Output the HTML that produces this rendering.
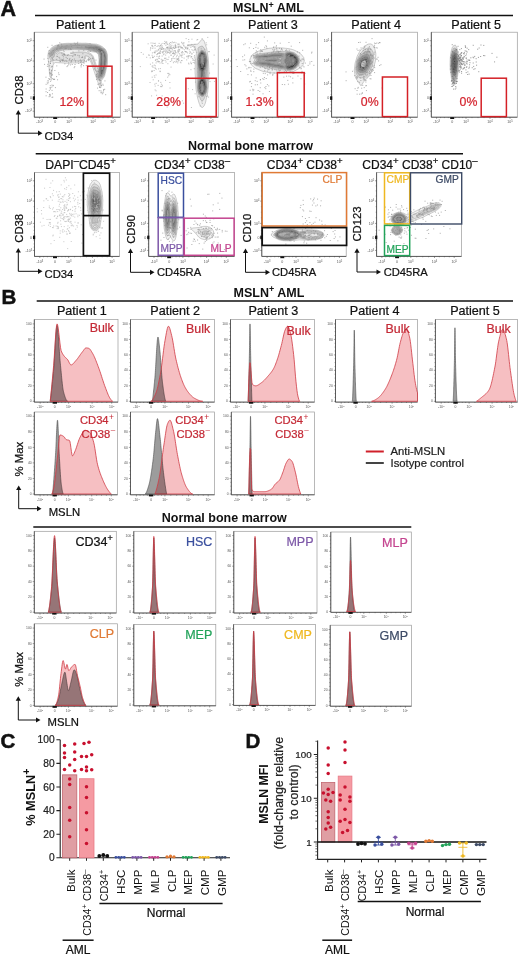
<!DOCTYPE html>
<html><head><meta charset="utf-8"><title>MSLN expression in AML and normal bone marrow</title>
<style>html,body{margin:0;padding:0;background:#fff;width:520px;height:956px;overflow:hidden}svg{display:block}</style>
</head><body>
<svg width="520" height="956" viewBox="0 0 520 956" font-family="&quot;Liberation Sans&quot;, Arial, sans-serif">
<defs><filter id="soft" x="-5%" y="-5%" width="110%" height="110%"><feGaussianBlur stdDeviation="0.3"/></filter></defs>
<rect width="520" height="956" fill="#fff"/>
<text x="0.6" y="16.4" font-size="21.5" font-weight="bold" fill="#111" stroke="#111" stroke-width="0.5">A</text>
<line x1="35" y1="15.5" x2="513" y2="15.5" stroke="#111" stroke-width="1.4"/>
<text x="268.5" y="12" font-size="12.5" text-anchor="middle" font-weight="bold" fill="#111">MSLN<tspan dy="-4.5" font-size="9">+</tspan><tspan dy="4.5"> AML</tspan></text>
<text x="80.8" y="29.4" font-size="12.6" text-anchor="middle" fill="#111" stroke="#111" stroke-width="0.22">Patient 1</text>
<rect x="34.3" y="32.2" width="86.0" height="85.0" fill="none" stroke="#9a9a9a" stroke-width="0.7"/>
<line x1="34.3" y1="32.2" x2="34.3" y2="117.2" stroke="#333" stroke-width="0.7"/>
<line x1="34.3" y1="117.2" x2="120.3" y2="117.2" stroke="#333" stroke-width="0.7"/>
<path d="M32.699999999999996 40.7h1.6M32.699999999999996 61.0h1.6M32.699999999999996 83.7h1.6M32.699999999999996 98.1h1.6M32.699999999999996 111.2h1.6M39.6 117.2v1.6M55.2 117.2v1.6M69.0 117.2v1.6M93.0 117.2v1.6M113.0 117.2v1.6M33.4 45.8h0.9M33.4 50.8h0.9M33.4 55.9h0.9M33.4 66.6h0.9M33.4 72.3h0.9M33.4 78.0h0.9M33.4 87.3h0.9M33.4 90.9h0.9M33.4 94.5h0.9M33.4 101.4h0.9M33.4 104.7h0.9M33.4 107.9h0.9M43.5 117.2v0.9M47.4 117.2v0.9M51.3 117.2v0.9M58.6 117.2v0.9M62.1 117.2v0.9M65.5 117.2v0.9M75.0 117.2v0.9M81.0 117.2v0.9M87.0 117.2v0.9M98.0 117.2v0.9M103.0 117.2v0.9M108.0 117.2v0.9" stroke="#444" stroke-width="0.5" fill="none"/>
<text x="31.9" y="41.9" font-size="3.6" text-anchor="end" fill="#555">10<tspan dy="-1" font-size="2.6">5</tspan></text>
<text x="31.9" y="62.2" font-size="3.6" text-anchor="end" fill="#555">10<tspan dy="-1" font-size="2.6">4</tspan></text>
<text x="31.9" y="84.9" font-size="3.6" text-anchor="end" fill="#555">10<tspan dy="-1" font-size="2.6">3</tspan></text>
<text x="31.9" y="99.3" font-size="3.6" text-anchor="end" fill="#555">0</text>
<text x="31.9" y="112.4" font-size="3.6" text-anchor="end" fill="#555">-10<tspan dy="-1" font-size="2.6">3</tspan></text>
<text x="39.6" y="123.4" font-size="3.6" text-anchor="middle" fill="#555">-10<tspan dy="-1" font-size="2.6">3</tspan></text>
<text x="55.2" y="123.4" font-size="3.6" text-anchor="middle" fill="#555">0</text>
<text x="69.0" y="123.4" font-size="3.6" text-anchor="middle" fill="#555">10<tspan dy="-1" font-size="2.6">3</tspan></text>
<text x="93.0" y="123.4" font-size="3.6" text-anchor="middle" fill="#555">10<tspan dy="-1" font-size="2.6">4</tspan></text>
<text x="113.0" y="123.4" font-size="3.6" text-anchor="middle" fill="#555">10<tspan dy="-1" font-size="2.6">5</tspan></text>
<rect x="32.8" y="96.30000000000001" width="2.2" height="3.6" fill="#111" stroke="none" stroke-width="1"/>
<rect x="53.199999999999996" y="117.2" width="4" height="1.8" fill="#111" stroke="none" stroke-width="1"/>
<text x="175.5" y="29.4" font-size="12.6" text-anchor="middle" fill="#111" stroke="#111" stroke-width="0.22">Patient 2</text>
<rect x="132.2" y="32.2" width="86.0" height="85.0" fill="none" stroke="#9a9a9a" stroke-width="0.7"/>
<line x1="132.2" y1="32.2" x2="132.2" y2="117.2" stroke="#333" stroke-width="0.7"/>
<line x1="132.2" y1="117.2" x2="218.2" y2="117.2" stroke="#333" stroke-width="0.7"/>
<path d="M130.6 40.7h1.6M130.6 61.0h1.6M130.6 83.7h1.6M130.6 98.1h1.6M130.6 111.2h1.6M137.5 117.2v1.6M153.1 117.2v1.6M166.9 117.2v1.6M190.9 117.2v1.6M210.9 117.2v1.6M131.29999999999998 45.8h0.9M131.29999999999998 50.8h0.9M131.29999999999998 55.9h0.9M131.29999999999998 66.6h0.9M131.29999999999998 72.3h0.9M131.29999999999998 78.0h0.9M131.29999999999998 87.3h0.9M131.29999999999998 90.9h0.9M131.29999999999998 94.5h0.9M131.29999999999998 101.4h0.9M131.29999999999998 104.7h0.9M131.29999999999998 107.9h0.9M141.4 117.2v0.9M145.3 117.2v0.9M149.2 117.2v0.9M156.5 117.2v0.9M160.0 117.2v0.9M163.4 117.2v0.9M172.9 117.2v0.9M178.9 117.2v0.9M184.9 117.2v0.9M195.9 117.2v0.9M200.9 117.2v0.9M205.9 117.2v0.9" stroke="#444" stroke-width="0.5" fill="none"/>
<text x="129.79999999999998" y="41.9" font-size="3.6" text-anchor="end" fill="#555">10<tspan dy="-1" font-size="2.6">5</tspan></text>
<text x="129.79999999999998" y="62.2" font-size="3.6" text-anchor="end" fill="#555">10<tspan dy="-1" font-size="2.6">4</tspan></text>
<text x="129.79999999999998" y="84.9" font-size="3.6" text-anchor="end" fill="#555">10<tspan dy="-1" font-size="2.6">3</tspan></text>
<text x="129.79999999999998" y="99.3" font-size="3.6" text-anchor="end" fill="#555">0</text>
<text x="129.79999999999998" y="112.4" font-size="3.6" text-anchor="end" fill="#555">-10<tspan dy="-1" font-size="2.6">3</tspan></text>
<text x="137.5" y="123.4" font-size="3.6" text-anchor="middle" fill="#555">-10<tspan dy="-1" font-size="2.6">3</tspan></text>
<text x="153.1" y="123.4" font-size="3.6" text-anchor="middle" fill="#555">0</text>
<text x="166.9" y="123.4" font-size="3.6" text-anchor="middle" fill="#555">10<tspan dy="-1" font-size="2.6">3</tspan></text>
<text x="190.9" y="123.4" font-size="3.6" text-anchor="middle" fill="#555">10<tspan dy="-1" font-size="2.6">4</tspan></text>
<text x="210.9" y="123.4" font-size="3.6" text-anchor="middle" fill="#555">10<tspan dy="-1" font-size="2.6">5</tspan></text>
<rect x="130.7" y="96.30000000000001" width="2.2" height="3.6" fill="#111" stroke="none" stroke-width="1"/>
<rect x="151.1" y="117.2" width="4" height="1.8" fill="#111" stroke="none" stroke-width="1"/>
<text x="272.9" y="29.4" font-size="12.6" text-anchor="middle" fill="#111" stroke="#111" stroke-width="0.22">Patient 3</text>
<rect x="231.6" y="32.2" width="86.00000000000003" height="85.0" fill="none" stroke="#9a9a9a" stroke-width="0.7"/>
<line x1="231.6" y1="32.2" x2="231.6" y2="117.2" stroke="#333" stroke-width="0.7"/>
<line x1="231.6" y1="117.2" x2="317.6" y2="117.2" stroke="#333" stroke-width="0.7"/>
<path d="M230.0 40.7h1.6M230.0 61.0h1.6M230.0 83.7h1.6M230.0 98.1h1.6M230.0 111.2h1.6M236.9 117.2v1.6M252.5 117.2v1.6M266.3 117.2v1.6M290.3 117.2v1.6M310.3 117.2v1.6M230.7 45.8h0.9M230.7 50.8h0.9M230.7 55.9h0.9M230.7 66.6h0.9M230.7 72.3h0.9M230.7 78.0h0.9M230.7 87.3h0.9M230.7 90.9h0.9M230.7 94.5h0.9M230.7 101.4h0.9M230.7 104.7h0.9M230.7 107.9h0.9M240.8 117.2v0.9M244.7 117.2v0.9M248.6 117.2v0.9M255.9 117.2v0.9M259.4 117.2v0.9M262.9 117.2v0.9M272.3 117.2v0.9M278.3 117.2v0.9M284.3 117.2v0.9M295.3 117.2v0.9M300.3 117.2v0.9M305.3 117.2v0.9" stroke="#444" stroke-width="0.5" fill="none"/>
<text x="229.2" y="41.9" font-size="3.6" text-anchor="end" fill="#555">10<tspan dy="-1" font-size="2.6">5</tspan></text>
<text x="229.2" y="62.2" font-size="3.6" text-anchor="end" fill="#555">10<tspan dy="-1" font-size="2.6">4</tspan></text>
<text x="229.2" y="84.9" font-size="3.6" text-anchor="end" fill="#555">10<tspan dy="-1" font-size="2.6">3</tspan></text>
<text x="229.2" y="99.3" font-size="3.6" text-anchor="end" fill="#555">0</text>
<text x="229.2" y="112.4" font-size="3.6" text-anchor="end" fill="#555">-10<tspan dy="-1" font-size="2.6">3</tspan></text>
<text x="236.9" y="123.4" font-size="3.6" text-anchor="middle" fill="#555">-10<tspan dy="-1" font-size="2.6">3</tspan></text>
<text x="252.5" y="123.4" font-size="3.6" text-anchor="middle" fill="#555">0</text>
<text x="266.3" y="123.4" font-size="3.6" text-anchor="middle" fill="#555">10<tspan dy="-1" font-size="2.6">3</tspan></text>
<text x="290.3" y="123.4" font-size="3.6" text-anchor="middle" fill="#555">10<tspan dy="-1" font-size="2.6">4</tspan></text>
<text x="310.3" y="123.4" font-size="3.6" text-anchor="middle" fill="#555">10<tspan dy="-1" font-size="2.6">5</tspan></text>
<rect x="230.1" y="96.30000000000001" width="2.2" height="3.6" fill="#111" stroke="none" stroke-width="1"/>
<rect x="250.5" y="117.2" width="4" height="1.8" fill="#111" stroke="none" stroke-width="1"/>
<text x="376.2" y="29.4" font-size="12.6" text-anchor="middle" fill="#111" stroke="#111" stroke-width="0.22">Patient 4</text>
<rect x="331.6" y="32.2" width="86.0" height="85.0" fill="none" stroke="#9a9a9a" stroke-width="0.7"/>
<line x1="331.6" y1="32.2" x2="331.6" y2="117.2" stroke="#333" stroke-width="0.7"/>
<line x1="331.6" y1="117.2" x2="417.6" y2="117.2" stroke="#333" stroke-width="0.7"/>
<path d="M330.0 40.7h1.6M330.0 61.0h1.6M330.0 83.7h1.6M330.0 98.1h1.6M330.0 111.2h1.6M336.9 117.2v1.6M352.5 117.2v1.6M366.3 117.2v1.6M390.3 117.2v1.6M410.3 117.2v1.6M330.70000000000005 45.8h0.9M330.70000000000005 50.8h0.9M330.70000000000005 55.9h0.9M330.70000000000005 66.6h0.9M330.70000000000005 72.3h0.9M330.70000000000005 78.0h0.9M330.70000000000005 87.3h0.9M330.70000000000005 90.9h0.9M330.70000000000005 94.5h0.9M330.70000000000005 101.4h0.9M330.70000000000005 104.7h0.9M330.70000000000005 107.9h0.9M340.8 117.2v0.9M344.7 117.2v0.9M348.6 117.2v0.9M355.9 117.2v0.9M359.4 117.2v0.9M362.9 117.2v0.9M372.3 117.2v0.9M378.3 117.2v0.9M384.3 117.2v0.9M395.3 117.2v0.9M400.3 117.2v0.9M405.3 117.2v0.9" stroke="#444" stroke-width="0.5" fill="none"/>
<text x="329.20000000000005" y="41.9" font-size="3.6" text-anchor="end" fill="#555">10<tspan dy="-1" font-size="2.6">5</tspan></text>
<text x="329.20000000000005" y="62.2" font-size="3.6" text-anchor="end" fill="#555">10<tspan dy="-1" font-size="2.6">4</tspan></text>
<text x="329.20000000000005" y="84.9" font-size="3.6" text-anchor="end" fill="#555">10<tspan dy="-1" font-size="2.6">3</tspan></text>
<text x="329.20000000000005" y="99.3" font-size="3.6" text-anchor="end" fill="#555">0</text>
<text x="329.20000000000005" y="112.4" font-size="3.6" text-anchor="end" fill="#555">-10<tspan dy="-1" font-size="2.6">3</tspan></text>
<text x="336.9" y="123.4" font-size="3.6" text-anchor="middle" fill="#555">-10<tspan dy="-1" font-size="2.6">3</tspan></text>
<text x="352.5" y="123.4" font-size="3.6" text-anchor="middle" fill="#555">0</text>
<text x="366.3" y="123.4" font-size="3.6" text-anchor="middle" fill="#555">10<tspan dy="-1" font-size="2.6">3</tspan></text>
<text x="390.3" y="123.4" font-size="3.6" text-anchor="middle" fill="#555">10<tspan dy="-1" font-size="2.6">4</tspan></text>
<text x="410.3" y="123.4" font-size="3.6" text-anchor="middle" fill="#555">10<tspan dy="-1" font-size="2.6">5</tspan></text>
<rect x="330.1" y="96.30000000000001" width="2.2" height="3.6" fill="#111" stroke="none" stroke-width="1"/>
<rect x="350.5" y="117.2" width="4" height="1.8" fill="#111" stroke="none" stroke-width="1"/>
<text x="476.2" y="29.4" font-size="12.6" text-anchor="middle" fill="#111" stroke="#111" stroke-width="0.22">Patient 5</text>
<rect x="431.3" y="32.2" width="85.99999999999994" height="85.0" fill="none" stroke="#9a9a9a" stroke-width="0.7"/>
<line x1="431.3" y1="32.2" x2="431.3" y2="117.2" stroke="#333" stroke-width="0.7"/>
<line x1="431.3" y1="117.2" x2="517.3" y2="117.2" stroke="#333" stroke-width="0.7"/>
<path d="M429.7 40.7h1.6M429.7 61.0h1.6M429.7 83.7h1.6M429.7 98.1h1.6M429.7 111.2h1.6M436.6 117.2v1.6M452.2 117.2v1.6M466.0 117.2v1.6M490.0 117.2v1.6M510.0 117.2v1.6M430.40000000000003 45.8h0.9M430.40000000000003 50.8h0.9M430.40000000000003 55.9h0.9M430.40000000000003 66.6h0.9M430.40000000000003 72.3h0.9M430.40000000000003 78.0h0.9M430.40000000000003 87.3h0.9M430.40000000000003 90.9h0.9M430.40000000000003 94.5h0.9M430.40000000000003 101.4h0.9M430.40000000000003 104.7h0.9M430.40000000000003 107.9h0.9M440.5 117.2v0.9M444.4 117.2v0.9M448.3 117.2v0.9M455.6 117.2v0.9M459.1 117.2v0.9M462.6 117.2v0.9M472.0 117.2v0.9M478.0 117.2v0.9M484.0 117.2v0.9M495.0 117.2v0.9M500.0 117.2v0.9M505.0 117.2v0.9" stroke="#444" stroke-width="0.5" fill="none"/>
<text x="428.90000000000003" y="41.9" font-size="3.6" text-anchor="end" fill="#555">10<tspan dy="-1" font-size="2.6">5</tspan></text>
<text x="428.90000000000003" y="62.2" font-size="3.6" text-anchor="end" fill="#555">10<tspan dy="-1" font-size="2.6">4</tspan></text>
<text x="428.90000000000003" y="84.9" font-size="3.6" text-anchor="end" fill="#555">10<tspan dy="-1" font-size="2.6">3</tspan></text>
<text x="428.90000000000003" y="99.3" font-size="3.6" text-anchor="end" fill="#555">0</text>
<text x="428.90000000000003" y="112.4" font-size="3.6" text-anchor="end" fill="#555">-10<tspan dy="-1" font-size="2.6">3</tspan></text>
<text x="436.6" y="123.4" font-size="3.6" text-anchor="middle" fill="#555">-10<tspan dy="-1" font-size="2.6">3</tspan></text>
<text x="452.2" y="123.4" font-size="3.6" text-anchor="middle" fill="#555">0</text>
<text x="466.0" y="123.4" font-size="3.6" text-anchor="middle" fill="#555">10<tspan dy="-1" font-size="2.6">3</tspan></text>
<text x="490.0" y="123.4" font-size="3.6" text-anchor="middle" fill="#555">10<tspan dy="-1" font-size="2.6">4</tspan></text>
<text x="510.0" y="123.4" font-size="3.6" text-anchor="middle" fill="#555">10<tspan dy="-1" font-size="2.6">5</tspan></text>
<rect x="429.8" y="96.30000000000001" width="2.2" height="3.6" fill="#111" stroke="none" stroke-width="1"/>
<rect x="450.2" y="117.2" width="4" height="1.8" fill="#111" stroke="none" stroke-width="1"/>
<g filter="url(#soft)">
<path d="M67.9 43.3 85.2 43.2 96.4 44.2 99.4 45.1 102.4 46.7 105.4 49.3 106.6 51.6 107.5 55.3 107.3 65.1 104.5 76.3 101.3 80.8 100.9 87.7 100.2 87.7 99.4 86.5 91.2 62.8 88.9 58.9 88.2 58.9 86.7 60.8 85.2 61.8 81.4 62.8 66.4 63.2 55.1 62.5 53.8 63.6 53.1 65.1 51.4 75.5 50.6 77.5 49.9 76.7 47.8 55.3 48.6 51.5 51.4 47.8 54.4 45.8 61.1 43.7 67.6 43.3ZM69 44.1 61.1 44.6 55.1 46.4 52.1 48.2 50.1 50.8 48.8 53.8 48.9 56.1 50.8 60.6 51.4 61.2 52.1 61.2 55.1 60.2 64.9 61.2 80.7 60.9 84.2 59.8 85.1 58.3 84.9 56 86.6 56 88.9 56.8 90.4 58.5 95.7 71.2 96.3 71.1 94.9 64.3 92.5 56.8 91.2 55 87.4 53 85.2 52.2 82.2 52 74.7 52.3 70.2 53.1 75.8 54.6 72.4 55.4 64.9 55 63.1 54.6 64 53.8 63.2 53 60.4 52.7 58.9 52.8 57.4 54.1 56.6 53.8 56.6 53.1 57.3 52.3 60.1 50.8 64.2 49.9 74.7 49.6 87.4 50 95.7 51.5 98.8 53.8 99.7 57.6 99.4 63.6 98.7 68.3 97.9 70.7 97.2 71.4 96.4 71.1 96.2 71.8 96.6 76.3 97.4 78.6 98.7 80.4 99.4 80.6 102.4 78.3 104.3 74.8 106.8 63.5 106.7 54.5 105.9 51.6 104.6 49.3 100.9 46.6 95.7 44.9 85.9 44 69.4 44ZM87.5 51.6 92.7 55.3 94.6 59.8 97.2 68 97.9 67.7 98.7 64.5 99 59.8 98.4 54.6 97.2 53.1 95.7 52.3 93 51.6 88.2 51.3Z" fill="#f2f2f2" stroke="none"/>
<path d="M69.4 44 85.9 44 95.7 44.9 100.9 46.6 104.6 49.3 105.9 51.6 106.7 54.6 106.8 63.5 104.3 74.8 102.4 78.3 99.4 80.6 98.7 80.4 97.4 78.6 96.6 76.3 96.2 71.8 96.4 71.1 97.2 71.4 97.9 70.7 98.7 68.3 99.4 63.6 99.7 57.6 98.8 53.8 95.7 51.5 87.4 50 74.7 49.6 64.2 49.9 60.1 50.8 57.3 52.3 56.6 53.1 56.6 53.8 57.4 54.1 58.9 52.8 60.4 52.7 63.2 53.1 64 53.8 63.1 54.6 64.9 55 72.4 55.4 75.8 54.6 70.2 53.1 74.7 52.3 82.2 52 85.2 52.2 87.4 53 91.2 55 92.5 56.8 94.9 64.3 96.3 71.1 95.7 71.2 90.4 58.5 88.9 56.8 86.7 56 84.9 56 85.1 58.3 84.2 59.8 80.7 60.9 64.9 61.2 55.1 60.2 52.1 61.2 51.4 61.2 50.8 60.6 48.9 56 48.8 53.8 50.1 50.8 52.1 48.2 55.1 46.4 61.1 44.6 69 44ZM68.2 44.8 61.1 45.4 53.6 48 51.5 50.1 50.1 52.3 49.6 54.6 50 56.1 51.4 57.6 52.9 57.7 54.1 56.8 55 53.1 56 51.6 59 50.1 63.4 49.1 74.7 48.7 85.9 49.3 95.7 50.9 98.9 53.1 99.7 54.5 100.2 56.8 99.6 65.8 98.7 71 97.4 74.1 97.5 76.3 98 77.8 99.4 78.8 100.9 78.4 102.4 77.3 103.7 74.8 105.7 67.3 106.5 59.8 105.9 53.1 105 50.8 103.8 49.3 99.4 46.6 94.9 45.4 85.9 44.7 68.7 44.8Z" fill="#dedede" stroke="none"/>
<path d="M68.7 44.8 85.9 44.7 94.9 45.4 99.4 46.6 103.8 49.3 105 50.8 105.9 53.1 106.5 59.8 105.7 67.3 103.7 74.8 102.4 77.3 100.9 78.4 99.4 78.8 98 77.8 97.5 76.3 97.4 74.1 98.7 71 99.6 65.8 100.2 56.8 99.7 54.6 98.9 53.1 95.7 50.9 85.9 49.3 74.7 48.7 63.4 49.1 59 50.1 56 51.6 55 53.1 54.1 56.8 52.9 57.7 51.4 57.6 50 56.1 49.6 54.5 50.1 52.3 51.5 50.1 53.6 48 61.1 45.4 68.2 44.8ZM72 45.6 61.9 46.2 55.1 48.4 52.1 50.8 50.8 53.1 50.7 54.6 51.4 55.5 52.6 55.3 54.5 51.6 56.6 49.7 63.4 48.1 74.7 47.8 85.2 48.4 91.2 49.2 96.4 50.5 99.4 52.7 100.5 55.3 100.3 64.3 98.4 75.6 99.4 77.4 100.2 77.6 101.7 77 103.5 73.3 105.8 62.8 105.8 55.3 105.1 52.3 103.8 50.1 100.2 47.6 95.7 46.1 87.4 45.4 72.4 45.5Z" fill="#c6c6c6" stroke="none"/>
<path d="M72.4 45.5 87.4 45.4 95.7 46.1 100.2 47.6 103.8 50.1 105.1 52.3 105.8 55.3 105.8 62.8 103.5 73.3 101.7 77 100.2 77.6 99.4 77.4 98.4 75.6 100.3 64.3 100.5 55.3 99.4 52.7 96.4 50.5 91.2 49.2 85.2 48.4 74.7 47.8 63.4 48.1 56.6 49.7 54.5 51.6 52.6 55.3 51.4 55.5 50.7 54.6 50.8 53.1 52.1 50.8 55.1 48.4 61.9 46.2 72 45.6ZM84.9 47.1 95.7 49.5 98.7 51.2 100.3 53.1 101 55.3 101.1 59.1 99.4 74.8 100.1 76.3 100.9 76.3 101.8 75.6 102.9 73.3 105.1 65.1 105.5 57.6 104.2 51.6 101.7 49 97.1 47.1 89.7 46.6 85.2 47Z" fill="#a8a8a8" stroke="none"/>
<path d="M85.2 47 89.7 46.6 97.2 47.1 101.7 49 104.2 51.6 105.5 57.6 105.1 65.1 102.9 73.3 101.8 75.6 100.9 76.3 100.1 76.3 99.4 74.8 101.1 59.1 101 55.3 100.3 53.1 98.7 51.2 95.7 49.5 84.9 47ZM96.7 48.5 100.2 51.8 101.5 55.3 101.5 61.3 100.4 72.6 100.9 74.5 101.7 74.1 102.4 72.8 104.3 66.6 104.9 61.3 104.9 56 104 52.3 103 50.8 100.9 49.3 97.2 48.4Z" fill="#8a8a8a" stroke="none"/>
<path d="M97.2 48.4 100.9 49.3 103 50.8 104 52.3 104.9 56 104.9 61.3 104.3 66.6 102.4 72.8 101.7 74.1 100.9 74.5 100.4 72.6 101.5 61.3 101.5 55.3 100.2 51.8 96.7 48.6ZM101.2 51.6 102 53.8 102.3 56.8 101.7 70.1 102.4 69.8 103.9 65.1 104.4 58.3 103.9 54.6 103.2 52.4 101.7 51Z" fill="#6a6a6a" stroke="none"/>
<path d="M101.7 51 103.2 52.4 103.9 54.6 104.4 58.3 103.9 65.1 102.4 69.8 101.7 70.1 102.3 56.8 102 53.8 101.2 51.6Z" fill="#9a9a9a" stroke="none"/>
<path d="M67.9 43.3 85.2 43.2 96.4 44.2 99.4 45.1 102.4 46.7 105.4 49.3 106.6 51.6 107.5 55.3 107.3 65.1 104.5 76.3 101.3 80.8 100.9 87.7 100.2 87.7 99.4 86.5 91.2 62.8 88.9 58.9 88.2 58.9 86.7 60.8 85.2 61.8 81.4 62.8 66.4 63.2 55.1 62.5 53.8 63.6 53.1 65.1 51.4 75.5 50.6 77.5 49.9 76.7 47.8 55.3 48.6 51.5 51.4 47.8 54.4 45.8 61.1 43.7 67.6 43.3ZM88.2 51.3 87.5 51.6 91.9 54.4 93.2 56.1 97.2 68 97.9 67.7 98.7 64.5 99 59.8 98.4 54.6 97.2 53.1 95.7 52.3 88.9 51.2Z" fill="none" stroke="#3c3c3c" stroke-width="0.3" stroke-opacity="0.8"/>
<path d="M69.4 44 85.9 44 95.7 44.9 100.9 46.6 104.6 49.3 105.9 51.6 106.7 54.6 106.8 63.5 104.3 74.8 102.4 78.3 99.4 80.6 98.7 80.4 97.4 78.6 96.6 76.3 96.2 71.8 96.4 71.1 97.2 71.4 97.9 70.7 98.7 68.3 99.4 63.6 99.7 57.6 98.8 53.8 95.7 51.5 87.4 50 74.7 49.6 64.2 49.9 60.1 50.8 57.3 52.3 56.6 53.1 56.6 53.8 57.4 54.1 58.9 52.8 60.4 52.7 63.2 53.1 64 53.8 63.1 54.6 64.9 55 72.4 55.4 75.8 54.6 70.2 53.1 74.7 52.3 82.2 52 85.2 52.2 87.4 53 91.2 55 92.5 56.8 94.9 64.3 96.3 71.1 95.7 71.2 90.4 58.5 88.9 56.8 86.7 56 84.9 56 85.1 58.3 84.2 59.8 80.7 60.9 64.9 61.2 55.1 60.2 52.1 61.2 51.4 61.2 50.8 60.6 48.9 56 48.8 53.8 50.1 50.8 52.1 48.2 55.1 46.4 61.1 44.6 69 44Z" fill="none" stroke="#3c3c3c" stroke-width="0.3" stroke-opacity="0.8"/>
<path d="M68.7 44.8 85.9 44.7 94.9 45.4 99.4 46.6 103.8 49.3 105 50.8 105.9 53.1 106.5 59.8 105.7 67.3 103.7 74.8 102.4 77.3 100.9 78.4 99.4 78.8 98 77.8 97.5 76.3 97.4 74.1 98.7 71 99.6 65.8 100.2 56.8 99.7 54.6 98.9 53.1 95.7 50.9 85.9 49.3 74.7 48.7 63.4 49.1 59 50.1 56 51.6 55 53.1 54.1 56.8 52.9 57.7 51.4 57.6 50 56.1 49.6 54.5 50.1 52.3 51.5 50.1 53.6 48 61.1 45.4 68.2 44.8Z" fill="none" stroke="#3c3c3c" stroke-width="0.3" stroke-opacity="0.8"/>
<path d="M72.4 45.5 87.4 45.4 95.7 46.1 100.2 47.6 103.8 50.1 105.1 52.3 105.8 55.3 105.8 62.8 103.5 73.3 101.7 77 100.2 77.6 99.4 77.4 98.4 75.6 100.3 64.3 100.5 55.3 99.4 52.7 96.4 50.5 91.2 49.2 85.2 48.4 74.7 47.8 63.4 48.1 56.6 49.7 54.5 51.6 52.6 55.3 51.4 55.5 50.7 54.6 50.8 53.1 52.1 50.8 55.1 48.4 61.9 46.2 72 45.6Z" fill="none" stroke="#3c3c3c" stroke-width="0.3" stroke-opacity="0.8"/>
<path d="M85.2 47 89.7 46.6 97.2 47.1 101.7 49 104.2 51.6 105.5 57.6 105.1 65.1 102.9 73.3 101.8 75.6 100.9 76.3 100.1 76.3 99.4 74.8 101.1 59.1 101 55.3 100.3 53.1 98.7 51.2 95.7 49.5 84.9 47Z" fill="none" stroke="#3c3c3c" stroke-width="0.3" stroke-opacity="0.8"/>
<path d="M97.2 48.4 100.9 49.3 103 50.8 104 52.3 104.9 56 104.9 61.3 104.3 66.6 102.4 72.8 101.7 74.1 100.9 74.5 100.4 72.6 101.5 61.3 101.5 55.3 100.2 51.8 96.7 48.6Z" fill="none" stroke="#3c3c3c" stroke-width="0.3" stroke-opacity="0.8"/>
<path d="M101.7 51 103.2 52.4 103.9 54.6 104.4 58.3 103.9 65.1 102.4 69.8 101.7 70.1 102.3 56.8 102 53.8 101.2 51.6Z" fill="none" stroke="#3c3c3c" stroke-width="0.3" stroke-opacity="0.8"/>
<path d="M51.1 71.8h.3M52.6 97.1h.3M49.9 56.8h.3M45.9 91.7h.3M50.3 63.5h.3M49.3 70h.3M52.3 93.8h.3M51.1 67.1h.3M45.8 77.2h.3M47.6 47.3h.3M52.7 85.9h.3M52.3 78.7h.3M48.8 66.2h.3M50.2 85.7h.3M51.9 66.3h.3M51.8 74.4h.3M53.3 59.9h.3M51.3 75.7h.3M50.5 61.7h.3M50 62.1h.3M53.2 85.4h.3M44.4 64.4h.3M50.1 74.1h.3M50.1 96h.3M46 95.8h.3M51.2 79.9h.3M48.6 78.7h.3M53.1 62.9h.3M50.5 55.9h.3M51.9 97.4h.3M53.8 78.9h.3M51.9 58.6h.3M47.9 80.5h.3M46 84.3h.3M55.3 87.6h.3M49.8 95.7h.3M49 50.6h.3M50.8 73.6h.3M50 72.9h.3M53.3 50.5h.3M50.4 81.3h.3M50.2 89.1h.3M48.4 82.1h.3M52 66.4h.3M47.2 82.2h.3M52.3 75h.3M54.7 70.5h.3M46 89h.3M43.9 59.1h.3M51.9 90.4h.3M57.4 79.8h.3M47.4 92.5h.3M47.3 66.3h.3M51.8 85.1h.3M48.4 61.7h.3M49.5 53.8h.3M49.2 90.4h.3M51.6 87.2h.3M49 96.7h.3M51.3 70.5h.3M50.2 63.5h.3M48.6 53.7h.3M49.4 79.2h.3M47.6 83.7h.3M50.2 88h.3M47.5 64.3h.3M47.7 58.4h.3M54.4 79.5h.3M50 87.6h.3M49.9 94.4h.3M52.3 58.9h.3M49.3 72.9h.3M49.5 94.4h.3M51.7 70.1h.3M51.2 78.1h.3M58.4 45.7h.3M61.2 47.3h.3M65.4 48.3h.3M81.5 46.9h.3M75.2 44.6h.3M97.5 49.2h.3M100.3 52.8h.3M91.1 49.1h.3M89.9 43.7h.3M96 51.7h.3M102 51.5h.3M56.4 49.2h.3M61.4 46h.3M70.5 48.7h.3M61.2 44.3h.3M88.4 48.7h.3M66.8 45.5h.3M66.3 48.4h.3M68.6 49.2h.3M58.5 45.1h.3M88.9 48.5h.3M86.7 47.8h.3M83.6 50.3h.3M60.2 48.7h.3M75.8 43.5h.3M88.8 49.2h.3M65 48.7h.3M72.9 51.9h.3M59.6 42.8h.3M57.4 45.6h.3M63.5 50.1h.3M74.2 43.2h.3M77.1 43.6h.3M94 51.2h.3M70.2 49.2h.3M51.9 45.3h.3M98.2 50.7h.3M57.8 47.2h.3M57.9 50.7h.3M99 50.7h.3M90.3 51.2h.3M70.8 44.4h.3M58.8 46.4h.3M71.4 46.4h.3M71 49.5h.3M95.7 51.3h.3M77.6 44.7h.3M61.8 48.6h.3M99.6 52.2h.3M86.2 47.2h.3M57.3 46.2h.3M62.1 46.4h.3M77.5 42.3h.3M60.7 47.4h.3M89.5 48.2h.3M79.1 45.3h.3M57.2 48.8h.3M91.1 45.8h.3M94.3 47.6h.3M95.7 49h.3M100.5 80.5h.3M105.5 94.7h.3M99.6 75.2h.3M99.6 87.1h.3M97.3 68.8h.3M96.6 74.5h.3M96.6 76.9h.3M101.1 92.2h.3M100.9 92.8h.3M104.5 89.3h.3M97.4 71.1h.3M103 85.3h.3M102.7 84.2h.3M99.3 79.8h.3M103.5 89.5h.3M100 80.2h.3M98.9 84.2h.3M98.9 75.5h.3M99.1 79.8h.3M99.4 87.4h.3M97.5 73.2h.3M98.7 76.7h.3M100 81.3h.3M97.8 84.3h.3M100.8 90.8h.3M97.4 88.1h.3M100.5 82.8h.3M102.2 93.8h.3M98.4 77.6h.3M98.1 71.3h.3M100.2 83.9h.3M96.5 79.5h.3M99.5 83.2h.3M101 85.2h.3M99.6 77.7h.3M101.3 85.6h.3M104.8 80.9h.3M99.1 79.2h.3M103.1 92h.3M103.4 90.6h.3M97.9 78.2h.3M96.3 76.3h.3M99 90.7h.3M98.1 76.7h.3M102.8 92.9h.3M82.4 57.4h.3M96.2 74.8h.3M77.6 55.3h.3M59.7 60.2h.3M51.1 77.2h.3M104 49.3h.3M94.1 69h.3M56.5 59.4h.3M98.5 71.5h.3M64.5 54.4h.3M86.3 61.7h.3M68.1 54.7h.3M58.9 74.6h.3M56.4 76.6h.3M49.6 65.3h.3M49.8 79.2h.3M49.5 69.3h.3M50.8 73.2h.3M99.2 75.8h.3M78.7 50.9h.3M53.4 79.5h.3M79.1 55.6h.3M80.3 59.9h.3M77.3 47.2h.3M58.4 72.9h.3M68.5 62.9h.3M86.1 65.5h.3M64.6 61.1h.3M72.6 56.4h.3M69.4 59.7h.3M57.2 56.5h.3M59.9 61.7h.3M80.9 65.4h.3M83.2 62.2h.3M67.2 58.5h.3M63.4 59.1h.3M66.6 61.6h.3M62.8 55.1h.3M75.4 61.9h.3M71.4 61.7h.3M72.2 59.5h.3M88.8 59.6h.3M81.6 61.7h.3M92.6 58.2h.3M88.7 58.1h.3M81.5 64.1h.3M70.7 62.1h.3M56.6 65.9h.3M63.3 56.8h.3M64.7 55.1h.3M81.5 64.4h.3M74.9 64.5h.3M58.8 57.3h.3M67.4 55.4h.3M81 61h.3M64.2 54.2h.3M61 59.3h.3M61.6 53h.3M71.2 60.5h.3M82.7 53.7h.3M62.3 59.7h.3M74.6 66.6h.3M62 60.4h.3M64.7 63.8h.3M74.3 59.1h.3M84.9 58h.3M62.1 55.2h.3M70.3 64.9h.3M52.1 59.9h.3M81 66.9h.3M79.2 57h.3M95.8 60.1h.3M78.1 61.4h.3M67.7 65.6h.3M74.1 67.7h.3M69.7 58.6h.3M56.8 56.2h.3M75.2 55.2h.3M83.4 65.7h.3M88.3 60.6h.3M92.6 58.6h.3M75.2 60.7h.3M63.9 51.6h.3M64.3 54.1h.3M68.6 64.3h.3M80.5 62.4h.3M62.6 61h.3M81.6 57.5h.3M83.9 63.2h.3M66.9 66.6h.3M82.3 56.9h.3M84 61.1h.3M88.7 59.4h.3M60.3 61.5h.3M80.1 61.1h.3M84.2 60.5h.3M66 57.4h.3M62.8 60.6h.3M90.6 58.7h.3M62.8 60.3h.3M65.9 60.4h.3M78.5 63.4h.3M59.5 58.1h.3M69.1 60h.3M72.1 64.5h.3" stroke="#8e8e8e" stroke-width="0.66" stroke-linecap="round" fill="none"/>
</g>
<g filter="url(#soft)">
<path d="M201.8 39.5 203.3 39.9 204.2 41.1 206.7 48.6 208.3 58.3 208.9 71.1 208.4 86.8 207.5 93.6 205.3 103.3 204 106.1 202.5 107.5 201 107 199.1 103.3 197.6 98.1 196 89.1 195 71.8 195.3 62.8 196.4 53.1 196.2 50.8 195.3 48.6 193.5 46.8 191.3 45.9 187.5 45.6 188.2 44.8 197.8 44.1 201.6 39.6ZM200.9 46.3 198.8 47.2 197.9 48.6 198.2 52.3 196.8 62.1 197 86.1 197.6 91.3 198.5 94.3 200.6 99.6 201.8 100.9 202.5 100.9 204 99.1 206 94.3 207.3 88.3 207.6 61.3 206.7 54.6 204.4 48.6 202.5 46.1 201.1 46.2Z" fill="#eeeeee" stroke="none"/>
<path d="M201 46.2 202.5 46.1 204.4 48.6 206.7 54.6 207.6 61.3 207.3 88.3 206 94.3 204 99.1 202.6 100.9 201.8 100.9 200.6 99.6 198.5 94.3 197.6 91.3 197 86.1 196.8 62.1 198.2 52.3 197.9 48.6 198.8 47.2 200.9 46.3ZM200.5 50.8 198.5 54.6 197.6 59.1 198.1 79.3 197.7 87.6 198.4 92.1 199.4 94.3 201 96.1 202.5 96.5 204 95.7 205.2 94.3 206.1 92.1 206.8 88.3 206.2 78.6 207 60.5 206.4 56.1 205 52.3 203.3 50.5 201 50.3Z" fill="#d6d6d6" stroke="none"/>
<path d="M201 50.3 203.3 50.5 205 52.3 206.4 56.1 207 60.6 206.2 78.6 206.8 88.3 206.1 92.1 205.2 94.3 204 95.7 202.5 96.5 201 96.1 199.4 94.3 198.4 92.1 197.7 87.6 198.1 79.3 197.6 59.1 198.5 54.6 200.5 50.8ZM201 51.6 199.3 53.8 198.2 59.1 198.1 64.3 199.2 71.1 199.3 77.8 198.4 83.1 198.2 87.6 198.6 90.6 199.6 93.6 201 95.2 202.5 95.5 204 94.7 204.9 93.6 206.4 87.6 206 82.3 205.1 77.8 205.2 71.1 206.1 66.6 206.6 60.6 205.9 56.1 204.9 53.1 203.3 51.4 201 51.5Z" fill="#b8b8b8" stroke="none"/>
<path d="M201 51.5 203.3 51.4 204.9 53.1 205.9 56.1 206.6 60.6 206.1 66.6 205.2 71.1 205.1 77.8 206 82.3 206.4 87.6 204.9 93.6 204 94.7 202.5 95.5 201 95.2 199.6 93.6 198.6 90.6 198.2 87.6 198.4 83.1 199.3 77.8 199.2 71.1 198.1 64.3 198.2 59.1 199.3 53.8 201 51.6ZM200.9 52.3 199.3 55.3 198.6 59.8 198.6 65.1 199.2 68.1 200.7 71.8 200.9 77.1 199.2 81.6 198.7 86.8 199.8 92.8 201 94.5 202.5 94.9 203.7 94.3 204.8 92.7 206 87.6 205.4 81.6 203.5 77.1 203.7 71.8 205.3 68.1 206.2 61.3 205.6 56.5 204.3 53.1 202.5 51.8 201 52.1ZM201.8 55.1 202.5 54.9 202.9 55.3 203.5 57.5 203.3 61.7 202.5 63.9 201.8 63.5 201 60.3 201.7 55.3ZM201.8 84.5 202.5 84.2 203.3 86.1 203.5 89.8 202.5 92 201.5 91.3 201 89.2 201.8 84.6Z" fill="#969696" stroke="none"/>
<path d="M201 52.1 202.5 51.8 204.3 53.1 205.5 56.5 206.2 61.3 205.3 68.1 203.7 71.8 203.5 77.1 205.4 81.6 206 87.6 204.8 92.7 203.7 94.3 202.5 94.9 201 94.5 199.8 92.8 198.7 86.8 199.2 81.6 200.9 77.1 200.7 71.8 199.2 68.1 198.6 65.1 198.6 59.8 199.3 55.3 200.9 52.3ZM201 53.1 199.5 57 199.2 65.1 200.3 69.4 201 70.4 202.5 70.9 204 69.7 204.8 68.1 205.7 60.6 204.8 56.3 203.8 64.3 202.7 66.6 201.8 66.5 200.5 62.8 200.1 57.5 200.6 55.3 201.8 54 203.7 54.6 204 55.6 204.2 54.5 203.5 53 202.5 52.4 201 53ZM201.7 55.3 201 60.3 201.8 63.5 202.5 63.9 203.3 61.7 203.5 57.5 202.9 55.3 202.5 54.9 201.8 55.1ZM202.5 78.6 201 79 199.7 81.6 199.3 84.6 199.5 89.1 200.9 83.8 201.8 82.4 202.5 82.2 204 84.6 204.8 89.7 205.6 86.8 204.8 81.6 204 79.7 202.5 78.5ZM201.8 84.6 201.1 89.2 201.5 91.3 202.5 92 203.5 89.8 203.3 86.1 202.5 84.2 201.8 84.5ZM200.2 91.3 200.3 92.1 200.3 90.7ZM200.7 92.8 201 93.6 202.5 94.3 203.8 92.8 201.8 92.9 201 92.4Z" fill="#707070" stroke="none"/>
<path d="M201 53 202.5 52.4 203.5 53.1 204.2 54.6 204 55.6 203.7 54.5 201.8 54 200.6 55.3 200.1 57.6 200.5 62.8 201.8 66.5 202.7 66.6 203.8 64.3 204.8 56.3 205.7 60.6 204.8 68.1 204 69.7 202.5 70.9 201 70.4 200.3 69.4 199.2 65.1 199.5 57 201 53.1ZM200.3 67.3 200.7 68.8 201.8 69.9 203.3 69.6 204.1 68.1 204 67.1 202.5 67.8 200.3 67.1ZM202.5 78.5 204 79.7 204.8 81.6 205.6 86.8 204.8 89.7 204 84.6 202.5 82.2 201.8 82.4 200.9 83.8 199.5 89.1 199.3 84.6 199.7 81.6 201 79 202.5 78.6ZM201.1 80.1 201 81.5 203.3 81.3 203.7 80.8 203.4 80.1 201.8 79.5ZM200.3 90.7 200.3 92.1 200.2 91.3ZM201 92.4 201.8 92.9 203.8 92.8 202.5 94.3 201 93.6 200.7 92.8Z" fill="#4a4a4a" stroke="none"/>
<path d="M200.3 67.1 202.5 67.8 204 67.1 204.1 68.1 203.3 69.6 201.8 69.9 200.7 68.8 200.3 67.3ZM201.8 79.5 203.4 80.1 203.7 80.8 203.3 81.3 201 81.5 201.1 80.1Z" fill="#303030" stroke="none"/>
<path d="M201.8 39.5 203.3 39.9 204.2 41.1 206.7 48.6 208.3 58.3 208.9 71.1 208.4 86.8 207.5 93.6 205.3 103.3 204 106.1 202.5 107.5 201 107 199.1 103.3 197.6 98.1 196 89.1 195 71.8 195.3 62.8 196.4 53.1 196.2 50.8 195.3 48.6 193.5 46.8 191.3 45.9 187.5 45.6 188.2 44.8 197.8 44.1 201.6 39.6Z" fill="none" stroke="#3c3c3c" stroke-width="0.3" stroke-opacity="0.8"/>
<path d="M201 46.2 202.5 46.1 204.4 48.6 206.7 54.6 207.6 61.3 207.3 88.3 206 94.3 204 99.1 202.6 100.9 201.8 100.9 200.6 99.6 198.5 94.3 197.6 91.3 197 86.1 196.8 62.1 198.2 52.3 197.9 48.6 198.8 47.2 200.9 46.3Z" fill="none" stroke="#3c3c3c" stroke-width="0.3" stroke-opacity="0.8"/>
<path d="M201 50.3 203.3 50.5 205 52.3 206.4 56.1 207 60.6 206.2 78.6 206.8 88.3 206.1 92.1 205.2 94.3 204 95.7 202.5 96.5 201 96.1 199.4 94.3 198.4 92.1 197.7 87.6 198.1 79.3 197.6 59.1 198.5 54.6 200.5 50.8Z" fill="none" stroke="#3c3c3c" stroke-width="0.3" stroke-opacity="0.8"/>
<path d="M201 51.5 203.3 51.4 204.9 53.1 205.9 56.1 206.6 60.6 206.1 66.6 205.2 71.1 205.1 77.8 206 82.3 206.4 87.6 204.9 93.6 204 94.7 202.5 95.5 201 95.2 199.6 93.6 198.6 90.6 198.2 87.6 198.4 83.1 199.3 77.8 199.2 71.1 198.1 64.3 198.2 59.1 199.3 53.8 201 51.6Z" fill="none" stroke="#3c3c3c" stroke-width="0.3" stroke-opacity="0.8"/>
<path d="M201 52.1 202.5 51.8 204.3 53.1 205.5 56.5 206.2 61.3 205.3 68.1 203.7 71.8 203.5 77.1 205.4 81.6 206 87.6 204.8 92.7 203.7 94.3 202.5 94.9 201 94.5 199.8 92.8 198.7 86.8 199.2 81.6 200.9 77.1 200.7 71.8 199.2 68.1 198.6 65.1 198.6 59.8 199.3 55.3 200.9 52.3ZM201.8 55.1 201.1 57.6 201 60.3 201.8 63.5 202.5 63.9 203.3 61.7 203.6 58.3 203.3 56.1 202.5 54.9ZM201.8 84.5 201.1 89.2 201.5 91.3 202.5 92 203.3 90.8 203.6 89.1 203.3 86.1 202.5 84.2Z" fill="none" stroke="#3c3c3c" stroke-width="0.3" stroke-opacity="0.8"/>
<path d="M201 53 202.5 52.4 203.5 53.1 204.2 54.6 204 55.6 203.7 54.5 201.8 54 200.6 55.3 200.1 57.6 200.5 62.8 201.8 66.5 202.7 66.6 203.8 64.3 204.8 56.3 205.7 60.6 204.8 68.1 204 69.7 202.5 70.9 201 70.4 200.3 69.4 199.2 65.1 199.5 57 201 53.1ZM202.5 78.5 204 79.7 204.8 81.6 205.6 86.8 204.8 89.7 204 84.6 202.5 82.2 201.8 82.4 200.9 83.8 199.5 89.1 199.3 84.6 199.7 81.6 201 79 202.5 78.6ZM200.3 90.7 200.3 92.1 200.2 91.3ZM201 92.4 201.8 92.9 203.8 92.8 202.5 94.3 201 93.6 200.7 92.8Z" fill="none" stroke="#3c3c3c" stroke-width="0.3" stroke-opacity="0.8"/>
<path d="M200.3 67.1 202.5 67.8 204 67.1 204.1 68.1 203.3 69.6 201.8 69.9 200.7 68.8 200.3 67.3ZM201.8 79.5 203.4 80.1 203.7 80.8 203.3 81.3 201 81.5 201.1 80.1Z" fill="none" stroke="#3c3c3c" stroke-width="0.3" stroke-opacity="0.8"/>
<path d="M162 47.7h.3M163.7 51.3h.3M187.5 48.5h.3M154.2 56.3h.3M177.6 62.9h.3M183.5 45.4h.3M158.6 53.4h.3M152.5 56.9h.3M162.6 52.8h.3M180.2 62.1h.3M175.9 58.2h.3M156.9 61.4h.3M169.9 44.5h.3M180.8 46.3h.3M169.4 43.4h.3M179.1 60.2h.3M194.5 63.2h.3M181.4 42.3h.3M168 59.4h.3M158.6 58h.3M165.9 62h.3M173.5 47.9h.3M191 57.7h.3M185.7 47.2h.3M164.6 43.7h.3M192.5 58.4h.3M171.7 42.9h.3M181.9 57.4h.3M154.9 48.2h.3M154.8 52.7h.3M159.3 61.6h.3M190.7 47.4h.3M181.3 52.3h.3M189.1 49.8h.3M179.6 46.2h.3M168.7 52.4h.3M173.8 46h.3M177.3 59.6h.3M189.7 55.5h.3M170.2 48.2h.3M191 63.4h.3M178.2 49.6h.3M188.2 56.8h.3M172.9 58.1h.3M181.9 47.8h.3M165.6 42.3h.3M174.1 61.6h.3M159.9 63h.3M154.6 45.7h.3M151.8 45.4h.3M182.3 51.5h.3M171 55.1h.3M191.3 63.8h.3M188.4 63.2h.3M167.7 63.7h.3M194.8 47.4h.3M177.2 55.2h.3M185.2 51.6h.3M168.7 47.1h.3M159 43.4h.3M157.9 45.7h.3M158.3 49.9h.3M177.8 43.9h.3M155.2 45.3h.3M150.9 43h.3M188.3 55.7h.3M154.6 52.8h.3M170.7 47.4h.3M172.5 53.6h.3M178.5 51.3h.3M173.2 56.5h.3M193.1 62.5h.3M184.5 49.8h.3M176.4 56.2h.3M178.4 46.8h.3M173.3 62.7h.3M194.4 55.6h.3M160.4 45.5h.3M181.7 47.7h.3M175.5 45.5h.3M151.9 45.9h.3M163.6 48.7h.3M192.6 60.1h.3M186.1 52.1h.3M150.6 48.1h.3M163.6 51.2h.3M150.5 47.9h.3M188.1 58.1h.3M155.1 43.3h.3M152.6 48.4h.3M195.2 49.1h.3M170.5 46h.3M164.6 58.2h.3M152.3 46h.3M167.9 48.6h.3M166.8 43.2h.3M174.1 58.6h.3M150.3 50h.3M156.8 56.4h.3M159.7 46.8h.3M170.3 42.5h.3M163.9 49.1h.3M178.2 59.1h.3M163.1 60.4h.3M191.8 49.7h.3M194.2 60.6h.3M152.7 43.1h.3M159.6 53.5h.3M175.9 47.7h.3M185.5 51.7h.3M152.9 46.9h.3M158.5 61.7h.3M171 48.6h.3M180.8 62.8h.3M191.6 44.4h.3M189.9 51.5h.3M186.5 51.8h.3M152.4 57.6h.3M194.9 49.6h.3M178.3 52.8h.3M154 43.5h.3M161.7 48.8h.3M178.6 57.9h.3M167.7 44.3h.3M170.5 52.2h.3M187 47.2h.3M187.9 45.6h.3M175.2 44.7h.3M186.5 59.9h.3M168.7 57.1h.3M194.8 50.3h.3M177.8 50.6h.3M194.5 58h.3M152 55.3h.3M190.6 62.2h.3M175.7 62.2h.3M182.8 52.6h.3M158.9 56.5h.3M175.2 54h.3M163.3 48.8h.3M154.9 52h.3M150.1 57.9h.3M191.7 54.2h.3M180.9 55.9h.3M159.4 52.7h.3M161.9 63h.3M171.4 59.1h.3M187.6 44.9h.3M155.4 59.9h.3M194.5 62.2h.3M193.4 60h.3M161.3 49.5h.3M179.5 50.1h.3M166.6 47.4h.3M182.1 43.2h.3M154 52.4h.3M171.6 60.7h.3M177.1 58.9h.3M178.8 56.6h.3M181.9 60.6h.3M191 56.5h.3M161.1 46.9h.3M157 59.7h.3M168 50.1h.3M176.2 61.6h.3M194.2 49.2h.3M182.7 44h.3M184 58.1h.3M194.7 44.4h.3M162.3 61.1h.3M171.7 58.7h.3M174.5 48.3h.3M159.4 56h.3M174.1 55.2h.3M180.5 47.8h.3M172.6 53.4h.3M194.6 46.5h.3M169.2 47.9h.3M159 45.9h.3M153.1 57.5h.3M185.6 47.6h.3M171 48h.3M183.6 43.8h.3M178.3 60.4h.3M191.8 53.4h.3M187.1 48.9h.3M167.2 47.6h.3M174.5 42.3h.3M185.1 51.5h.3M157.4 53.9h.3M188.7 41.8h.3M187 56.1h.3M184.1 54.2h.3M169.1 45.9h.3M175.3 47.6h.3M158.4 49.8h.3M172.8 51.8h.3M164.9 50.8h.3M172.2 41.9h.3M166.8 59.6h.3M175.5 52.4h.3M186.7 56.7h.3M156.9 59.2h.3M183 48.9h.3M148.4 55h.3M146.5 57.3h.3M170.9 55.3h.3M172 50.1h.3M177 47.1h.3M152.3 52.9h.3M170.9 46.7h.3M173.2 47.8h.3M186 38.6h.3M170.8 51.6h.3M177.8 44.8h.3M160 49h.3M169.7 50.9h.3M166.8 53.2h.3M181.3 60.6h.3M160.3 53.2h.3M161.3 44.1h.3M178.9 51.1h.3M193.1 45.9h.3M176.8 52.8h.3M175.3 46.9h.3M167.5 47.5h.3M184.8 47.1h.3M178.2 47h.3M191.8 39.2h.3M175.6 47h.3M160.7 51.9h.3M165.8 58.2h.3M160.1 50.4h.3M156.9 50.3h.3M187.4 52.9h.3M181.9 53.1h.3M158 61.1h.3M193.6 52.3h.3M174.9 50.6h.3M161.2 59.3h.3M177.4 59h.3M170.9 48.5h.3M162.8 52.7h.3M148 43.8h.3M172.3 49h.3M175.1 45.9h.3M141.1 52.5h.3M178.4 47.8h.3M179.3 49.4h.3M166.3 50.9h.3M173.6 53.6h.3M168.8 52.6h.3M161.7 48.8h.3M167.1 44.3h.3M188.7 56.4h.3M155.3 60.3h.3M174.6 48.3h.3M174.5 53.9h.3M162.8 43.4h.3M166 42.9h.3M155.1 51h.3M162.5 60h.3M171.7 45.3h.3M175.5 46.1h.3M162 60.7h.3M207.6 37.4h.3M165.5 55.1h.3M173.8 53.5h.3M169.1 50.1h.3M167.3 52.5h.3M188.8 64h.3M165.7 45.3h.3M187.8 47.9h.3M185.5 48.5h.3M159.2 48.3h.3M183.7 42.6h.3M165 60.4h.3M204.8 49.3h.3M166.5 41.8h.3M160.4 48.1h.3M149.3 55.2h.3M156.7 54.6h.3M164.4 43.7h.3M160 51.5h.3M157.4 53.7h.3M163.9 53.9h.3M169.7 53.4h.3M188.5 39.5h.3M152.5 62.9h.3M165.5 52.7h.3M161.5 61.9h.3M155.3 68.3h.3M156.8 51.4h.3M160.6 45.2h.3M181 55h.3M169.6 50.2h.3M165.4 49.1h.3M178.8 44.7h.3M176.2 60h.3M169.1 48.8h.3M175.9 42.9h.3M161.9 49.4h.3M178.9 44h.3M177.7 51.4h.3M166.9 49.1h.3M156.9 46.5h.3M190.5 52.7h.3M172.8 47.4h.3M208.8 51.8h.3M164.8 58.6h.3M182 48.1h.3M166.5 47.9h.3M175.1 51.8h.3M182.4 55h.3M162.4 51.8h.3M170.9 51.9h.3M173.9 50.7h.3M173.5 52.6h.3M179.4 53.8h.3M183.9 46.1h.3M181.7 47.5h.3M175.2 51h.3M167.5 47.7h.3M158.6 52.9h.3M163.5 54.7h.3M165.7 51.4h.3M179.9 47h.3M167.3 47.1h.3M158 61.9h.3M179.9 55.2h.3M161.9 45.7h.3M162.4 47.2h.3M170.2 61.5h.3M178.4 58.8h.3M143.2 54.2h.3M159.1 58.5h.3M173.4 42.7h.3M167.6 51.4h.3M162 56h.3M164.6 41.4h.3M152.1 77.2h.3M158.3 80.9h.3M161.8 86.6h.3M160.9 86.7h.3M160.7 86.4h.3M169.9 88h.3M169.7 82.5h.3M154.2 65.1h.3M155.1 86.1h.3M158 85.4h.3M152 66.2h.3M152.9 67.4h.3M161.3 84.2h.3M169.7 74.7h.3M155.9 90.8h.3M154 70.5h.3M162.3 85.3h.3M156 83.4h.3M150.3 64.2h.3M151.9 70.6h.3M167.6 73.4h.3M152.2 71.5h.3M162.8 63.5h.3M158.4 68.9h.3M165.4 80.4h.3M160.2 68.6h.3M154.6 84.2h.3M154.2 75.8h.3M154.7 77.3h.3M154.7 67.9h.3M155 89.9h.3M156 62.9h.3M162 95.9h.3M160.6 82.4h.3M151.4 95.9h.3M158.4 80.9h.3M168.6 73.4h.3M168.8 74.1h.3M156.4 95.3h.3M153.1 79.8h.3M155.9 75h.3M152.7 65.9h.3M155.2 65.8h.3M168.5 75.8h.3M167.5 77.2h.3M204.1 74.8h.3M187 48.8h.3M190.8 69.7h.3M202 38.6h.3M200.6 85h.3M214 55.1h.3M200.8 95.3h.3M206.7 64.8h.3M207.4 95.9h.3M199.6 79.3h.3M203.8 62h.3M194.2 56.9h.3M195.3 82.1h.3M208.4 97.1h.3M192.6 78.4h.3M206.5 44.8h.3M205.1 53.2h.3M205.6 67.9h.3M206.5 96.4h.3M204.4 77.1h.3M188.2 77.9h.3M195 93.8h.3M197.4 68.3h.3M206.5 70.4h.3M194.2 68.7h.3M196.8 40h.3M198.8 80.4h.3M208.9 79.4h.3M192.4 89.6h.3M192.9 50.6h.3M204.8 57.3h.3M188.2 88.8h.3M203 77.8h.3M198.3 96.8h.3M191.5 56.5h.3M198.5 75.6h.3M195 59.8h.3M202 77.6h.3M203.2 63.3h.3M209.9 81.6h.3M200.9 91.5h.3M201.6 84.2h.3M197.5 39.5h.3M200.9 88.9h.3M207.3 80.1h.3M189.4 53.2h.3M205 56.1h.3M197.8 72.1h.3M201.4 82.3h.3M203 63.9h.3M206.1 42.8h.3M202.4 77.1h.3M198.6 75.1h.3M201.1 48.8h.3M202.2 103.4h.3M206.2 77.5h.3M201.8 101.9h.3M149.9 82.5h.3M191.3 107.5h.3M167 107h.3M159.9 71.1h.3M209.4 73.1h.3M183.4 103.2h.3M160.1 71.6h.3M182.3 100.8h.3M181.3 55.9h.3M199.9 57.7h.3M170.9 67.1h.3M177.8 61.6h.3M151.4 71.7h.3M203.7 55.5h.3M208.9 51.5h.3M140.2 66.6h.3M196.7 52.4h.3M213 64h.3M204.4 67.8h.3M200 105.9h.3M156.1 69.2h.3M214.3 81.4h.3M168 104.7h.3M204.3 71.1h.3M198.4 59.3h.3" stroke="#a2a2a2" stroke-width="0.66" stroke-linecap="round" fill="none"/>
</g>
<g filter="url(#soft)">
<path d="M274.9 47.8 282.4 47.9 289.2 48.7 293.7 49.9 298.2 52 301.5 54.6 303.7 57.5 304.4 60.6 303.3 64.3 299.7 68.2 293.7 71.4 287.7 72.7 278.7 73.2 270.4 72.9 262.2 71.2 255.4 68.3 251.5 65.1 250 62.1 249.8 59.8 251.3 56.1 253.2 53.9 258.4 51.2 262.9 49.6 269 48.3 274.7 47.8ZM275.2 51.6 257.7 54.1 254.7 55 253.4 56.8 253.7 58.3 254.9 59.8 253.5 62.1 253.8 64.3 256.2 65.7 269.7 68.6 288.4 70.6 292.2 70 294.4 69.1 297 67.3 298.8 65.1 299.9 61.3 299.5 58.3 297.7 55.3 294.4 52.7 289.2 51.3 275.7 51.5Z" fill="#f0f0f0" stroke="none"/>
<path d="M275.7 51.5 289.2 51.3 294.4 52.7 297.7 55.3 299.5 58.3 299.9 61.3 298.8 65.1 297 67.3 294.4 69.1 292.2 70 288.4 70.6 269.7 68.6 256.2 65.7 253.8 64.3 253.5 62.1 254.9 59.8 253.7 58.3 253.4 56.8 254.7 55 257.7 54.1 275.2 51.6ZM287 52.3 284.7 53.1 277.2 52.7 256.2 55.3 254.8 56.1 254.5 57.6 256.8 59.8 256.6 60.5 254.7 62.1 254.5 63.6 255.4 64.5 256.9 65 278.7 68.5 284.7 68.9 288.4 69.8 292.2 69.3 295.2 67.9 297.9 65.1 298.8 62.8 298.8 59 297.3 56.1 294.4 53.6 291.4 52.4 287.7 52.2Z" fill="#dadada" stroke="none"/>
<path d="M287.7 52.2 291.4 52.4 294.4 53.6 297.3 56.1 298.8 59.1 298.8 62.8 297.9 65.1 295.2 67.9 292.2 69.3 288.4 69.8 284.7 68.9 278.7 68.5 256.9 65 255.5 64.5 254.5 63.6 254.7 62.1 256.6 60.5 256.8 59.8 254.5 57.6 254.8 56.1 256.2 55.3 277.2 52.7 284.7 53.1 287 52.3ZM286.6 53.1 284.7 54.5 281.7 53.5 277.9 53.5 256.4 56 255.6 56.8 255.8 57.6 258.3 59 258.5 59.8 257.9 61.3 255.5 62.8 255.7 63.6 257.7 64.3 268.2 65.7 280.9 68 284.7 67.9 287.7 69.2 290.7 69.2 292.9 68.5 295.9 66.6 297.7 64.3 298.5 61.3 298 58.3 295.9 55.4 292.9 53.4 289.9 52.7 286.9 52.9ZM277.9 57.4 280.9 57.6 281.6 58.3 280.2 60.1 277.3 57.6ZM280.2 61.1 280.9 61.8 281.4 63.5 280.2 63.9 277.9 63.6 277.6 62.8 280.1 61.3Z" fill="#c0c0c0" stroke="none"/>
<path d="M286.9 52.9 289.9 52.7 292.9 53.4 295.9 55.4 298 58.3 298.5 61.3 297.7 64.3 295.9 66.6 292.9 68.5 290.7 69.2 287.7 69.2 284.7 67.9 280.9 68 268.2 65.7 257.7 64.3 255.7 63.6 255.5 62.8 257.9 61.3 258.5 59.8 258.3 59.1 255.8 57.6 255.6 56.8 256.4 56.1 277.9 53.5 281.7 53.5 284.7 54.5 286.6 53.1ZM286.3 53.8 285.5 55.3 286.2 57.6 284.2 60.6 284.7 62.6 286.3 64.3 285.2 66.6 285.5 67.3 286.9 68.5 288.4 68.9 291.4 68.6 293.7 67.7 296.2 65.8 297.6 63.6 298 60.6 297.5 58.3 296.1 56.1 293.7 54.2 289.9 53.1 286.9 53.4ZM275.7 54.6 258.9 56.8 260.7 57.2 267.4 57 281.2 56.1 282.5 55.3 281.9 54.6 280.9 54.4 276.4 54.5ZM277.3 57.6 280.2 60.1 281.6 58.3 280.9 57.6 277.9 57.4ZM266.7 59.8 265.4 60.6 268.2 61.1 274.2 61.4 275.9 61.3 276.9 60.5 276.5 59.8 274.9 59.5 266.7 59.8ZM280.1 61.3 277.6 62.8 277.9 63.6 280.2 63.9 281.4 63.5 280.9 61.8 280.2 61.1ZM258.6 62.8 259.4 63.5 281.6 67.3 282.6 67.3 283.8 66.6 282.4 65.5 276.4 64.7 267.4 62.4 259.2 62.6ZM292.9 59.3 293.7 60.2 293.8 61.3 292.9 62.9 292.6 62.8 292.7 59.8Z" fill="#a2a2a2" stroke="none"/>
<path d="M286.9 53.4 289.9 53.1 293.7 54.2 296.1 56.1 297.5 58.3 298 60.5 297.6 63.6 296.2 65.8 293.7 67.7 291.4 68.6 288.4 68.9 286.9 68.5 285.5 67.3 285.2 66.6 286.3 64.3 284.7 62.6 284.2 60.6 286.2 57.6 285.5 55.3 286.3 53.8ZM287.2 53.8 286.4 54.6 286.3 55.3 286.9 56.2 292.2 57.2 293.7 58.3 294.6 59.8 294.7 62 293.1 64.3 291.4 65.1 287.7 65.6 286.3 66.6 286.3 67.3 287.7 68.3 291.4 68.2 294.4 66.8 296.3 65.1 297.4 62.5 297.5 59.8 296.7 57.5 294.4 55.2 290.7 53.6 287.7 53.6ZM292.7 59.8 292.6 62.8 292.9 62.9 293.8 61.3 293.7 60.2 292.9 59.3ZM276.4 54.5 280.9 54.4 281.9 54.6 282.5 55.3 281.2 56.1 267.4 57 260.7 57.2 258.9 56.8 275.7 54.6ZM266.7 59.8 274.9 59.5 276.5 59.8 276.9 60.6 275.9 61.3 274.2 61.4 268.2 61.1 265.4 60.6 266.7 59.8ZM259.2 62.6 267.4 62.4 276.4 64.7 282.4 65.5 283.8 66.6 282.6 67.3 281.6 67.3 259.4 63.6 258.6 62.8Z" fill="#7e7e7e" stroke="none"/>
<path d="M287.7 53.6 290.7 53.6 294.4 55.2 296.7 57.6 297.5 59.8 297.4 62.5 296.3 65.1 294.4 66.8 291.4 68.2 287.7 68.3 286.3 67.3 286.3 66.6 287.7 65.6 291.4 65.1 293.1 64.3 294.7 62 294.6 59.8 293.7 58.3 292.2 57.2 286.9 56.2 286.3 55.3 286.4 54.6 287.2 53.8ZM287.3 54.6 287.7 55.6 290.7 55.9 292.9 56.8 294.6 58.3 295.4 59.8 295.4 62.1 293.7 64.7 291.4 65.9 287.7 66.5 287.3 67.3 289.2 68 292.4 67.3 294.8 65.8 296.7 63.2 297.1 61.3 296.7 58.8 295.5 56.8 293.7 55.3 290.7 54.2 287.7 54.3Z" fill="#5a5a5a" stroke="none"/>
<path d="M287.7 54.3 290.7 54.2 293.7 55.3 295.5 56.8 296.7 58.8 297.1 61.3 296.7 63.2 294.8 65.8 292.4 67.3 289.2 68 287.3 67.3 287.7 66.5 291.4 65.9 293.7 64.7 295.4 62.1 295.4 59.8 294.6 58.3 292.9 56.8 290.7 55.9 287.7 55.6 287.3 54.6Z" fill="#3e3e3e" stroke="none"/>
<path d="M274.9 47.8 282.4 47.9 289.2 48.7 293.7 49.9 298.2 52 301.5 54.6 303.7 57.5 304.4 60.6 303.3 64.3 299.7 68.2 293.7 71.4 287.7 72.7 278.7 73.2 270.4 72.9 262.2 71.2 255.4 68.3 251.5 65.1 250 62.1 249.8 59.8 251.3 56.1 253.2 53.9 258.4 51.2 262.9 49.6 269 48.3 274.7 47.8Z" fill="none" stroke="#3c3c3c" stroke-width="0.3" stroke-opacity="0.8"/>
<path d="M275.7 51.5 289.2 51.3 294.4 52.7 297.7 55.3 299.5 58.3 299.9 61.3 298.8 65.1 297 67.3 294.4 69.1 292.2 70 288.4 70.6 269.7 68.6 256.2 65.7 253.8 64.3 253.5 62.1 254.9 59.8 253.7 58.3 253.4 56.8 254.7 55 257.7 54.1 275.2 51.6Z" fill="none" stroke="#3c3c3c" stroke-width="0.3" stroke-opacity="0.8"/>
<path d="M287.7 52.2 291.4 52.4 294.4 53.6 297.3 56.1 298.8 59.1 298.8 62.8 297.9 65.1 295.2 67.9 292.2 69.3 288.4 69.8 284.7 68.9 278.7 68.5 256.9 65 255.5 64.5 254.5 63.6 254.7 62.1 256.6 60.5 256.8 59.8 254.5 57.6 254.8 56.1 256.2 55.3 277.2 52.7 284.7 53.1 287 52.3Z" fill="none" stroke="#3c3c3c" stroke-width="0.3" stroke-opacity="0.8"/>
<path d="M286.9 52.9 289.9 52.7 292.9 53.4 295.9 55.4 298 58.3 298.5 61.3 297.7 64.3 295.9 66.6 292.9 68.5 290.7 69.2 287.7 69.2 284.7 67.9 280.9 68 268.2 65.7 257.7 64.3 255.7 63.6 255.5 62.8 257.9 61.3 258.5 59.8 258.3 59.1 255.8 57.6 255.6 56.8 256.4 56.1 277.9 53.5 281.7 53.5 284.7 54.5 286.6 53.1ZM277.9 57.4 277.3 57.6 277.8 58.3 280.2 60.1 280.9 59.6 281.6 58.3 280.9 57.6 278.7 57.4ZM280.2 61.1 277.6 62.8 277.9 63.6 280.2 63.9 281.4 63.5 280.9 61.8 280.3 61.3Z" fill="none" stroke="#3c3c3c" stroke-width="0.3" stroke-opacity="0.8"/>
<path d="M286.9 53.4 289.9 53.1 293.7 54.2 296.1 56.1 297.5 58.3 298 60.5 297.6 63.6 296.2 65.8 293.7 67.7 291.4 68.6 288.4 68.9 286.9 68.5 285.5 67.3 285.2 66.6 286.3 64.3 284.7 62.6 284.2 60.6 286.2 57.6 285.5 55.3 286.3 53.8ZM276.4 54.5 280.9 54.4 281.9 54.6 282.5 55.3 281.2 56.1 267.4 57 260.7 57.2 258.9 56.8 275.7 54.6ZM266.7 59.8 274.9 59.5 276.5 59.8 276.9 60.6 275.9 61.3 274.2 61.4 268.2 61.1 265.4 60.6 266.7 59.8ZM292.9 59.3 292.6 62.8 292.9 62.9 293.8 61.3 293.3 59.8ZM259.2 62.6 267.4 62.4 276.4 64.7 282.4 65.5 283.8 66.6 282.6 67.3 281.6 67.3 259.4 63.6 258.6 62.8Z" fill="none" stroke="#3c3c3c" stroke-width="0.3" stroke-opacity="0.8"/>
<path d="M287.7 53.6 290.7 53.6 294.4 55.2 296.7 57.6 297.5 59.8 297.4 62.5 296.3 65.1 294.4 66.8 291.4 68.2 287.7 68.3 286.3 67.3 286.3 66.6 287.7 65.6 291.4 65.1 293.1 64.3 294.7 62 294.6 59.8 293.7 58.3 292.2 57.2 286.9 56.2 286.3 55.3 286.4 54.6 287.2 53.8Z" fill="none" stroke="#3c3c3c" stroke-width="0.3" stroke-opacity="0.8"/>
<path d="M287.7 54.3 290.7 54.2 293.7 55.3 295.5 56.8 296.7 58.8 297.1 61.3 296.7 63.2 294.8 65.8 292.4 67.3 289.2 68 287.3 67.3 287.7 66.5 291.4 65.9 293.7 64.7 295.4 62.1 295.4 59.8 294.6 58.3 292.9 56.8 290.7 55.9 287.7 55.6 287.3 54.6Z" fill="none" stroke="#3c3c3c" stroke-width="0.3" stroke-opacity="0.8"/>
<path d="M309.7 63.9h.3M236.1 59.7h.3M283.7 77.1h.3M267.9 56h.3M269.8 65.6h.3M273.6 61.2h.3M244.7 64.7h.3M273.3 51.2h.3M263.2 73.3h.3M280.6 60.3h.3M271.4 53h.3M272.5 54.5h.3M266.3 64.2h.3M260.1 67.4h.3M270.7 65.6h.3M284.7 69.1h.3M273.2 65.4h.3M292.3 60.2h.3M273.8 66.3h.3M277.4 64.5h.3M301.7 59.2h.3M285.7 65.4h.3M268.9 69.6h.3M274.1 61.8h.3M285.6 57.3h.3M308 65.4h.3M272.7 74.3h.3M273.1 58.4h.3M293 59.3h.3M262.8 59h.3M272.3 69.2h.3M291.1 46.2h.3M286.3 62.7h.3M278.5 68.9h.3M287.7 53.9h.3M293.3 64h.3M261.6 55.9h.3M250.3 61.5h.3M281.4 48.5h.3M288.2 55.8h.3M269.9 73.7h.3M259.8 53.3h.3M277.4 73.8h.3M276.2 59.4h.3M299.5 67.5h.3M289 60.3h.3M280.1 43.2h.3M294.8 55.7h.3M273.7 61.4h.3M262.2 51.4h.3M286.3 49.9h.3M286.3 62.7h.3M273.6 55.1h.3M264.5 47.3h.3M280.7 54.9h.3M237.1 66.5h.3M288 56.4h.3M284.9 67h.3M250.8 71.5h.3M278 60.2h.3M261.6 51.5h.3M289.1 50.2h.3M244.5 59.8h.3M262.4 66.6h.3M288.4 62h.3M295.5 64.1h.3M242.5 56.7h.3M269 62.3h.3M282.2 56.5h.3M267.3 57.6h.3M302.5 50.3h.3M257.9 48.2h.3M282.7 56.4h.3M260.2 51.7h.3M299.5 52.8h.3M276.7 65h.3M271 59.2h.3M249.5 81.9h.3M303.9 66.9h.3M289 55.3h.3M289.1 65.8h.3M295.2 62.7h.3M282.6 54.9h.3M266.8 68.3h.3M264.2 54.2h.3M264.2 37.1h.3M298.9 66h.3M253.6 55.4h.3M267.5 71.1h.3M271.9 55.1h.3M280.6 51.1h.3M286.2 71.6h.3M257 51.9h.3M249.3 61.5h.3M276.9 70.9h.3M296.4 60.9h.3M289.1 59.4h.3M280.5 60.8h.3M271.9 66.3h.3M281.7 53.9h.3M273.1 64.6h.3M290.1 64.3h.3M264.3 77.5h.3M279.1 57.5h.3M275.2 53.1h.3M285.7 65.5h.3M280.6 57h.3M301 61h.3M300.9 68.8h.3M244.4 55.1h.3M271.6 59.3h.3M267.3 40.9h.3M285.5 53.3h.3M240.5 71.5h.3M295.8 54.9h.3M294.1 54.7h.3M256.2 50.9h.3M261.3 64.3h.3M264.2 61.3h.3M277.7 51.1h.3M287.3 65h.3M309.8 62h.3M273.8 65.7h.3M289.3 55.2h.3M279.5 73h.3M305.2 63.1h.3M288.9 59.1h.3M298.9 56.1h.3M259.8 58.2h.3M273.9 66.4h.3M264 58h.3M301.1 68.1h.3M287.5 64.4h.3M272.1 70.1h.3M269.8 66.1h.3M284.8 59.5h.3M265.8 45.7h.3M262.1 62.2h.3M284.7 65.9h.3M273.1 64.2h.3M268.1 56.5h.3M258.3 57.1h.3M255.6 52.9h.3M285.4 70.2h.3M290.6 61.2h.3M277.1 56.3h.3M282.3 50h.3M278.9 58.9h.3M279.2 70.8h.3M252.6 63.5h.3M269.7 54.6h.3M278.8 70.7h.3M264.5 70.7h.3M269.4 67.4h.3M263.9 65.9h.3M271.7 68.7h.3M290.6 64.1h.3M270.5 65.8h.3M274.5 54.1h.3M290 71.2h.3M287.3 61.7h.3M304.1 75.2h.3M243.6 44.7h.3M290.7 65.3h.3M269.3 67.4h.3M279.2 57.4h.3M290.4 63.4h.3M294.3 65.6h.3M293.6 64.3h.3M279.5 56h.3M302.8 58.9h.3M272.5 67.6h.3M274.7 69.6h.3M289.8 60.7h.3M268.2 60.6h.3M311.6 61.5h.3M293.3 67.8h.3M311.8 52.1h.3M276.6 50h.3M270.9 60.9h.3M279.7 51.7h.3M288.8 55.6h.3M267.6 60.6h.3M283.1 63.6h.3M276.7 52h.3M302.9 66h.3M266.4 46.7h.3M293.7 64.1h.3M266.7 48.2h.3M261.6 50.4h.3M265.6 64.8h.3M258 57h.3M279.3 54h.3M293.5 56.7h.3M279.6 63.5h.3M287 59.6h.3M303.1 59.8h.3M281.3 67.9h.3M280.1 54.6h.3M272.6 56.5h.3M251.3 56.1h.3M289.2 68.8h.3M248.9 67.4h.3M287.4 69.7h.3M276.8 59.7h.3M295 58.8h.3M275.9 66.4h.3M263.8 57h.3M282.7 66.2h.3M268 65.4h.3M274.1 54.8h.3M277.7 59.4h.3M274.8 59.1h.3M274 73h.3M263.7 79.4h.3M274 59.3h.3M242.8 60.1h.3M274.5 42.9h.3M257.8 61.6h.3M294.9 59.9h.3M297.3 52h.3M245.8 65.9h.3M279.3 48.3h.3M275 58.4h.3M260.3 61h.3M285.5 50.6h.3M269.6 66.4h.3M248.7 67.9h.3M272.7 49.6h.3M274.6 49.4h.3M278.7 64.5h.3M257.3 59.8h.3M286.9 50.9h.3M288.8 57.8h.3M258.7 59.2h.3M266.5 58.9h.3M275.7 66.2h.3M267.9 62.9h.3M304.9 73.3h.3M280.3 70.3h.3M260.8 65.1h.3M264.4 68.1h.3M276.1 69.9h.3M313.7 65.3h.3M274.1 50.8h.3M279 66.4h.3M258 90.5h.3M267.4 74.9h.3M260.1 87.7h.3M257 81.4h.3M265.6 88.7h.3M267.3 84.6h.3M252.9 94.2h.3M260.3 79.8h.3M252.9 90.7h.3M253.6 89.8h.3M260.6 83h.3M255.1 80.7h.3M266.1 78.5h.3M257.3 84.7h.3M253.6 71.7h.3M262.6 78.7h.3M255.2 84.8h.3M251.3 74.9h.3M270 72.3h.3M253.7 69.1h.3M252.6 89.3h.3M259.6 91.4h.3M250.1 90.2h.3M265.8 86.5h.3M251.5 83.5h.3M250.8 67.7h.3M269.3 91.5h.3M260.3 79.7h.3M268.6 85.9h.3M267.9 69.5h.3M264.7 87.6h.3M250.6 70.3h.3M262.9 93.8h.3M251.3 86.6h.3M250.2 81.4h.3M288.8 42.5h.3M260.4 49.8h.3M278.4 52.2h.3M250.8 63.3h.3M263.7 59.5h.3M264.1 62.5h.3M256.1 44.7h.3M272.9 52.3h.3M249.2 47.8h.3M246.7 68.9h.3M267.3 66.6h.3M311.4 53h.3M293.7 73.5h.3M273.7 46.9h.3M258.4 42.6h.3M253.1 55.4h.3M272.9 66.1h.3M288.8 76.1h.3M300.4 60.3h.3M276 46.9h.3M302.1 63.5h.3M299.4 42.6h.3M301.9 71.4h.3M267.2 53.6h.3M276.3 45.7h.3M255.7 47.4h.3M284.2 71.8h.3M247.8 74.6h.3M276.5 48.6h.3M256 77.9h.3M277 73h.3M257.1 53.9h.3M245.1 43.8h.3M273.3 47.4h.3M273.7 57.7h.3M281.3 49.4h.3M253.4 48.5h.3M278.4 51.8h.3M265.1 73.6h.3M250.5 43.3h.3M272.5 75.2h.3M289.7 58.2h.3M265.3 68.6h.3M292.8 60.4h.3M297.8 76h.3M284.5 84.6h.3M286.4 76.2h.3M292.7 73.5h.3M292.7 82.9h.3M288.3 84.2h.3M287.6 80.4h.3M282.2 84.5h.3M292.6 78.2h.3M300.8 78.8h.3M301.7 73h.3M290.4 76.8h.3M304.5 84h.3" stroke="#8e8e8e" stroke-width="0.66" stroke-linecap="round" fill="none"/>
</g>
<g filter="url(#soft)">
<path d="M368.2 44 370.5 43.9 372 44.5 373.5 45.9 374.6 47.8 375.9 53.8 375.4 61.3 373.8 67.3 371 73.3 368.2 77.3 363.7 81.6 361.5 85.4 360.7 85.6 356.2 78.9 355.1 76.3 354.3 70.3 355 63.6 357.2 56.1 360 50.9 363.7 46.7 368.1 44.1ZM368.2 47.8 364.5 49.5 360.7 53 358.4 56.8 356.7 61.3 355.7 67.3 355.9 72.6 357.5 76.3 360 77.9 361.5 78 363.7 77.3 367.5 74.6 370.4 70.3 372.5 65.1 373.7 58.3 373.2 52.3 371.2 48.8 369.7 47.9 368.2 47.8Z" fill="#eeeeee" stroke="none"/>
<path d="M368.2 47.8 369.7 47.9 371.2 48.8 373.2 52.3 373.7 58.3 372.5 65.1 370.4 70.3 367.5 74.6 363.7 77.3 361.5 78 360 77.9 357.5 76.3 355.9 72.6 355.7 67.3 356.7 61.3 358.4 56.8 360.7 53 364.5 49.5 368.2 47.8ZM365.8 51.6 363 53.2 360.7 55.3 358.8 58.3 357.2 62.8 356.6 67.3 356.9 71.1 357.7 73.5 358.5 74.3 360 75 363.7 74.6 366.7 72.7 369.5 68.8 371.4 63.6 372 58.3 371.2 53.8 370.3 52.3 369 51.2 367.5 51 366 51.5Z" fill="#d6d6d6" stroke="none"/>
<path d="M366 51.5 367.5 51 369 51.2 370.3 52.3 371.2 53.8 372 58.3 371.4 63.6 369.5 68.8 366.7 72.7 363.7 74.6 360 75 358.5 74.3 357.7 73.5 356.9 71.1 356.6 67.3 357.2 62.8 358.8 58.3 360.7 55.3 363 53.2 365.8 51.6ZM364.6 54.5 360.7 57.3 359.2 59.8 358.1 62.8 357.5 66.6 357.7 69.6 358.5 71.5 360 72.6 363.7 72.5 366 71.2 368.4 68.1 369.8 64.3 370.4 59.8 369.6 56.1 368.2 54.4 366.7 54 365.2 54.3Z" fill="#bababa" stroke="none"/>
<path d="M365.2 54.3 366.7 54 368.2 54.4 369.6 56 370.4 59.8 369.8 64.3 368.4 68.1 366 71.2 363.7 72.5 360 72.6 358.5 71.5 357.7 69.6 357.5 66.6 358.1 62.8 359.2 59.8 360.7 57.3 364.6 54.6ZM363.9 56.8 360.7 59.1 358.8 63.5 358.4 66.6 358.7 68.8 359.2 69.9 360.7 70.8 362.9 70.9 365.2 69.9 367.5 67.3 368.7 64.3 369 60.6 368.2 57.6 366.7 56.4 364.5 56.6Z" fill="#9a9a9a" stroke="none"/>
<path d="M364.5 56.6 366.7 56.4 368.2 57.6 369 60.6 368.7 64.3 367.5 67.3 365.2 69.9 363 70.9 360.7 70.8 359.2 69.9 358.7 68.8 358.4 66.6 358.8 63.5 360.7 59.1 363.9 56.8ZM365 58.3 361.8 59.8 359.9 62.8 359.4 65.1 359.6 67.3 360 68.1 361.5 69.1 363.7 69.1 365.2 68.2 367.3 65.1 367.8 62.8 367.7 60.5 366.7 58.8 365.2 58.3Z" fill="#7a7a7a" stroke="none"/>
<path d="M365.2 58.3 366.7 58.8 367.7 60.5 367.8 62.8 367.3 65.1 365.2 68.2 363.7 69.1 361.5 69.1 360 68.1 359.6 67.3 359.4 65.1 359.9 62.8 361.8 59.8 365 58.3ZM364.2 60.5 362.2 61.7 361.2 63.6 361.1 65.8 362.2 67 364.5 66.7 366.1 64.3 366 61.3 364.5 60.5Z" fill="#5c5c5c" stroke="none"/>
<path d="M364.5 60.5 366 61.3 366.1 64.3 364.5 66.7 362.2 67 361.1 65.8 361.2 63.6 362.2 61.7 364.2 60.5Z" fill="#c4c4c4" stroke="none"/>
<path d="M368.2 44 370.5 43.9 372 44.5 373.5 45.9 374.6 47.8 375.9 53.8 375.4 61.3 373.8 67.3 371 73.3 368.2 77.3 363.7 81.6 361.5 85.4 360.7 85.6 356.2 78.9 355.1 76.3 354.3 70.3 355 63.6 357.2 56.1 360 50.9 363.7 46.7 368.1 44.1Z" fill="none" stroke="#3c3c3c" stroke-width="0.3" stroke-opacity="0.8"/>
<path d="M368.2 47.8 369.7 47.9 371.2 48.8 373.2 52.3 373.7 58.3 372.5 65.1 370.4 70.3 367.5 74.6 363.7 77.3 361.5 78 360 77.9 357.5 76.3 355.9 72.6 355.7 67.3 356.7 61.3 358.4 56.8 360.7 53 364.5 49.5 368.2 47.8Z" fill="none" stroke="#3c3c3c" stroke-width="0.3" stroke-opacity="0.8"/>
<path d="M366 51.5 367.5 51 369 51.2 370.3 52.3 371.2 53.8 372 58.3 371.4 63.6 369.5 68.8 366.7 72.7 363.7 74.6 360 75 358.5 74.3 357.7 73.5 356.9 71.1 356.6 67.3 357.2 62.8 358.8 58.3 360.7 55.3 363 53.2 365.8 51.6Z" fill="none" stroke="#3c3c3c" stroke-width="0.3" stroke-opacity="0.8"/>
<path d="M365.2 54.3 366.7 54 368.2 54.4 369.6 56 370.4 59.8 369.8 64.3 368.4 68.1 366 71.2 363.7 72.5 360 72.6 358.5 71.5 357.7 69.6 357.5 66.6 358.1 62.8 359.2 59.8 360.7 57.3 364.6 54.6Z" fill="none" stroke="#3c3c3c" stroke-width="0.3" stroke-opacity="0.8"/>
<path d="M364.5 56.6 366.7 56.4 368.2 57.6 369 60.6 368.7 64.3 367.5 67.3 365.2 69.9 363 70.9 360.7 70.8 359.2 69.9 358.7 68.8 358.4 66.6 358.8 63.5 360.7 59.1 363.9 56.8Z" fill="none" stroke="#3c3c3c" stroke-width="0.3" stroke-opacity="0.8"/>
<path d="M365.2 58.3 366.7 58.8 367.7 60.5 367.8 62.8 367.3 65.1 365.2 68.2 363.7 69.1 361.5 69.1 360 68.1 359.6 67.3 359.4 65.1 359.9 62.8 361.8 59.8 365 58.3Z" fill="none" stroke="#3c3c3c" stroke-width="0.3" stroke-opacity="0.8"/>
<path d="M364.5 60.5 366 61.3 366.1 64.3 364.5 66.7 362.2 67 361.1 65.8 361.2 63.6 362.2 61.7 364.2 60.5Z" fill="none" stroke="#3c3c3c" stroke-width="0.3" stroke-opacity="0.8"/>
<path d="M361.4 67.6h.3M360.4 62.4h.3M377.1 48h.3M372.6 57.2h.3M364.5 78.8h.3M367.7 62.7h.3M371.4 70.2h.3M370.3 61.8h.3M354.6 75.6h.3M370.2 60.8h.3M367 60h.3M369.3 46.7h.3M370.4 60.1h.3M367.1 57.1h.3M345.9 71.9h.3M379.9 42.7h.3M365.7 82h.3M367.9 51.2h.3M362.6 64.6h.3M364.3 70.8h.3M356.9 66.4h.3M365.3 68.9h.3M365.3 58h.3M363.3 62.5h.3M364.7 46.3h.3M356.9 78.6h.3M371.3 63.7h.3M370.1 72.6h.3M370.3 55.3h.3M359.4 82.3h.3M359.9 64h.3M369.9 61.1h.3M369.9 78.7h.3M359.7 50.1h.3M372.2 62.1h.3M356.8 49h.3M366.3 52.3h.3M364.8 72h.3M356.1 67.6h.3M356.9 61.7h.3M368.5 55.1h.3M372.5 55.1h.3M361 68.1h.3M370.9 69.9h.3M359.2 68.5h.3M373.2 70.3h.3M365.5 64.5h.3M366.4 63.6h.3M374.4 43.1h.3M365.8 67.4h.3M374.5 67.6h.3M378.4 60.9h.3M365.8 72h.3M363.6 65.3h.3M359.3 60.1h.3M363.6 53.4h.3M361.9 74.7h.3M368.7 48.7h.3M364.3 65.3h.3M366 60.4h.3M370.5 54.6h.3M360.2 53.6h.3M363 50.3h.3M371.9 62h.3M369.9 63.5h.3M363.5 58.1h.3M369.6 73.5h.3M365.3 49.3h.3M362 69.1h.3M352.4 71.3h.3M375.6 43.5h.3M365.1 63.3h.3M367.9 75h.3M374.4 45.3h.3M365.1 65.3h.3M369.3 52h.3M369.6 71.8h.3M364 64.2h.3M360.1 78h.3M360.7 80.5h.3M367.1 72.6h.3M370.2 64.2h.3M377.9 57.3h.3M371.9 38.6h.3M369.5 73.9h.3M365 51.4h.3M367.2 68.8h.3M365.9 63.7h.3M370.8 78.9h.3M364.9 77.2h.3M361.2 68.9h.3M365.5 74.4h.3M367.6 62.6h.3M362.1 68.3h.3M367.6 49.6h.3M361.2 59.2h.3M380.8 64.7h.3M369.6 51.3h.3M372.3 58.6h.3M359.5 60.7h.3M359.8 61.3h.3M364.6 63h.3M367.9 51.5h.3M372.2 55.8h.3M361.5 57h.3M370.8 55.2h.3M372.3 69.6h.3M362.3 55.8h.3M366.7 77h.3M364.4 47.7h.3M367.8 61.7h.3M368.2 60.9h.3M376.6 58.9h.3M362.1 61.1h.3M366 64.8h.3M374.6 52.2h.3M359.9 59.2h.3M363.2 70.9h.3M362.4 56.5h.3M357.4 77.4h.3M373.9 47.2h.3M369 64.8h.3M379.5 65.5h.3M379.3 42.5h.3M378.5 43.3h.3M365.2 60.7h.3M365.9 55.6h.3M369.5 51.8h.3M358.4 42.5h.3M374.2 65.8h.3M362.6 59.8h.3M363.5 48.7h.3M364.1 58.8h.3M372.4 56.1h.3M374 58.1h.3M360.6 72.4h.3M365.6 71h.3M358.1 87.4h.3M359.7 63h.3M370.3 49.4h.3M362.8 72.8h.3M360.9 47.9h.3M374.2 54.1h.3M357.2 60.2h.3M366.9 62.5h.3M360.3 59.7h.3M359 69.1h.3M361.1 63.7h.3M369.2 63.6h.3M360.7 54.3h.3M366.8 54.1h.3M371.8 71.5h.3M364.2 53h.3M363.3 69.5h.3M368.7 64.7h.3M363.5 57.6h.3M368 63h.3M361.8 62.2h.3M370 60.5h.3M364.4 67.4h.3M358.8 66.9h.3M372.5 66.1h.3M367.7 52.6h.3M363.8 62.6h.3M365.9 42.3h.3M363.7 59.3h.3M356.9 90.5h.3M365.3 66.5h.3M376 47.7h.3M358.6 60h.3M357.6 81.6h.3M365 80h.3M357.7 88.3h.3M363.3 78.4h.3M357 94.2h.3M363.2 79.9h.3M360.8 75.1h.3M361.5 88.2h.3M364.2 79.8h.3M359.4 94.2h.3M363.7 77.2h.3M366.1 85.5h.3M364.1 87.6h.3M362.6 85.4h.3M363.6 76.3h.3M365.8 85.9h.3M356.3 77.7h.3M366.9 75.9h.3M361.1 94h.3M365.8 80.5h.3M356.6 76.5h.3M359.1 75.3h.3M362.1 93.1h.3M362.3 93h.3M366.3 90.6h.3M376.7 43h.3M356.1 69.2h.3M368.3 49.9h.3M374.4 72.6h.3M355 88.7h.3M374.3 47.2h.3M376.9 59.3h.3M365.9 57.1h.3M370.8 75.5h.3M346 80.7h.3M360.1 42.3h.3M357.9 50.4h.3M359.4 58.6h.3M382 88h.3M382.7 78.1h.3" stroke="#8e8e8e" stroke-width="0.66" stroke-linecap="round" fill="none"/>
</g>
<g filter="url(#soft)">
<path d="M453.7 45.5 455.2 45.1 455.9 45.7 456.9 47.8 458.6 55.3 459.3 61.3 458.6 69.6 456.9 80.1 455.9 83.5 454.4 85.1 452.9 83.8 451.7 80.1 450.4 71.1 450 65.1 450.2 58.3 450.9 52.3 452.1 47.8 453.6 45.6ZM453.4 48.6 452.1 50.8 451.2 55.3 450.7 66.6 451.9 77.1 452.9 80.8 453.7 82.2 454.4 82.7 455.7 80.8 457.1 74.8 457.9 68.8 458.3 62 457.9 56 456.6 50.3 455.1 47.9 453.7 48.3Z" fill="#e8e8e8" stroke="none"/>
<path d="M453.6 48.3 455.2 47.9 456.7 50.3 457.9 56 458.3 62 457.9 68.8 457.1 74.8 455.7 80.8 454.4 82.7 453.7 82.2 452.9 80.8 451.9 77.1 450.7 66.6 451.2 55.3 452.2 50.8 453.4 48.6ZM453.4 50.8 452.3 53 451.6 56.1 451.1 65.8 452.2 75 453.7 79.3 454.4 79.9 455.2 79 457 71.8 457.7 61.3 457.1 55.3 456.1 51.5 455.2 50.1 453.7 50.5Z" fill="#c8c8c8" stroke="none"/>
<path d="M453.7 50.5 455.2 50.1 456.1 51.6 457.1 55.3 457.7 61.3 457 71.8 455.2 79 454.4 79.9 453.7 79.3 452.2 75 451.1 65.8 451.6 56.1 452.3 53.1 453.4 50.8ZM454.2 52.3 452.9 53.8 452.2 56.1 451.5 64.3 452.3 72.6 452.9 74.7 453.7 76 454.4 76.2 455.2 75.4 456.4 71.8 457.2 62.8 456.3 54.5 455.2 52.3 454.4 52.2Z" fill="#a4a4a4" stroke="none"/>
<path d="M454.4 52.2 455.2 52.3 456.3 54.6 457.2 62.8 456.4 71.8 455.2 75.4 454.4 76.2 453.7 76 452.9 74.7 452.3 72.6 451.5 64.3 452.2 56 452.9 53.8 454.2 52.3ZM453.9 54.5 452.9 56.1 452.4 58.3 451.9 65.1 452.9 72.1 453.6 73.4 454.4 73.5 455.2 72.8 456.1 70.3 456.8 62.8 456 56.1 455.2 54.4 454.4 54.2Z" fill="#808080" stroke="none"/>
<path d="M454.4 54.2 455.2 54.4 456 56.1 456.8 62.8 456.1 70.3 455.2 72.8 454.4 73.5 453.6 73.4 452.9 72.1 451.9 65.1 452.4 58.3 452.9 56.1 453.9 54.5ZM453.7 56.8 452.7 59.8 452.5 65.8 453 69.6 453.7 71 454.4 71.2 455.2 70.5 455.9 68.2 456.3 63.6 455.9 58.4 455.2 56.5 454.4 56.3Z" fill="#606060" stroke="none"/>
<path d="M454.4 56.3 455.2 56.5 455.9 58.4 456.3 63.6 455.9 68.2 455.2 70.5 454.4 71.2 453.7 71 453 69.6 452.5 65.8 452.7 59.8 453.7 56.8ZM454.4 59.1 453.5 60.6 453.1 64.3 453.7 67.9 454.4 68.3 455.2 67.3 455.6 63.6 455.2 59.8 454.4 59Z" fill="#464646" stroke="none"/>
<path d="M454.4 59 455.2 59.8 455.6 63.6 455.2 67.3 454.4 68.3 453.7 67.9 453.1 64.3 453.5 60.6 454.4 59.1Z" fill="#363636" stroke="none"/>
<path d="M453.7 45.5 455.2 45.1 455.9 45.7 456.9 47.8 458.6 55.3 459.3 61.3 458.6 69.6 456.9 80.1 455.9 83.5 454.4 85.1 452.9 83.8 451.7 80.1 450.4 71.1 450 65.1 450.2 58.3 450.9 52.3 452.1 47.8 453.6 45.6Z" fill="none" stroke="#3c3c3c" stroke-width="0.3" stroke-opacity="0.8"/>
<path d="M453.6 48.3 455.2 47.9 456.7 50.3 457.9 56 458.3 62 457.9 68.8 457.1 74.8 455.7 80.8 454.4 82.7 453.7 82.2 452.9 80.8 451.9 77.1 450.7 66.6 451.2 55.3 452.2 50.8 453.4 48.6Z" fill="none" stroke="#3c3c3c" stroke-width="0.3" stroke-opacity="0.8"/>
<path d="M453.7 50.5 455.2 50.1 456.1 51.6 457.1 55.3 457.7 61.3 457 71.8 455.2 79 454.4 79.9 453.7 79.3 452.2 75 451.1 65.8 451.6 56.1 452.3 53.1 453.4 50.8Z" fill="none" stroke="#3c3c3c" stroke-width="0.3" stroke-opacity="0.8"/>
<path d="M454.4 52.2 455.2 52.3 456.3 54.6 457.2 62.8 456.4 71.8 455.2 75.4 454.4 76.2 453.7 76 452.9 74.7 452.3 72.6 451.5 64.3 452.2 56 452.9 53.8 454.2 52.3Z" fill="none" stroke="#3c3c3c" stroke-width="0.3" stroke-opacity="0.8"/>
<path d="M454.4 54.2 455.2 54.4 456 56.1 456.8 62.8 456.1 70.3 455.2 72.8 454.4 73.5 453.6 73.4 452.9 72.1 451.9 65.1 452.4 58.3 452.9 56.1 453.9 54.5Z" fill="none" stroke="#3c3c3c" stroke-width="0.3" stroke-opacity="0.8"/>
<path d="M454.4 56.3 455.2 56.5 455.9 58.4 456.3 63.6 455.9 68.2 455.2 70.5 454.4 71.2 453.7 71 453 69.6 452.5 65.8 452.7 59.8 453.7 56.8Z" fill="none" stroke="#3c3c3c" stroke-width="0.3" stroke-opacity="0.8"/>
<path d="M454.4 59 455.2 59.8 455.6 63.6 455.2 67.3 454.4 68.3 453.7 67.9 453.1 64.3 453.5 60.6 454.4 59.1Z" fill="none" stroke="#3c3c3c" stroke-width="0.3" stroke-opacity="0.8"/>
<path d="M453 64.5h.3M452 76.4h.3M454 60.6h.3M455.2 54.3h.3M456.4 49.4h.3M454.6 63.3h.3M453.4 62h.3M453 67.3h.3M455.7 61.1h.3M457.3 60.9h.3M454.9 58.9h.3M452.2 60.6h.3M452.7 66.4h.3M457.3 61.8h.3M454.8 65.9h.3M451.3 81.2h.3M454.2 69.1h.3M452.3 51.6h.3M453.3 79.7h.3M453.5 68h.3M453.1 57h.3M455.4 72.7h.3M454.3 65.2h.3M453.3 59.8h.3M455.1 59.6h.3M455.9 56.6h.3M451.4 65.4h.3M453.9 74.1h.3M452.6 62.2h.3M454.1 68.6h.3M452.1 80.9h.3M454.4 54.7h.3M454.3 67.2h.3M453.9 62.4h.3M452.5 56h.3M453.7 56.3h.3M452.4 64.9h.3M452 68.7h.3M454.8 60.5h.3M452.4 65.5h.3M456.5 71.1h.3M455.7 67.5h.3M450.8 72.4h.3M454.9 68.9h.3M452.4 69.1h.3M454.5 80.5h.3M454.5 70.3h.3M450.8 66.1h.3M454 71h.3M453.9 57.2h.3M456.1 62.1h.3M452.3 71.7h.3M455.7 70.4h.3M452.4 78.2h.3M453.8 65.1h.3M452.9 52.6h.3M457 81.6h.3M455.4 74.3h.3M458.8 56h.3M455.6 76.7h.3M455.9 65.3h.3M455.9 49.6h.3M453.3 61.4h.3M454.3 60.7h.3M456.8 78.5h.3M453.7 58.3h.3M454.7 62.8h.3M454.4 62.6h.3M455.5 61.8h.3M453.7 57.2h.3M454.1 66.9h.3M454.8 74.2h.3M454.6 70.3h.3M452.8 57.1h.3M456 55.2h.3M452.1 66h.3M452.2 59h.3M452.1 59.6h.3M456.1 50.7h.3M453.8 81.6h.3M452.7 72.8h.3M452.4 56.7h.3M455.2 72.7h.3M452.5 76.4h.3M452.1 44.7h.3M455.5 60.3h.3M452.2 61.7h.3M453.8 70.5h.3M454.4 64h.3M453.6 63h.3M460.7 56.2h.3M469.3 67.1h.3M470.7 57.8h.3M458.6 56.6h.3M456.8 56.8h.3M473.1 63h.3M456.6 66.5h.3M458.4 58.4h.3M461.2 52.9h.3M463.2 68.4h.3M465.6 55.6h.3M462.8 69.2h.3M457.1 61.7h.3M463.3 57.8h.3M462.1 58.2h.3M469.4 64.8h.3M460.9 67.3h.3M455 60.8h.3M456.3 67.7h.3M467.5 74.5h.3M458.6 60.8h.3M451.5 55.1h.3M458.4 55.7h.3M461 53.7h.3M466.3 58.2h.3M456.4 57.7h.3M464 54h.3M464.6 65.2h.3M457.9 46.3h.3M460.2 54.1h.3M469 74.1h.3M468.7 68.2h.3M464.8 65.1h.3M462.5 64.7h.3M466.1 72.6h.3M460.4 65.2h.3M460.6 62.5h.3M457.1 54.6h.3M461 61.6h.3M460.6 57.6h.3M473.5 57.8h.3M460.1 57.7h.3M466.7 61.7h.3M466.9 60h.3M460.2 67.2h.3M466.3 54h.3M451.2 61h.3M461.4 73.2h.3M464.9 62.2h.3M450.2 69.2h.3M455.8 68.8h.3M465.8 69.9h.3M459.8 66.4h.3M456.1 53.7h.3M459.3 60.4h.3M458.6 59.7h.3M464.3 52.7h.3M463 59.2h.3M459.7 54.5h.3M458 52h.3M460.8 63.3h.3M467 61.7h.3M462.6 57.9h.3M463.9 56.3h.3M460.3 58.8h.3M455.2 59.6h.3M457.8 59.6h.3M463.9 61.7h.3M461.5 59.4h.3M456.9 64.3h.3M453.7 65.1h.3M461.5 64.1h.3M459.5 58h.3M459.4 58.3h.3M459.5 64.6h.3M462.3 60.8h.3M462.3 61.7h.3M465.3 47h.3M465.2 45.8h.3M467 64h.3M464.6 64h.3M459.5 70.4h.3M460.8 66.3h.3M463.2 63.3h.3M459.6 62.1h.3M463.5 53.4h.3M466.2 67.3h.3M457.4 58.4h.3M453 65h.3M466.4 63.2h.3M461.1 63.6h.3M464.2 67.4h.3M455 59.1h.3M468.8 59.7h.3M464.3 56.9h.3M460.4 59.7h.3M459.4 72h.3M461.5 59.8h.3M460.2 69.1h.3M459.7 67h.3M456 66.4h.3M466.7 66.8h.3M460.8 55.9h.3M461.3 64.2h.3M461.4 71.5h.3M450.4 57.8h.3M463.4 61.7h.3M459.5 57.9h.3M459.7 63.9h.3M461.3 55.5h.3M467.7 71.9h.3M466.2 51.2h.3M461.2 68.1h.3M473.5 66.4h.3M476.1 62h.3M461.5 60.6h.3M460 60h.3M468.5 49.6h.3M459.6 61.2h.3M478.6 71.7h.3M476.4 65.2h.3M476 58.7h.3M465.9 58.1h.3M474.9 68.7h.3M465.4 47.2h.3M467 52h.3M458.5 70.9h.3M456.9 63.3h.3M472.1 67.7h.3M460.6 60.3h.3M479 48h.3M469.6 60.4h.3M469.8 62.7h.3M477.5 49.2h.3M463.1 59h.3M456.3 70.6h.3M461.3 48.6h.3M467 48.2h.3M459.6 49.6h.3M462.7 64.1h.3M473.7 69.3h.3M465 50.9h.3M464.2 68.1h.3M461.6 52.6h.3M468.8 60.5h.3M455.6 86.5h.3M451.7 86.5h.3M453.9 83.1h.3M456.2 83.5h.3M453.1 80.1h.3M455.8 88h.3M453.7 82.3h.3M456.7 81.5h.3M453.4 89.1h.3M455.9 81.7h.3M451.5 80.4h.3M453 82.6h.3M451.9 84.2h.3M453.4 85.4h.3M453.4 82.8h.3M452.4 86.2h.3M453.5 78.3h.3M455.1 89.1h.3M454.5 83.5h.3M452.5 83.4h.3M483.4 55.6h.3M478.3 57.4h.3M494.4 61.9h.3M483.6 45.4h.3M472.9 57.2h.3M480.5 56.5h.3M484.6 55.7h.3M480.8 45h.3M473.1 45.3h.3M496.7 57.2h.3M474.5 56.4h.3M491.9 53.4h.3" stroke="#6e6e6e" stroke-width="0.66" stroke-linecap="round" fill="none"/>
</g>
<rect x="87.6" y="66.2" width="24.400000000000006" height="50.0" fill="none" stroke="#d42026" stroke-width="1.5"/>
<text x="59.5" y="106" font-size="12.3" fill="#d4252f" stroke="#d4252f" stroke-width="0.22">12%</text>
<rect x="185.9" y="78.3" width="30.299999999999983" height="38.3" fill="none" stroke="#d42026" stroke-width="1.5"/>
<text x="156.3" y="106" font-size="12.3" fill="#d4252f" stroke="#d4252f" stroke-width="0.22">28%</text>
<rect x="277.4" y="72.6" width="26.80000000000001" height="44.0" fill="none" stroke="#d42026" stroke-width="1.5"/>
<text x="245.6" y="106" font-size="12.3" fill="#d4252f" stroke="#d4252f" stroke-width="0.22">1.3%</text>
<rect x="382.4" y="77.0" width="25.100000000000023" height="39.599999999999994" fill="none" stroke="#d42026" stroke-width="1.5"/>
<text x="360.8" y="106" font-size="12.3" fill="#d4252f" stroke="#d4252f" stroke-width="0.22">0%</text>
<rect x="481.2" y="78.2" width="25.19999999999999" height="38.39999999999999" fill="none" stroke="#d42026" stroke-width="1.5"/>
<text x="459.6" y="106" font-size="12.3" fill="#d4252f" stroke="#d4252f" stroke-width="0.22">0%</text>
<text x="23.0" y="90" font-size="11.3" text-anchor="middle" fill="#111" stroke="#111" stroke-width="0.22" transform="rotate(-90 23.0 90)">CD38</text>
<path d="M18.3 114 V133.2 H38.5" fill="none" stroke="#111" stroke-width="1.0"/>
<path d="M15.700000000000001 114.5 L18.3 110 L20.900000000000002 114.5Z" fill="#111"/>
<path d="M38.0 130.6 L42.5 133.2 L38.0 135.79999999999998Z" fill="#111"/>
<text x="44.5" y="140" font-size="11.3" fill="#111" stroke="#111" stroke-width="0.22">CD34</text>
<text x="250.5" y="150" font-size="12.5" text-anchor="middle" font-weight="bold" fill="#111">Normal bone marrow</text>
<line x1="35.7" y1="153.8" x2="463" y2="153.8" stroke="#111" stroke-width="1.4"/>
<rect x="34.5" y="172.6" width="85.0" height="83.79999999999998" fill="none" stroke="#9a9a9a" stroke-width="0.7"/>
<line x1="34.5" y1="172.6" x2="34.5" y2="256.4" stroke="#333" stroke-width="0.7"/>
<line x1="34.5" y1="256.4" x2="119.5" y2="256.4" stroke="#333" stroke-width="0.7"/>
<path d="M32.9 180.8h1.6M32.9 201.1h1.6M32.9 223.4h1.6M32.9 237.4h1.6M32.9 250.4h1.6M39.8 256.4v1.6M55.0 256.4v1.6M68.7 256.4v1.6M92.4 256.4v1.6M112.1 256.4v1.6M33.6 185.9h0.9M33.6 190.9h0.9M33.6 196.0h0.9M33.6 206.7h0.9M33.6 212.2h0.9M33.6 217.8h0.9M33.6 226.9h0.9M33.6 230.4h0.9M33.6 233.9h0.9M33.6 240.6h0.9M33.6 243.9h0.9M33.6 247.1h0.9M43.6 256.4v0.9M47.4 256.4v0.9M51.2 256.4v0.9M58.4 256.4v0.9M61.9 256.4v0.9M65.3 256.4v0.9M74.6 256.4v0.9M80.5 256.4v0.9M86.5 256.4v0.9M97.3 256.4v0.9M102.2 256.4v0.9M107.2 256.4v0.9" stroke="#444" stroke-width="0.5" fill="none"/>
<text x="32.1" y="182.0" font-size="3.6" text-anchor="end" fill="#555">10<tspan dy="-1" font-size="2.6">5</tspan></text>
<text x="32.1" y="202.3" font-size="3.6" text-anchor="end" fill="#555">10<tspan dy="-1" font-size="2.6">4</tspan></text>
<text x="32.1" y="224.6" font-size="3.6" text-anchor="end" fill="#555">10<tspan dy="-1" font-size="2.6">3</tspan></text>
<text x="32.1" y="238.6" font-size="3.6" text-anchor="end" fill="#555">0</text>
<text x="32.1" y="251.6" font-size="3.6" text-anchor="end" fill="#555">-10<tspan dy="-1" font-size="2.6">3</tspan></text>
<text x="39.8" y="262.6" font-size="3.6" text-anchor="middle" fill="#555">-10<tspan dy="-1" font-size="2.6">3</tspan></text>
<text x="55.0" y="262.6" font-size="3.6" text-anchor="middle" fill="#555">0</text>
<text x="68.7" y="262.6" font-size="3.6" text-anchor="middle" fill="#555">10<tspan dy="-1" font-size="2.6">3</tspan></text>
<text x="92.4" y="262.6" font-size="3.6" text-anchor="middle" fill="#555">10<tspan dy="-1" font-size="2.6">4</tspan></text>
<text x="112.1" y="262.6" font-size="3.6" text-anchor="middle" fill="#555">10<tspan dy="-1" font-size="2.6">5</tspan></text>
<rect x="33.0" y="235.59999999999997" width="2.2" height="3.6" fill="#111" stroke="none" stroke-width="1"/>
<rect x="53.0" y="256.4" width="4" height="1.8" fill="#111" stroke="none" stroke-width="1"/>
<rect x="148.7" y="172.6" width="85.80000000000001" height="83.79999999999998" fill="none" stroke="#9a9a9a" stroke-width="0.7"/>
<line x1="148.7" y1="172.6" x2="148.7" y2="256.4" stroke="#333" stroke-width="0.7"/>
<line x1="148.7" y1="256.4" x2="234.5" y2="256.4" stroke="#333" stroke-width="0.7"/>
<path d="M147.1 180.8h1.6M147.1 201.1h1.6M147.1 223.4h1.6M147.1 237.4h1.6M147.1 250.4h1.6M154.0 256.4v1.6M169.2 256.4v1.6M182.9 256.4v1.6M206.6 256.4v1.6M226.3 256.4v1.6M147.79999999999998 185.9h0.9M147.79999999999998 190.9h0.9M147.79999999999998 196.0h0.9M147.79999999999998 206.7h0.9M147.79999999999998 212.2h0.9M147.79999999999998 217.8h0.9M147.79999999999998 226.9h0.9M147.79999999999998 230.4h0.9M147.79999999999998 233.9h0.9M147.79999999999998 240.6h0.9M147.79999999999998 243.9h0.9M147.79999999999998 247.1h0.9M157.8 256.4v0.9M161.6 256.4v0.9M165.4 256.4v0.9M172.6 256.4v0.9M176.0 256.4v0.9M179.5 256.4v0.9M188.8 256.4v0.9M194.7 256.4v0.9M200.7 256.4v0.9M211.5 256.4v0.9M216.4 256.4v0.9M221.4 256.4v0.9" stroke="#444" stroke-width="0.5" fill="none"/>
<text x="146.29999999999998" y="182.0" font-size="3.6" text-anchor="end" fill="#555">10<tspan dy="-1" font-size="2.6">5</tspan></text>
<text x="146.29999999999998" y="202.3" font-size="3.6" text-anchor="end" fill="#555">10<tspan dy="-1" font-size="2.6">4</tspan></text>
<text x="146.29999999999998" y="224.6" font-size="3.6" text-anchor="end" fill="#555">10<tspan dy="-1" font-size="2.6">3</tspan></text>
<text x="146.29999999999998" y="238.6" font-size="3.6" text-anchor="end" fill="#555">0</text>
<text x="146.29999999999998" y="251.6" font-size="3.6" text-anchor="end" fill="#555">-10<tspan dy="-1" font-size="2.6">3</tspan></text>
<text x="154.0" y="262.6" font-size="3.6" text-anchor="middle" fill="#555">-10<tspan dy="-1" font-size="2.6">3</tspan></text>
<text x="169.2" y="262.6" font-size="3.6" text-anchor="middle" fill="#555">0</text>
<text x="182.9" y="262.6" font-size="3.6" text-anchor="middle" fill="#555">10<tspan dy="-1" font-size="2.6">3</tspan></text>
<text x="206.6" y="262.6" font-size="3.6" text-anchor="middle" fill="#555">10<tspan dy="-1" font-size="2.6">4</tspan></text>
<text x="226.3" y="262.6" font-size="3.6" text-anchor="middle" fill="#555">10<tspan dy="-1" font-size="2.6">5</tspan></text>
<rect x="147.2" y="235.59999999999997" width="2.2" height="3.6" fill="#111" stroke="none" stroke-width="1"/>
<rect x="167.2" y="256.4" width="4" height="1.8" fill="#111" stroke="none" stroke-width="1"/>
<rect x="261.8" y="172.6" width="84.39999999999998" height="83.79999999999998" fill="none" stroke="#9a9a9a" stroke-width="0.7"/>
<line x1="261.8" y1="172.6" x2="261.8" y2="256.4" stroke="#333" stroke-width="0.7"/>
<line x1="261.8" y1="256.4" x2="346.2" y2="256.4" stroke="#333" stroke-width="0.7"/>
<path d="M260.2 180.8h1.6M260.2 201.1h1.6M260.2 223.4h1.6M260.2 237.4h1.6M260.2 250.4h1.6M267.1 256.4v1.6M282.3 256.4v1.6M296.0 256.4v1.6M319.7 256.4v1.6M339.4 256.4v1.6M260.90000000000003 185.9h0.9M260.90000000000003 190.9h0.9M260.90000000000003 196.0h0.9M260.90000000000003 206.7h0.9M260.90000000000003 212.2h0.9M260.90000000000003 217.8h0.9M260.90000000000003 226.9h0.9M260.90000000000003 230.4h0.9M260.90000000000003 233.9h0.9M260.90000000000003 240.6h0.9M260.90000000000003 243.9h0.9M260.90000000000003 247.1h0.9M270.9 256.4v0.9M274.7 256.4v0.9M278.5 256.4v0.9M285.7 256.4v0.9M289.2 256.4v0.9M292.6 256.4v0.9M301.9 256.4v0.9M307.9 256.4v0.9M313.8 256.4v0.9M324.6 256.4v0.9M329.6 256.4v0.9M334.5 256.4v0.9" stroke="#444" stroke-width="0.5" fill="none"/>
<text x="259.40000000000003" y="182.0" font-size="3.6" text-anchor="end" fill="#555">10<tspan dy="-1" font-size="2.6">5</tspan></text>
<text x="259.40000000000003" y="202.3" font-size="3.6" text-anchor="end" fill="#555">10<tspan dy="-1" font-size="2.6">4</tspan></text>
<text x="259.40000000000003" y="224.6" font-size="3.6" text-anchor="end" fill="#555">10<tspan dy="-1" font-size="2.6">3</tspan></text>
<text x="259.40000000000003" y="238.6" font-size="3.6" text-anchor="end" fill="#555">0</text>
<text x="259.40000000000003" y="251.6" font-size="3.6" text-anchor="end" fill="#555">-10<tspan dy="-1" font-size="2.6">3</tspan></text>
<text x="267.1" y="262.6" font-size="3.6" text-anchor="middle" fill="#555">-10<tspan dy="-1" font-size="2.6">3</tspan></text>
<text x="282.3" y="262.6" font-size="3.6" text-anchor="middle" fill="#555">0</text>
<text x="296.0" y="262.6" font-size="3.6" text-anchor="middle" fill="#555">10<tspan dy="-1" font-size="2.6">3</tspan></text>
<text x="319.7" y="262.6" font-size="3.6" text-anchor="middle" fill="#555">10<tspan dy="-1" font-size="2.6">4</tspan></text>
<text x="339.4" y="262.6" font-size="3.6" text-anchor="middle" fill="#555">10<tspan dy="-1" font-size="2.6">5</tspan></text>
<rect x="260.3" y="235.59999999999997" width="2.2" height="3.6" fill="#111" stroke="none" stroke-width="1"/>
<rect x="280.3" y="256.4" width="4" height="1.8" fill="#111" stroke="none" stroke-width="1"/>
<rect x="376.6" y="172.6" width="84.89999999999998" height="83.79999999999998" fill="none" stroke="#9a9a9a" stroke-width="0.7"/>
<line x1="376.6" y1="172.6" x2="376.6" y2="256.4" stroke="#333" stroke-width="0.7"/>
<line x1="376.6" y1="256.4" x2="461.5" y2="256.4" stroke="#333" stroke-width="0.7"/>
<path d="M375.0 180.8h1.6M375.0 201.1h1.6M375.0 223.4h1.6M375.0 237.4h1.6M375.0 250.4h1.6M381.9 256.4v1.6M397.1 256.4v1.6M410.8 256.4v1.6M434.5 256.4v1.6M454.2 256.4v1.6M375.70000000000005 185.9h0.9M375.70000000000005 190.9h0.9M375.70000000000005 196.0h0.9M375.70000000000005 206.7h0.9M375.70000000000005 212.2h0.9M375.70000000000005 217.8h0.9M375.70000000000005 226.9h0.9M375.70000000000005 230.4h0.9M375.70000000000005 233.9h0.9M375.70000000000005 240.6h0.9M375.70000000000005 243.9h0.9M375.70000000000005 247.1h0.9M385.7 256.4v0.9M389.5 256.4v0.9M393.3 256.4v0.9M400.5 256.4v0.9M404.0 256.4v0.9M407.4 256.4v0.9M416.7 256.4v0.9M422.7 256.4v0.9M428.6 256.4v0.9M439.4 256.4v0.9M444.4 256.4v0.9M449.3 256.4v0.9" stroke="#444" stroke-width="0.5" fill="none"/>
<text x="374.20000000000005" y="182.0" font-size="3.6" text-anchor="end" fill="#555">10<tspan dy="-1" font-size="2.6">5</tspan></text>
<text x="374.20000000000005" y="202.3" font-size="3.6" text-anchor="end" fill="#555">10<tspan dy="-1" font-size="2.6">4</tspan></text>
<text x="374.20000000000005" y="224.6" font-size="3.6" text-anchor="end" fill="#555">10<tspan dy="-1" font-size="2.6">3</tspan></text>
<text x="374.20000000000005" y="238.6" font-size="3.6" text-anchor="end" fill="#555">0</text>
<text x="374.20000000000005" y="251.6" font-size="3.6" text-anchor="end" fill="#555">-10<tspan dy="-1" font-size="2.6">3</tspan></text>
<text x="381.9" y="262.6" font-size="3.6" text-anchor="middle" fill="#555">-10<tspan dy="-1" font-size="2.6">3</tspan></text>
<text x="397.1" y="262.6" font-size="3.6" text-anchor="middle" fill="#555">0</text>
<text x="410.8" y="262.6" font-size="3.6" text-anchor="middle" fill="#555">10<tspan dy="-1" font-size="2.6">3</tspan></text>
<text x="434.5" y="262.6" font-size="3.6" text-anchor="middle" fill="#555">10<tspan dy="-1" font-size="2.6">4</tspan></text>
<text x="454.2" y="262.6" font-size="3.6" text-anchor="middle" fill="#555">10<tspan dy="-1" font-size="2.6">5</tspan></text>
<rect x="375.1" y="235.59999999999997" width="2.2" height="3.6" fill="#111" stroke="none" stroke-width="1"/>
<rect x="395.1" y="256.4" width="4" height="1.8" fill="#111" stroke="none" stroke-width="1"/>
<text x="80.5" y="168.8" font-size="12.2" text-anchor="middle" fill="#111" stroke="#111" stroke-width="0.22">DAPI<tspan dy="-4.6" font-size="9.6">&#8211;</tspan><tspan dy="4.6">CD45</tspan><tspan dy="-4.6" font-size="9.6">+</tspan></text>
<text x="192.2" y="168.8" font-size="12" text-anchor="middle" fill="#111" stroke="#111" stroke-width="0.22">CD34<tspan dy="-4.6" font-size="9.6">+</tspan><tspan dy="4.6"> CD38</tspan><tspan dy="-4.6" font-size="9.6">&#8211;</tspan></text>
<text x="304.7" y="168.8" font-size="12" text-anchor="middle" fill="#111" stroke="#111" stroke-width="0.22">CD34<tspan dy="-4.6" font-size="9.6">+</tspan><tspan dy="4.6"> CD38</tspan><tspan dy="-4.6" font-size="9.6">+</tspan></text>
<text x="420" y="168.8" font-size="12" text-anchor="middle" fill="#111" stroke="#111" stroke-width="0.22">CD34<tspan dy="-4.6" font-size="9.6">+</tspan><tspan dy="4.6"> CD38</tspan><tspan dy="-4.6" font-size="9.6">+</tspan><tspan dy="4.6"> CD10</tspan><tspan dy="-4.6" font-size="9.6">&#8211;</tspan></text>
<g filter="url(#soft)">
<path d="M93.6 180.3 95.1 180.1 97.3 180.9 98.8 182.4 100.1 184.4 102.1 191.9 102.9 200.2 102.4 211.4 100.2 225.7 99.3 227.9 98.2 229.4 96.6 230.5 95.1 230.8 93.6 230.6 92.1 229.7 90.1 226.4 87.2 204.7 87.3 197.2 88.5 189.7 90.2 184.4 92.9 180.7ZM92.8 184.4 91 187.4 89.4 192.7 88.6 198.7 88.6 204.7 89.3 211.4 91.1 220.4 91.1 225.7 92.7 228.7 95.1 229.6 97.3 228.6 99.1 225.7 99.3 221.2 101.5 209.2 101.7 198.7 100.7 191.2 98.8 186.2 95.8 184.1 94.3 183.8 92.8 184.4ZM94.3 225.3 95.8 225.2 96.4 225.7 96.5 226.4 95.8 227.5 95.1 227.8 93.9 227.2 93.8 225.7Z" fill="#f0f0f0" stroke="none"/>
<path d="M92.9 184.4 94.3 183.8 95.8 184.1 98.8 186.2 100.7 191.2 101.7 198.7 101.5 209.2 99.3 221.2 99.1 225.7 97.3 228.6 95.1 229.6 92.7 228.7 91.1 225.7 91.1 220.4 89.3 211.4 88.6 204.7 88.6 198.7 89.4 192.7 91 187.4 92.8 184.4ZM92.7 187.4 91.2 190.4 90 195.7 89.6 202.4 90 209.2 92.4 219.7 92.2 222.7 92.8 223.1 95.8 222.4 97.3 223.1 97.9 221.9 97.5 219.7 99.6 216 100.8 209.9 101.1 202.4 100.7 195.7 99.6 190.8 98.1 188.3 94.3 186.7 92.8 187.3ZM93.8 225.7 93.9 227.2 95.1 227.8 95.8 227.5 96.5 226.4 96.4 225.7 95.9 225.2 94.3 225.3Z" fill="#dcdcdc" stroke="none"/>
<path d="M92.8 187.3 94.3 186.7 98.1 188.3 99.6 190.8 100.7 195.7 101.1 202.4 100.8 209.9 99.6 216 97.5 219.7 97.9 221.9 97.3 223.1 95.8 222.4 92.8 223.1 92.2 222.7 92.4 219.7 90 209.2 89.6 202.4 90 195.7 91.2 190.4 92.7 187.4ZM93.3 189.7 92.1 191.4 91.1 194.9 90.4 203.2 91.6 212.9 92.5 215.9 93.6 217.2 95.8 215.4 98.1 215.4 98.8 214.7 100.1 209.9 100.6 203.2 100.1 196.4 98.8 192 98.1 191.1 93.6 189.5Z" fill="#c4c4c4" stroke="none"/>
<path d="M93.6 189.5 98.1 191.1 98.8 192 100.1 196.4 100.6 203.2 100.1 209.9 98.8 214.7 98.1 215.4 95.8 215.4 93.6 217.2 92.5 215.9 91.6 212.9 90.4 203.2 91.1 194.9 92.1 191.4 93.3 189.7ZM92.8 192.7 91.5 197.2 91.1 203.9 92 211.4 92.8 213.7 93.6 214.3 95.8 211.6 96.6 211.5 98.1 212.6 98.8 211.8 99.8 207.7 100 201.7 99.5 197.2 98.4 194.2 95.8 193.5 94.3 192.2 93.6 192 92.8 192.6Z" fill="#a8a8a8" stroke="none"/>
<path d="M92.8 192.6 93.6 192 94.3 192.2 95.8 193.5 98.4 194.2 99.5 197.2 100 201.7 99.8 207.7 98.8 211.8 98.1 212.6 96.6 211.5 95.8 211.6 93.6 214.3 92.8 213.7 92 211.4 91.1 203.9 91.5 197.2 92.8 192.7ZM93.2 194.9 92.1 197.9 91.7 203.9 92.3 209.2 92.8 211 93.6 211.6 95.8 207.4 96.6 207.5 98.1 209.6 98.8 208.6 99.4 203.2 99 198.7 98.1 196.8 96.6 197.7 95.8 197.5 94.3 195 93.6 194.6Z" fill="#8c8c8c" stroke="none"/>
<path d="M93.6 194.6 94.3 195 95.8 197.5 96.6 197.7 98.1 196.8 99 198.7 99.4 203.2 98.8 208.6 98.1 209.6 96.6 207.5 95.8 207.4 93.6 211.6 92.8 211 92.3 209.2 91.7 203.9 92.1 197.9 93.2 194.9ZM93.5 197.9 92.8 198.9 92.4 203.2 92.8 207.4 93.6 208.3 94.5 206.2 94.9 202.4 94.5 199.4 93.6 197.8Z" fill="#707070" stroke="none"/>
<path d="M93.6 197.8 94.5 199.4 94.9 202.4 94.5 206.2 93.6 208.3 92.8 207.4 92.4 203.2 92.8 198.9 93.5 197.9Z" fill="#5a5a5a" stroke="none"/>
<path d="M93.6 180.3 95.1 180.1 97.3 180.9 98.8 182.4 100.1 184.4 102.1 191.9 102.9 200.2 102.4 211.4 100.2 225.7 99.3 227.9 98.2 229.4 96.6 230.5 95.1 230.8 93.6 230.6 92.1 229.7 90.1 226.4 87.2 204.7 87.3 197.2 88.5 189.7 90.2 184.4 92.9 180.7Z" fill="none" stroke="#3c3c3c" stroke-width="0.3" stroke-opacity="0.8"/>
<path d="M92.9 184.4 94.3 183.8 95.8 184.1 98.8 186.2 100.7 191.2 101.7 198.7 101.5 209.2 99.3 221.2 99.1 225.7 97.3 228.6 95.1 229.6 92.7 228.7 91.1 225.7 91.1 220.4 89.3 211.4 88.6 204.7 88.6 198.7 89.4 192.7 91 187.4 92.8 184.4ZM94.3 225.3 93.5 226.4 93.9 227.2 95.1 227.8 95.8 227.5 96.5 226.4 95.9 225.2 95.1 225.2Z" fill="none" stroke="#3c3c3c" stroke-width="0.3" stroke-opacity="0.8"/>
<path d="M92.8 187.3 94.3 186.7 98.1 188.3 99.6 190.8 100.7 195.7 101.1 202.4 100.8 209.9 99.6 216 97.5 219.7 97.9 221.9 97.3 223.1 95.8 222.4 92.8 223.1 92.2 222.7 92.4 219.7 90 209.2 89.6 202.4 90 195.7 91.2 190.4 92.7 187.4Z" fill="none" stroke="#3c3c3c" stroke-width="0.3" stroke-opacity="0.8"/>
<path d="M93.6 189.5 98.1 191.1 98.8 192 100.1 196.4 100.6 203.2 100.1 209.9 98.8 214.7 98.1 215.4 95.8 215.4 93.6 217.2 92.5 215.9 91.6 212.9 90.4 203.2 91.1 194.9 92.1 191.4 93.3 189.7Z" fill="none" stroke="#3c3c3c" stroke-width="0.3" stroke-opacity="0.8"/>
<path d="M92.8 192.6 93.6 192 94.3 192.2 95.8 193.5 98.4 194.2 99.5 197.2 100 201.7 99.8 207.7 98.8 211.8 98.1 212.6 96.6 211.5 95.8 211.6 93.6 214.3 92.8 213.7 92 211.4 91.1 203.9 91.5 197.2 92.8 192.7Z" fill="none" stroke="#3c3c3c" stroke-width="0.3" stroke-opacity="0.8"/>
<path d="M93.6 194.6 94.3 195 95.8 197.5 96.6 197.7 98.1 196.8 99 198.7 99.4 203.2 98.8 208.6 98.1 209.6 96.6 207.5 95.8 207.4 93.6 211.6 92.8 211 92.3 209.2 91.7 203.9 92.1 197.9 93.2 194.9Z" fill="none" stroke="#3c3c3c" stroke-width="0.3" stroke-opacity="0.8"/>
<path d="M93.6 197.8 94.5 199.4 94.9 202.4 94.5 206.2 93.6 208.3 92.8 207.4 92.4 203.2 92.8 198.9 93.5 197.9Z" fill="none" stroke="#3c3c3c" stroke-width="0.3" stroke-opacity="0.8"/>
<path d="M95.1 218.7h.3M100.4 209.8h.3M99.9 227.2h.3M93 204.7h.3M93.8 198.9h.3M92.9 188.1h.3M97.3 218.6h.3M94.8 232.3h.3M98 195h.3M87.6 196.9h.3M101.3 210.6h.3M94.6 194.9h.3M97.7 201h.3M94.5 200.2h.3M93.5 206.1h.3M96.9 216h.3M98.3 204.2h.3M94.2 214.1h.3M94.4 199.4h.3M97.7 207.6h.3M91.5 180.5h.3M88.9 188.1h.3M96.6 212.8h.3M92.3 197.5h.3M87.3 210.4h.3M91.7 210h.3M93.1 218.5h.3M90.2 212.9h.3M89 215.2h.3M95.1 202.8h.3M98.6 196.3h.3M94.1 196h.3M92 198.6h.3M96.5 191.6h.3M97.9 198h.3M93.8 203h.3M97.2 206.8h.3M99.2 200.3h.3M94.2 182.8h.3M91.7 203.2h.3M96.4 206.5h.3M96 215.9h.3M99.4 210.4h.3M89.9 196.9h.3M92.4 196h.3M91.6 226.1h.3M88.1 212.3h.3M95.5 224.1h.3M97.1 227.4h.3M92 195h.3M100.5 208.2h.3M98.3 209h.3M97.5 210.2h.3M96.6 210h.3M98.8 206.2h.3M89.7 205.9h.3M97.5 187.5h.3M97.4 202.2h.3M87.9 195.8h.3M96.4 205.4h.3M94 198.9h.3M98.1 210.8h.3M93.2 213h.3M94.9 207.4h.3M96.4 207.5h.3M91.5 205h.3M97.4 199.1h.3M94.6 202.2h.3M97 198.5h.3M92.9 208.3h.3M99.3 204.2h.3M97.4 210.4h.3M94.3 189.4h.3M97.5 213.8h.3M100 195.6h.3M102.2 195.9h.3M88.7 201.8h.3M98.5 197.8h.3M96.9 207.2h.3M94.6 197.7h.3M91 192.2h.3M100 194.7h.3M90 218.4h.3M97.3 204.5h.3M100.2 191.2h.3M88.6 204.1h.3M93.8 186.9h.3M89.8 223.7h.3M96 187.2h.3M101.1 209.3h.3M103.1 210h.3M87.9 188h.3M92.7 207.3h.3M97.8 215h.3M101.3 209.1h.3M96.7 206.9h.3M92 214.4h.3M96.2 205.8h.3M94.9 207.7h.3M94.2 202.6h.3M92.1 210.9h.3M96.5 193.6h.3M96.2 212.7h.3M94.6 198.4h.3M94.1 192h.3M89.9 208h.3M93.1 222.6h.3M99.8 214.6h.3M94.2 198.3h.3M89.2 211.7h.3M60.5 217.9h.3M63.8 207.3h.3M65.9 208h.3M41.8 226h.3M66.9 234h.3M54.7 215.5h.3M58 209.5h.3M50.3 219.4h.3M49.8 187.5h.3M55.6 211.8h.3M73.3 198.2h.3M81.7 243.1h.3M64.7 221.4h.3M75.9 213.8h.3M62.4 209.5h.3M45.9 179.3h.3M66.5 221.3h.3M69.5 233.2h.3M60.7 202.5h.3M68 220.9h.3M70.7 221.4h.3M56.4 191.9h.3M50.2 224.2h.3M62.8 229.6h.3M62.9 215h.3M61.5 211.2h.3M74.9 222.2h.3M82.3 192h.3M60.8 213.2h.3M72 225.7h.3M74.4 195.8h.3M72.1 224.9h.3M75.5 206.6h.3M61.1 184.9h.3M72.4 210.6h.3M85.2 199.4h.3M73 216.2h.3M58.8 196.8h.3M71.1 225.7h.3M77.6 202.4h.3M68.7 216.6h.3M59.4 204.3h.3M80.4 207.8h.3M52.5 227.5h.3M70 214.8h.3M64.8 206.9h.3M53.1 195.7h.3M77.2 227.1h.3M68.5 221.5h.3M53.3 207.8h.3M71 215.2h.3M60.7 198.6h.3M46 198.8h.3M58.1 201.3h.3M67.6 216.6h.3M71.4 215.8h.3M66.7 202.3h.3M65.5 221.6h.3M69.7 222.2h.3M62.9 214.2h.3M76.8 225.5h.3M66.5 208.3h.3M67.9 210.5h.3M70.4 218.1h.3M54.4 211.6h.3M57.9 222.3h.3M80.3 195.7h.3M68.4 230.5h.3M62.2 201.8h.3M68.4 209.9h.3M60.2 194.1h.3M67.8 219.8h.3M58.3 228.6h.3M67.8 225.9h.3M49.2 222.8h.3M78.3 191.8h.3M59.9 201.8h.3M49.2 206h.3M62.8 199.8h.3M61.3 226.6h.3M66.5 214.4h.3M53.5 211.7h.3M69 218.3h.3M101.2 199.6h.3M52.2 200.2h.3M68.4 200.5h.3M61.9 218.5h.3M66.9 216.4h.3M46.9 219.5h.3M53.5 226h.3M69.6 194.4h.3M64.6 204.7h.3M81.4 213.9h.3M58 194.5h.3M66.7 205.1h.3M94.1 225.2h.3M57.3 226.3h.3M56 226h.3M64.6 212.6h.3M64.6 209.2h.3M73.4 226h.3M66.3 207.2h.3M57.4 216.4h.3M67.1 229.2h.3M91.4 207.2h.3M77.7 204.1h.3M37.2 211.9h.3M63.6 219.8h.3M56.2 218.3h.3M71.2 214h.3M63.3 219.2h.3M84.3 191.2h.3M74.3 200.8h.3M73.9 214.1h.3M66.9 199.9h.3M64.6 194.6h.3M68.4 196.3h.3M78 200.1h.3M70.3 209.7h.3M61.5 198.7h.3M77.8 215.1h.3M66.9 234.1h.3M64.2 210.1h.3M57.1 228.6h.3M59.3 215.7h.3M58.6 197.4h.3M37.1 208.7h.3M75.2 199.2h.3M70.7 222h.3M62.9 197h.3M75.5 229.2h.3M69.4 219.5h.3M68.7 185.7h.3M40.3 222.2h.3M62.7 232.2h.3M70.3 201.7h.3M81.1 224.8h.3M83.4 188.6h.3M79.3 215.3h.3M53.4 190.4h.3M43 218.3h.3M70.7 188.8h.3M65.3 177.8h.3M74.6 217.1h.3M63.7 241.7h.3M67.2 204.3h.3M50 222.8h.3M69.5 213.4h.3M60.6 207.8h.3M68.5 220h.3M69.6 233.4h.3M63.8 195.9h.3M68.2 219.3h.3M64.9 216.5h.3M72.6 193.5h.3M70 233h.3M59.5 237.3h.3M59.1 199.6h.3M82.4 234.6h.3M64 212.7h.3M74.9 209.9h.3M68.9 231.5h.3M59.4 215h.3M57.5 216.2h.3M66.2 231.7h.3M67.6 228.7h.3M71.1 223.6h.3M52.3 193.8h.3M59.1 191.6h.3M64.1 226.6h.3M81 200h.3M41.4 213.9h.3M69.4 198h.3M59.6 209.6h.3M69.3 195.4h.3M60.1 233.2h.3M68.6 198.8h.3M80.6 210.4h.3M68.5 209.6h.3M69.3 227.7h.3M68.7 193.5h.3M57.5 211.6h.3M70.4 209.3h.3M62.9 218.9h.3M56.9 218.1h.3M64.6 206h.3M62.7 215.1h.3M72.5 207.1h.3M64.6 218.1h.3M59.7 210.7h.3M79.6 203.5h.3M74.9 211.6h.3M77.7 216.7h.3M71.1 241.5h.3M63.9 205.6h.3M60.8 216h.3M62.2 231h.3M74.5 185h.3M66.1 189.3h.3M50.2 196.5h.3M64.6 210.5h.3M50.8 243.7h.3M66.7 217.1h.3M53 227.7h.3M52.4 209.1h.3M66.2 180h.3M64.2 181.9h.3M48.4 225.2h.3M72.5 214.4h.3M86.6 195.1h.3M50.2 226.5h.3M83.2 192h.3M58.1 226.7h.3M60.1 230.9h.3M63.2 202.1h.3M50.5 197.6h.3M78 223h.3M69.9 197.8h.3M57.5 223.2h.3M62.2 196.5h.3M49.8 222.5h.3M61.5 213.2h.3M74.4 206.4h.3M47.8 200.4h.3M60.6 215.1h.3M66.5 187.4h.3M75.5 208.4h.3M78.5 206.8h.3M60.4 220.8h.3M57.6 195.7h.3M101 228h.3M93.9 223.6h.3M91 225.1h.3M99.9 238.3h.3M100.8 232.9h.3M94.3 216.3h.3M91.9 227.5h.3M95.1 226.2h.3M92.6 225.9h.3M93.9 223.9h.3M100.5 218.3h.3M96.4 232.2h.3M95.5 221.4h.3M96.2 224.8h.3M94.8 223.4h.3M97.9 222.6h.3M98.1 231.5h.3M93.7 229.3h.3M95.4 223h.3M103.4 221.3h.3M96.5 224.2h.3M94.3 232.8h.3M102.2 227.8h.3M95 228.4h.3M91.2 225h.3M97.4 225.5h.3M91.9 228.3h.3M93.3 215.9h.3M96.1 236.7h.3M94.6 222.3h.3M92.3 223.6h.3M93.1 235h.3M92.9 228.3h.3M99.1 227.3h.3M92.5 223.5h.3M93 217.6h.3M102.1 228.1h.3M93.1 234.2h.3M100.2 221.6h.3M99.6 235.2h.3M94.5 220.2h.3M90 222.6h.3M96.6 230h.3M97.4 227h.3M98.4 231.1h.3M95.3 222.5h.3M99.2 220.8h.3M99.9 215.8h.3M91.3 219.8h.3M100 220.5h.3M58.1 227.5h.3M41.3 210.5h.3M77.9 222.9h.3M49.2 207.6h.3M64.4 188.7h.3M48.9 219.4h.3M63.8 180.4h.3M54.1 240.5h.3M52.7 235.9h.3M59 206.2h.3M63.5 217.6h.3M63.9 216.9h.3M67.5 248.6h.3M50.7 183.1h.3M43.7 200.8h.3M50.1 208.5h.3M53.1 235.1h.3M64.3 231.1h.3M56.6 209.6h.3M52.5 180.8h.3M43.9 225.4h.3M63.9 208.5h.3M44.4 188.2h.3M60.7 224.2h.3M67.5 211.1h.3M64.9 201.4h.3M46.4 198.8h.3M54.2 216.5h.3M77.6 197.3h.3M43.6 207.5h.3" stroke="#b4b4b4" stroke-width="0.66" stroke-linecap="round" fill="none"/>
</g>
<g filter="url(#soft)">
<path d="M167.3 192.7 168 192.6 168.8 193.3 170.3 195.8 171 196.3 173.3 194.1 174 194.1 174.8 194.8 176 197.9 177.6 205.4 178.4 214.4 178.1 223.4 176 236.9 175 239.9 174 241.1 173.3 241 172.5 240.1 171 237.3 170.3 237.1 168 239.7 167.3 239.6 166.5 238.6 165.3 234.7 164 227.2 163.4 216.7 163.8 206.9 165.4 197.2 166.3 194.2 167.3 192.7ZM167.1 196.4 165.6 200.9 164.5 209.9 164.4 221.2 165.4 230.2 166.2 233.9 167.3 236 168 236.1 168.8 235.2 170.3 232.1 171 232.3 173 236.9 174 237.6 174.8 236.6 175.7 233.9 176.9 225.7 177.3 215.9 176.5 205.4 175.4 200.2 174 197.8 173.2 197.9 171 201.4 170.3 200.8 168.8 197.1 168 196.2 167.3 196.2ZM204 226.4 207.1 226.4 210 227.4 211.9 228.7 213.4 230.9 213.8 233.2 213.2 235.4 211.6 237.6 209.3 239 204.8 239.7 201 238.7 198.8 237.1 195 232.6 191.5 229.4 191.4 228.7 192.8 228 198 227.6 203.5 226.4ZM201.3 229.4 198.8 230.4 198.2 231.7 199.5 233.9 201.8 236.1 204 237.1 206.3 237.2 208.5 236.5 209.8 235.4 210.6 233.9 210.7 232.4 209.3 230 206.3 228.8 201.8 229.3Z" fill="#f2f2f2" stroke="none"/>
<path d="M167.3 196.2 168.1 196.2 168.8 197.1 170.3 200.8 171 201.4 173.2 197.9 174.1 197.8 175.4 200.2 176.5 205.5 177.3 215.9 176.9 225.7 175.7 233.9 174.8 236.6 174 237.6 173 236.9 171 232.3 170.3 232.1 168.8 235.2 168 236.1 167.3 236 166.2 233.9 165.4 230.2 164.4 221.2 164.5 209.9 165.6 200.9 167.1 196.4ZM167 199.4 165.6 204.7 164.9 212.9 165.1 222.7 165.9 229.4 166.9 232.4 167.3 233.2 168 233.2 169 231.7 170.3 227.6 171 227.7 172.5 233.1 173.3 234.5 174 234.8 174.8 233.7 175.7 230.2 176.6 221.9 176.6 213.7 175.8 205.4 174.8 201.7 174 200.6 173.3 200.8 172.7 201.7 171 206.1 170.3 205.3 168.8 200.1 168 199 167.3 199ZM201.8 229.3 206.3 228.8 209.3 230 210.7 232.4 210.6 233.9 209.8 235.4 208.6 236.5 206.3 237.2 204 237.1 201.8 236.1 199.5 233.9 198.2 231.7 198.8 230.4 201.3 229.4ZM203.9 230.9 202.3 232.4 202.3 233.2 203.3 234.6 205.5 235.3 207.8 234.3 208.3 233.2 207.8 231.6 206.3 230.8 204 230.9Z" fill="#e0e0e0" stroke="none"/>
<path d="M167.3 199 168 199 168.8 200.1 170.3 205.3 171 206.1 172.7 201.7 173.3 200.8 174 200.6 174.8 201.7 175.8 205.4 176.6 213.7 176.6 221.9 175.7 230.2 174.8 233.7 174 234.8 173.3 234.5 172.5 233.1 171 227.7 170.3 227.6 169 231.7 168 233.2 167.3 233.2 166.9 232.4 165.9 229.4 165.1 222.7 164.9 212.9 165.6 204.7 167 199.4ZM167.3 201.7 166.1 205.4 165.4 212.9 165.5 221.2 166.3 227.9 167.3 230.5 168 230.5 169.1 227.9 170.3 221.6 171 221 172.4 229.4 173.3 231.8 174 232.1 175.3 228.7 176.1 221.2 176 212.9 175.2 206.2 174 203.4 173.3 203.6 172.1 206.9 171 212.9 170.3 211.2 168.8 203.1 168 201.7 167.3 201.7ZM204 230.9 206.3 230.8 207.8 231.6 208.3 233.2 207.8 234.3 205.5 235.3 203.3 234.6 202.3 233.2 202.3 232.4 203.9 230.9Z" fill="#cacaca" stroke="none"/>
<path d="M167.3 201.7 168 201.7 168.8 203.1 170.3 211.2 171 212.9 172.1 206.9 173.3 203.6 174 203.4 175.2 206.2 176 212.9 176.1 221.2 175.3 228.7 174 232.1 173.3 231.8 172.4 229.4 171 221 170.3 221.6 169.1 227.9 168 230.5 167.3 230.5 166.3 227.9 165.5 221.2 165.4 212.9 166.1 205.4 167.3 201.7ZM167.1 204.7 166 209.9 165.8 218.9 166.5 225.8 167.3 227.9 168 228 169.3 223.4 169.8 214.4 168.8 206.2 168 204.2 167.3 204.2ZM173.6 206.2 172.2 210.7 171.7 218.2 172.5 226.4 173.3 229.1 174 229.5 175.2 225.7 175.7 217.4 175.2 209.9 174 206Z" fill="#b0b0b0" stroke="none"/>
<path d="M167.3 204.2 168 204.2 168.8 206.2 169.8 214.4 169.3 223.4 168 228 167.3 227.9 166.5 225.8 165.8 218.9 166 209.9 167.1 204.7ZM167.3 206.9 166.4 211.4 166.2 218.2 167 224.2 167.3 225.3 168 225.3 169.1 220.4 169.2 213.7 168.5 208.4 168 206.8 167.3 206.8ZM174 206 175.2 209.9 175.7 217.4 175.2 225.7 174 229.5 173.3 229.1 172.5 226.4 171.7 218.2 172.2 210.7 173.6 206.2ZM173.3 209.2 172.5 213.7 172.3 219.7 173.1 225.7 174 226.9 175 222.7 175.2 215.2 174.5 209.9 174 208.7 173.3 209.2Z" fill="#929292" stroke="none"/>
<path d="M167.3 206.8 168 206.8 168.5 208.4 169.2 213.7 169.1 220.4 168 225.3 167.3 225.3 167 224.2 166.2 218.2 166.4 211.4 167.3 206.9ZM167.2 210.7 166.8 218.2 167.3 221.8 168 221.8 168.6 214.4 168 210.3 167.3 210.3ZM173.3 209.2 174 208.7 174.5 209.9 175.2 215.2 175 222.7 174 226.9 173.1 225.7 172.3 219.7 172.5 213.7 173.3 209.2ZM173.5 212.9 173 219.7 173.3 222.3 174 223.3 174.7 217.4 174 212.3Z" fill="#747474" stroke="none"/>
<path d="M167.3 210.3 168 210.3 168.6 214.4 168 221.8 167.3 221.8 166.8 218.2 167.2 210.7ZM174 212.3 174.7 217.4 174 223.3 173.3 222.3 173 219.7 173.5 212.9Z" fill="#a8a8a8" stroke="none"/>
<path d="M167.3 192.7 168 192.6 168.8 193.3 170.3 195.8 171 196.3 173.3 194.1 174 194.1 174.8 194.8 176 197.9 177.6 205.4 178.4 214.4 178.1 223.4 176 236.9 175 239.9 174 241.1 173.3 241 172.5 240.1 171 237.3 170.3 237.1 168 239.7 167.3 239.6 166.5 238.6 165.3 234.7 164 227.2 163.4 216.7 163.8 206.9 165.4 197.2 166.3 194.2 167.3 192.7ZM204 226.4 207.1 226.4 210 227.4 211.9 228.7 213.4 230.9 213.8 233.2 213.2 235.4 211.6 237.6 209.3 239 204.8 239.7 201 238.7 198.8 237.1 195 232.6 191.5 229.4 191.4 228.7 192.8 228 198 227.6 203.5 226.4Z" fill="none" stroke="#3c3c3c" stroke-width="0.3" stroke-opacity="0.8"/>
<path d="M167.3 196.2 168.1 196.2 168.8 197.1 170.3 200.8 171 201.4 173.2 197.9 174.1 197.8 175.4 200.2 176.5 205.5 177.3 215.9 176.9 225.7 175.7 233.9 174.8 236.6 174 237.6 173 236.9 171 232.3 170.3 232.1 168.8 235.2 168 236.1 167.3 236 166.2 233.9 165.4 230.2 164.4 221.2 164.5 209.9 165.6 200.9 167.1 196.4ZM201.8 229.3 206.3 228.8 209.3 230 210.7 232.4 210.6 233.9 209.8 235.4 208.6 236.5 206.3 237.2 204 237.1 201.8 236.1 199.5 233.9 198.2 231.7 198.8 230.4 201.3 229.4Z" fill="none" stroke="#3c3c3c" stroke-width="0.3" stroke-opacity="0.8"/>
<path d="M167.3 199 168 199 168.8 200.1 170.3 205.3 171 206.1 172.7 201.7 173.3 200.8 174 200.6 174.8 201.7 175.8 205.4 176.6 213.7 176.6 221.9 175.7 230.2 174.8 233.7 174 234.8 173.3 234.5 172.5 233.1 171 227.7 170.3 227.6 169 231.7 168 233.2 167.3 233.2 166.9 232.4 165.9 229.4 165.1 222.7 164.9 212.9 165.6 204.7 167 199.4ZM204 230.9 206.3 230.8 207.8 231.6 208.3 233.2 207.8 234.3 205.5 235.3 203.3 234.6 202.3 233.2 202.3 232.4 203.9 230.9Z" fill="none" stroke="#3c3c3c" stroke-width="0.3" stroke-opacity="0.8"/>
<path d="M167.3 201.7 168 201.7 168.8 203.1 170.3 211.2 171 212.9 172.1 206.9 173.3 203.6 174 203.4 175.2 206.2 176 212.9 176.1 221.2 175.3 228.7 174 232.1 173.3 231.8 172.4 229.4 171 221 170.3 221.6 169.1 227.9 168 230.5 167.3 230.5 166.3 227.9 165.5 221.2 165.4 212.9 166.1 205.4 167.3 201.7Z" fill="none" stroke="#3c3c3c" stroke-width="0.3" stroke-opacity="0.8"/>
<path d="M167.3 204.2 168 204.2 168.8 206.2 169.8 214.4 169.3 223.4 168 228 167.3 227.9 166.5 225.8 165.8 218.9 166 209.9 167.1 204.7ZM174 206 175.2 209.9 175.7 217.4 175.2 225.7 174 229.5 173.3 229.1 172.5 226.4 171.7 218.2 172.2 210.7 173.6 206.2Z" fill="none" stroke="#3c3c3c" stroke-width="0.3" stroke-opacity="0.8"/>
<path d="M167.3 206.8 168 206.8 168.5 208.4 169.2 213.7 169.1 220.4 168 225.3 167.3 225.3 167 224.2 166.2 218.2 166.4 211.4 167.3 206.9ZM173.3 209.2 174 208.7 174.5 209.9 175.2 215.2 175 222.7 174 226.9 173.1 225.7 172.3 219.7 172.5 213.7 173.3 209.2Z" fill="none" stroke="#3c3c3c" stroke-width="0.3" stroke-opacity="0.8"/>
<path d="M167.3 210.3 168 210.3 168.6 214.4 168 221.8 167.3 221.8 166.8 218.2 167.2 210.7ZM174 212.3 174.7 217.4 174 223.3 173.3 222.3 173 219.7 173.5 212.9Z" fill="none" stroke="#3c3c3c" stroke-width="0.3" stroke-opacity="0.8"/>
<path d="M170 198.9h.3M174.4 207.8h.3M173.1 236.9h.3M173 216.5h.3M176.8 211h.3M164.9 203.4h.3M167.4 224.7h.3M164.5 225.6h.3M169.5 220.9h.3M174.2 213.5h.3M169.9 221.5h.3M172.1 222.4h.3M162 210.2h.3M170.6 225.2h.3M166.2 193.7h.3M177.5 203.2h.3M173.7 214.5h.3M174 216.8h.3M169.8 204.6h.3M172.6 221.8h.3M172.8 230.1h.3M168.6 223.2h.3M167.9 220.6h.3M169.5 227.5h.3M167.5 222.7h.3M167.5 204.9h.3M168.8 215.7h.3M166.9 232.9h.3M173.2 204.9h.3M163.3 218.7h.3M173.5 213.5h.3M167.4 207.7h.3M167.7 206.4h.3M164.3 219.2h.3M169.4 221.6h.3M169 221.6h.3M170.8 201.4h.3M167.8 214.7h.3M170.4 222h.3M177.6 228.9h.3M171.7 225.7h.3M167.6 227.6h.3M174 230.6h.3M169.5 227.5h.3M172.5 208.6h.3M172.6 218.7h.3M168.4 209.8h.3M161.9 190.6h.3M168.5 198.7h.3M172.3 242h.3M168.4 205.2h.3M171.8 192.2h.3M174.1 211.3h.3M167.7 235.5h.3M175.2 217.5h.3M176.8 222.7h.3M174.5 214.9h.3M174.9 217h.3M174.6 232.6h.3M179.5 227.2h.3M170.8 217h.3M170 228.3h.3M172.5 230.4h.3M166.2 215.5h.3M163.5 221.1h.3M166.3 220.9h.3M171.6 210.3h.3M172 231.2h.3M163.5 216.1h.3M162.1 210.9h.3M168.7 198.7h.3M169.2 203.4h.3M169.8 235.5h.3M172.8 204.9h.3M175.2 222.9h.3M171 213.8h.3M172.6 223.9h.3M165.4 224.9h.3M165.1 209.1h.3M171 214.6h.3M172.8 219.1h.3M173.1 219.3h.3M172.5 217.7h.3M173.3 214.4h.3M173.4 225.2h.3M162.6 233.1h.3M166.9 224.2h.3M171.9 209.5h.3M172.5 222.6h.3M163.6 218.7h.3M174.9 223.3h.3M168.2 239.2h.3M169 215.5h.3M171.2 217.9h.3M173.1 207.8h.3M164 214.7h.3M174.2 211.5h.3M170.3 236.4h.3M166.8 221.5h.3M168.8 211.4h.3M160.8 240.2h.3M167.3 202.7h.3M170.8 227.9h.3M167 229.7h.3M168.6 224.6h.3M169.4 215h.3M170.2 216.5h.3M174.3 214.1h.3M169.9 227h.3M168.9 191.2h.3M172.3 212.1h.3M178.7 219.7h.3M168.6 211.3h.3M172.2 197.1h.3M163.4 215.2h.3M175.7 209.3h.3M172.8 227.2h.3M175.6 234.1h.3M169.8 218.8h.3M165.6 195.8h.3M173.7 215.7h.3M173.2 207.4h.3M166.4 225.8h.3M163.8 237.5h.3M171.9 221.7h.3M169.3 241.4h.3M181 235.4h.3M167.4 226h.3M167.8 208.1h.3M169.5 220.4h.3M194.3 239.5h.3M214.2 227.4h.3M206.9 237.2h.3M217 237.1h.3M208.4 228.1h.3M190.6 229.1h.3M211.3 232.9h.3M213.6 218.8h.3M219.5 229.4h.3M198.4 233.2h.3M198.8 229.4h.3M206.7 222.5h.3M197.7 229.7h.3M195.1 241.2h.3M197.4 240h.3M226.8 231.3h.3M201 227.2h.3M197.9 231.9h.3M202.3 232.1h.3M205.9 228h.3M216.2 230h.3M213.4 235.8h.3M212.1 237.6h.3M206.2 217.4h.3M207.1 237.9h.3M200.7 232.8h.3M193.8 238.9h.3M222.1 231.9h.3M202.1 234.7h.3M213.9 241.9h.3M203.3 214.2h.3M205.1 241.6h.3M204.5 233.2h.3M194.7 221.1h.3M205.1 216h.3M208.8 233.9h.3M212.4 225.8h.3M209.7 238h.3M213.9 233.3h.3M208.1 231.2h.3M205.7 238h.3M190 233.2h.3M201.4 236.5h.3M218.1 237h.3M206.7 233.9h.3M212.1 236.8h.3M204 236.7h.3M200.3 223.8h.3M222.1 230.4h.3M208.5 231.3h.3M217.6 229.7h.3M209.9 222.5h.3M203.3 228.6h.3M187.7 234h.3M206.4 233.2h.3M193.1 241.2h.3M187.9 228.4h.3M215.6 229.4h.3M211.4 228.6h.3M210.8 230.1h.3M206 228.4h.3M205.4 220.8h.3M209 234.1h.3M206.9 237.9h.3M206.2 238.7h.3M211.6 225.5h.3M186 230.8h.3M212.8 243.1h.3M200.5 231.4h.3M212.4 234.1h.3M191.7 244.5h.3M209.8 228.7h.3M218 243h.3M209.9 220.3h.3M198.7 229.3h.3M217.3 228.3h.3M225.2 231.1h.3M197.6 224.9h.3M190.6 227.4h.3M202.6 249.1h.3M203.2 220.6h.3M202.5 233.9h.3M225.8 247h.3M196.1 232.8h.3M188.4 232.3h.3M186.6 234.7h.3M206.3 222.3h.3M197.3 224.4h.3M206.5 240.4h.3M215.1 237.1h.3M199.5 225.3h.3M191.4 233.4h.3M224.3 249.6h.3M193.8 224.5h.3M199.1 243.6h.3M186.9 248h.3M211.7 235.3h.3M196 223.2h.3M217.4 233.1h.3M204 243.1h.3M213.1 204.8h.3M219.5 209.4h.3M207.6 194.3h.3M190.2 199.2h.3M191.1 206h.3M217.9 203.1h.3M208.8 194.2h.3M221.8 198.1h.3M219.6 193.4h.3M212.5 210.9h.3" stroke="#8e8e8e" stroke-width="0.66" stroke-linecap="round" fill="none"/>
</g>
<g filter="url(#soft)">
<path d="M283.4 228.7 288.7 228.4 298.4 229.6 311.9 229.7 317.9 230.4 320.9 231.4 322.6 232.4 323.8 233.9 324 235.4 323.1 236.9 321.7 238.2 316.4 239.8 310.4 240.3 299.2 239.9 287.9 240.9 282.7 240.6 278.9 239.8 273 236.9 271.4 235.4 271.4 233.9 273.7 232 278.2 229.7 283.3 228.7ZM281.6 229.4 276.7 231.1 274.5 233.2 274 234.7 274.6 236.2 276.7 238.1 280.4 239.6 283.4 240.1 290.9 240.2 299.2 238.2 307.4 239.5 314.2 239.4 320.2 238.1 322.4 236.8 323.3 235.4 323 233.9 321.7 232.6 318.7 231.3 315.7 230.7 308.2 230.4 299.9 231.4 290.9 229.1 285.7 228.9 281.9 229.4ZM311.2 233.9 316.4 233.8 319.4 234.7 319.3 235.4 316.8 236.2 311.2 236.3 309.6 235.4 310.8 233.9Z" fill="#f2f2f2" stroke="none"/>
<path d="M281.9 229.4 285.7 228.9 290.9 229.1 299.9 231.4 308.2 230.4 315.7 230.7 318.7 231.3 321.7 232.6 323 233.9 323.3 235.4 322.4 236.8 320.2 238.1 314.2 239.4 307.4 239.5 299.2 238.2 290.9 240.2 283.4 240.1 280.4 239.6 276.7 238.1 274.6 236.2 274 234.7 274.5 233.2 276.7 231.1 281.6 229.4ZM284.3 229.4 280.4 230.1 276.7 231.7 274.9 233.9 275.3 236.2 277.4 238.1 279.7 239 283.4 239.7 287.9 239.9 294.7 239 299.2 237.1 305.9 238.8 315.7 238.7 320.9 237.1 322.8 235.4 322.5 233.9 321.7 233.3 316.4 231.4 308.2 231 299.4 232.4 296.2 230.7 293.2 229.8 284.9 229.4ZM307.4 233.2 311.9 232.8 316.4 233 319.4 233.8 320.3 234.7 320.3 235.4 318.7 236.5 312.7 237.3 307.7 236.9 303.3 235.4 303.2 234.7 303.7 234.5 307.2 233.2ZM310.8 233.9 309.6 235.4 311.2 236.3 316.8 236.2 319.3 235.4 319.4 234.7 316.4 233.8 311.2 233.9Z" fill="#e0e0e0" stroke="none"/>
<path d="M284.9 229.4 293.2 229.8 296.2 230.7 299.4 232.4 308.2 231 316.4 231.4 321.7 233.3 322.5 233.9 322.8 235.4 320.9 237.1 315.7 238.7 305.9 238.8 299.2 237.1 294.7 239 287.9 239.9 283.4 239.7 279.7 239 277.4 238.1 275.3 236.2 274.9 233.9 276.7 231.7 280.4 230.1 284.3 229.4ZM281.6 230.2 277.4 231.7 275.4 233.9 275.5 235.4 276.5 236.9 279.7 238.5 284.9 239.5 290.9 239.3 296.2 238.1 299.2 236.2 303.6 237.7 305.6 237.7 302.9 236.5 301.8 235.4 301.8 234.7 302.9 233.6 305.9 232.4 302.9 232.3 299.2 233.3 296.2 231.2 292.4 230.1 287.2 229.7 281.9 230.1ZM307.2 233.2 303.7 234.5 303.2 234.7 303.3 235.4 307.7 236.9 312.7 237.3 318.7 236.5 320.3 235.4 320.3 234.7 319.4 233.8 316.4 233 311.9 232.8 307.4 233.2ZM321.2 234.7 321.7 235.8 322.1 234.7 321.7 234.2Z" fill="#cacaca" stroke="none"/>
<path d="M281.9 230.1 287.2 229.7 292.4 230.1 296.2 231.2 299.2 233.3 302.9 232.3 305.9 232.4 302.9 233.6 301.8 234.7 301.8 235.4 302.9 236.5 305.6 237.7 303.6 237.7 299.2 236.2 296.2 238.1 290.9 239.3 284.9 239.5 279.7 238.5 276.5 236.9 275.5 235.4 275.4 233.9 277.4 231.7 281.6 230.2ZM284.3 230.2 280.1 230.9 277 232.4 275.9 233.9 276.4 236.2 278.6 237.7 281.2 238.5 288.7 239.1 294.7 238.2 297.6 236.7 299.2 234.9 300.7 235.3 300.7 234.5 299.2 234.5 297.7 232.6 294.7 231.1 290.1 230.2 284.9 230.1ZM284.2 232.4 288.1 232.5 292.4 233.2 294.4 233.9 294.8 234.7 293.9 235.5 291.3 236.2 285.7 236.7 280.8 236.2 279 235.4 278.5 234.7 278.9 233.8 280.1 233.2 283.9 232.4ZM286.4 233.9 285.3 234.7 287.2 235.4 288.7 235.4 290.4 234.7 289.4 233.9 286.4 233.9ZM321.7 234.2 322.1 234.7 321.7 235.8 321.2 234.7Z" fill="#b0b0b0" stroke="none"/>
<path d="M284.9 230.1 290.1 230.2 294.7 231.1 297.7 232.6 299.2 234.5 300.7 234.5 300.7 235.3 299.2 234.9 297.7 236.7 294.7 238.2 288.7 239.1 281.2 238.5 278.6 237.7 276.4 236.2 275.9 233.9 277 232.4 280.1 230.9 284.3 230.2ZM282.8 230.9 279.5 231.7 277.4 232.8 276.4 233.9 276.7 235.7 278.1 236.9 280.4 237.8 284.2 238.5 290.2 238.5 296.2 237.1 297.7 236.2 298.6 234.7 297.7 233.1 294.7 231.6 290.9 230.8 283.4 230.9ZM283.4 231.5 287.9 231.4 292.4 232.2 294.7 233.1 295.6 234.7 295.4 235.4 293.9 236.4 287.9 237.6 281.2 237.2 278.2 235.6 277.9 233.9 278.9 232.9 283.1 231.7ZM283.9 232.4 280.1 233.2 278.9 233.8 278.5 234.7 279 235.4 280.8 236.2 285.7 236.7 291.3 236.2 293.9 235.5 294.8 234.7 294.4 233.9 292.4 233.2 288.1 232.4 284.2 232.4ZM286.4 233.9 289.4 233.9 290.4 234.7 288.7 235.4 287.2 235.4 285.3 234.7 286.4 233.9Z" fill="#929292" stroke="none"/>
<path d="M283.4 230.9 290.9 230.8 294.7 231.6 297.7 233.1 298.6 234.7 297.7 236.2 296.2 237.1 290.2 238.5 284.2 238.5 280.4 237.8 278.1 236.9 276.6 235.7 276.4 233.9 277.4 232.8 279.5 231.7 282.8 230.9ZM283.1 231.7 278.9 232.9 277.9 233.9 278.2 235.6 281.2 237.2 287.9 237.6 293.9 236.4 295.4 235.4 295.6 234.7 294.7 233.1 292.4 232.2 287.9 231.4 283.4 231.5ZM296.3 233.9 296.3 235.4 296.9 236 298 234.7 296.9 233.2Z" fill="#747474" stroke="none"/>
<path d="M296.9 233.2 298 234.7 296.9 236 296.3 235.4 296.3 233.9Z" fill="#a8a8a8" stroke="none"/>
<path d="M283.4 228.7 288.7 228.4 298.4 229.6 311.9 229.7 317.9 230.4 320.9 231.4 322.6 232.4 323.8 233.9 324 235.4 323.1 236.9 321.7 238.2 316.4 239.8 310.4 240.3 299.2 239.9 287.9 240.9 282.7 240.6 278.9 239.8 273 236.9 271.4 235.4 271.4 233.9 273.7 232 278.2 229.7 283.3 228.7Z" fill="none" stroke="#3c3c3c" stroke-width="0.3" stroke-opacity="0.8"/>
<path d="M281.9 229.4 285.7 228.9 290.9 229.1 299.9 231.4 308.2 230.4 315.7 230.7 318.7 231.3 321.7 232.6 323 233.9 323.3 235.4 322.4 236.8 320.2 238.1 314.2 239.4 307.4 239.5 299.2 238.2 290.9 240.2 283.4 240.1 280.4 239.6 276.7 238.1 274.6 236.2 274 234.7 274.5 233.2 276.7 231.1 281.6 229.4ZM311.2 233.9 309.9 234.7 309.6 235.4 310.6 236.2 316.8 236.2 319.3 235.4 319.4 235 317.2 233.9 311.9 233.8Z" fill="none" stroke="#3c3c3c" stroke-width="0.3" stroke-opacity="0.8"/>
<path d="M284.9 229.4 293.2 229.8 296.2 230.7 299.4 232.4 308.2 231 316.4 231.4 321.7 233.3 322.5 233.9 322.8 235.4 320.9 237.1 315.7 238.7 305.9 238.8 299.2 237.1 294.7 239 287.9 239.9 283.4 239.7 279.7 239 277.4 238.1 275.3 236.2 274.9 233.9 276.7 231.7 280.4 230.1 284.3 229.4ZM307.4 233.2 304.6 233.9 303.2 234.7 303.3 235.4 307.7 236.9 312.7 237.3 318.7 236.5 320.3 235.4 320.3 234.7 319.4 233.8 316.4 233 311.9 232.8 307.4 233.2" fill="none" stroke="#3c3c3c" stroke-width="0.3" stroke-opacity="0.8"/>
<path d="M281.9 230.1 287.2 229.7 292.4 230.1 296.2 231.2 299.2 233.3 302.9 232.3 305.9 232.4 302.9 233.6 301.8 234.7 301.8 235.4 302.9 236.5 305.6 237.7 303.6 237.7 299.2 236.2 296.2 238.1 290.9 239.3 284.9 239.5 279.7 238.5 276.5 236.9 275.5 235.4 275.4 233.9 277.4 231.7 281.6 230.2ZM321.7 234.2 322.1 234.7 321.7 235.8 321.2 234.7Z" fill="none" stroke="#3c3c3c" stroke-width="0.3" stroke-opacity="0.8"/>
<path d="M284.9 230.1 290.1 230.2 294.7 231.1 297.7 232.6 299.2 234.5 300.7 234.5 300.7 235.3 299.2 234.9 297.7 236.7 294.7 238.2 288.7 239.1 281.2 238.5 278.6 237.7 276.4 236.2 275.9 233.9 277 232.4 280.1 230.9 284.3 230.2ZM284.2 232.4 280.1 233.2 278.9 233.8 278.5 234.7 279 235.4 280.8 236.2 285.7 236.7 291.3 236.2 293.9 235.5 294.8 234.7 294.4 233.9 292.5 233.2 284.9 232.4ZM286.4 233.9 289.4 233.9 290.4 234.7 288.7 235.4 287.2 235.4 285.3 234.7 286.4 233.9Z" fill="none" stroke="#3c3c3c" stroke-width="0.3" stroke-opacity="0.8"/>
<path d="M283.4 230.9 290.9 230.8 294.7 231.6 297.7 233.1 298.6 234.7 297.7 236.2 296.2 237.1 290.2 238.5 284.2 238.5 280.4 237.8 278.1 236.9 276.6 235.7 276.4 233.9 277.4 232.8 279.5 231.7 282.8 230.9ZM283.4 231.5 278.9 232.9 277.9 233.9 278.2 235.6 281.2 237.2 287.9 237.6 293.9 236.4 295.4 235.4 295.6 234.7 294.7 233.1 292.4 232.2 287.9 231.4 283.4 231.5" fill="none" stroke="#3c3c3c" stroke-width="0.3" stroke-opacity="0.8"/>
<path d="M296.9 233.2 298 234.7 296.9 236 296.3 235.4 296.3 233.9Z" fill="none" stroke="#3c3c3c" stroke-width="0.3" stroke-opacity="0.8"/>
<path d="M324.6 227.7h.3M312.4 237.8h.3M300 235.2h.3M317.5 234.1h.3M304.4 232.3h.3M324.6 237.8h.3M299.4 234.2h.3M291.8 236.3h.3M307.1 230.4h.3M305 236h.3M294 241.2h.3M295.5 233.9h.3M309.1 237.4h.3M308.9 234.9h.3M292.1 238.3h.3M293.9 238.2h.3M273.7 235h.3M322.5 233h.3M295.9 235.7h.3M317.7 234.9h.3M304.8 232.8h.3M326.2 236.3h.3M320.5 236.2h.3M303.5 232h.3M319.7 234.4h.3M285.7 244.1h.3M316.6 237.4h.3M278.3 235.1h.3M303.8 242.8h.3M313.9 233.3h.3M302.1 226.9h.3M293.9 228.7h.3M287.7 229.9h.3M294.2 235.6h.3M313.7 237.9h.3M311.5 227.9h.3M295.3 238.4h.3M281.6 230.9h.3M308.4 235.6h.3M278.7 236.3h.3M291.6 236.2h.3M288.7 234.8h.3M309.4 235.3h.3M302.3 231.2h.3M305.5 235.7h.3M302.8 237.9h.3M289.5 237.8h.3M306.5 243.2h.3M318.8 238.3h.3M298.5 237.1h.3M307.9 240.1h.3M297.2 235.6h.3M313.4 230.7h.3M308.3 227.6h.3M311.3 238.9h.3M303.9 236.6h.3M322 237.5h.3M293.9 233.7h.3M294.3 235.9h.3M290.7 240.8h.3M307.6 235.9h.3M290.3 231.2h.3M290 233.4h.3M309.2 239.2h.3M315.3 231.3h.3M307 226.5h.3M285.6 230.5h.3M284 237.4h.3M282.1 235.1h.3M293.3 232.4h.3M324.4 230.7h.3M294.7 234.4h.3M288.7 234.3h.3M308.8 233h.3M300 234h.3M300.7 232.4h.3M289.4 240.6h.3M299 227.2h.3M305.1 235.2h.3M272.2 231.6h.3M276.5 237.1h.3M314.2 234h.3M310.8 236h.3M291.9 236.5h.3M284.7 235.5h.3M296.4 238h.3M282.3 230.3h.3M294.2 237.8h.3M322.1 234.1h.3M300.8 236h.3M315.3 239.8h.3M295.9 238.4h.3M304.2 241.1h.3M318.4 227.6h.3M280.3 231.7h.3M294.1 237.9h.3M296.8 231.2h.3M302.9 234.2h.3M320.8 240.3h.3M308.6 237.6h.3M278 231.7h.3M295.2 236.3h.3M286.5 236.9h.3M286.1 235h.3M327.3 234.5h.3M284.1 235.3h.3M302.3 230h.3M289 235.2h.3M311.1 231.7h.3M304 236.1h.3M300.8 236.2h.3M297.9 231.9h.3M314.9 236.8h.3M286 235.9h.3M288.8 234.7h.3M283.4 237.1h.3M317.7 233.8h.3M294.9 233.9h.3M284.5 235h.3M293.1 234.6h.3M334 238.5h.3M297.5 227.2h.3M310.9 233.8h.3M305.5 228.4h.3M298.8 233.1h.3M289.3 235.5h.3M294.3 234.7h.3M294 237.8h.3M310.9 211.4h.3M321 200.8h.3M303 224h.3M302.7 209.8h.3M302.3 216.6h.3M312.7 200.9h.3M305.3 222.6h.3M309 217.5h.3M312.3 205.1h.3M313.2 223.3h.3M309.8 222.6h.3M303.5 210.9h.3M320.4 205.8h.3M321.6 221.1h.3M314.1 198.1h.3M307.2 224.6h.3M325 225h.3M303 200.3h.3M322 224.4h.3M315.7 205.9h.3M306.5 220.8h.3M314.8 222.2h.3M313.8 203h.3M300.2 207.6h.3M311.6 224.8h.3M319.4 220h.3M315.9 217.7h.3M303.2 204.6h.3M305.3 218.5h.3M317.4 199.1h.3M300.7 205.4h.3M317.3 205h.3M313.4 199.6h.3M309.6 211.1h.3M310.5 198.9h.3M339.8 236.9h.3M334.9 230.5h.3M337.7 240.8h.3M335.3 236.9h.3M331.2 228.4h.3M334.5 234h.3M330.1 240.5h.3M333 231.6h.3" stroke="#8e8e8e" stroke-width="0.66" stroke-linecap="round" fill="none"/>
</g>
<g filter="url(#soft)">
<path d="M434.9 203 438.7 202.6 440.6 203.9 440.9 206.2 438.7 208.9 434.2 211.7 423 217.2 415.5 220.1 408 222.1 404.2 224.5 401 225.7 400.9 226.4 402.3 228.7 402.5 230.9 401.3 233.2 399.7 234.5 398.2 235.1 396 235.1 393.7 234.2 392.7 233.2 391.8 231.7 391.7 229.4 392.8 227.2 394.5 225.7 394.8 224.9 391.5 221.9 390.7 218.9 391.6 215.9 393.7 213.9 396.7 212.6 399.7 212.3 403.5 213.1 406.5 214.7 408.7 214.7 419.2 209.4 434.4 203.2ZM435.5 203.9 408 217.2 407.2 217.3 404.2 214.5 401.2 213.2 397.5 213.1 394.5 214.2 392.6 215.9 391.8 217.4 391.7 220.4 393.7 223.3 397 224.9 396.8 225.7 394.5 226.5 392.5 228.7 392.2 230.9 392.8 232.4 393.7 233.5 396 234.5 398.2 234.5 399.7 233.9 401.7 231.7 401.9 229.4 400.5 227.1 398 225.7 403.5 224 407.2 220.2 411 219.8 417.7 217.6 435.7 209.7 438.6 207.7 439.7 205.4 438.7 203.9 435.7 203.9Z" fill="#f2f2f2" stroke="none"/>
<path d="M435.7 203.9 438.7 203.9 439.7 205.4 438.6 207.7 435.7 209.7 417.7 217.6 411 219.8 407.2 220.2 403.5 224 398 225.7 400.5 227.1 401.9 229.4 401.7 231.7 399.7 233.9 398.2 234.5 396 234.5 393.7 233.5 392.8 232.4 392.2 230.9 392.5 228.7 394.5 226.5 396.8 225.7 397 224.9 393.7 223.3 391.7 220.4 391.8 217.4 392.6 215.9 394.5 214.2 397.5 213.1 401.2 213.2 404.2 214.5 407.2 217.3 408 217.2 435.5 203.9ZM434 205.4 418.8 213.7 416.1 215.9 419.9 215.2 432.7 210.2 436.5 208.2 438.3 206.2 438.2 205.4 437.2 204.7 434.2 205.3ZM397.2 213.7 394.5 214.8 392.7 216.7 392.1 218.9 392.6 221.2 394.5 223.2 397.5 224.5 399.7 224.6 402.7 223.8 404.3 222.7 406 220.4 406.4 218.9 406 217.4 404.2 215.2 402.7 214.3 399.7 213.5 397.5 213.6ZM396.2 226.4 393.5 227.9 392.7 229.4 392.7 230.9 393.4 232.4 394.5 233.4 396.7 234.1 398.2 234 400.7 232.4 401.4 230.9 401.4 229.4 399.7 227.2 396.7 226.3ZM396.7 229.8 397.7 230.2 397.5 230.8 396.7 230.9 396.3 230.2Z" fill="#e0e0e0" stroke="none"/>
<path d="M434.2 205.3 437.2 204.7 438.2 205.4 438.3 206.2 436.5 208.2 432.7 210.2 419.9 215.2 416.1 215.9 418.8 213.7 434 205.4ZM433.6 206.9 430.5 209.2 433.6 208.4 435.4 206.9 434.2 206.8ZM397.5 213.6 399.7 213.5 402.7 214.3 404.2 215.2 406 217.4 406.4 218.9 406 220.4 404.3 222.7 402.7 223.8 399.7 224.6 397.5 224.5 394.5 223.2 392.6 221.2 392.1 218.9 392.7 216.7 394.5 214.8 397.2 213.7ZM396.2 214.4 393.9 215.9 392.7 218.2 392.8 220.4 393.8 221.9 396 223.5 399 224.1 402 223.6 404.2 222.1 405.4 220.4 405.7 218.9 405.4 217.4 404.3 215.9 401.2 214.2 399 213.9 396.7 214.2ZM396.7 226.3 399.7 227.2 401.4 229.4 401.4 230.9 400.7 232.4 398.2 234 396.7 234.1 394.5 233.4 393.4 232.4 392.7 230.9 392.7 229.4 393.5 227.9 396.2 226.4ZM395.6 227.2 393.7 228.7 393.2 230.2 393.6 231.7 394.5 232.7 396 233.4 399 233.1 400.9 230.9 400.5 228.7 398.2 227.1 396 227.1ZM396 229.3 397.5 229 398.2 229.4 398.5 230.2 398.2 231.1 397.5 231.6 396 231.3 395.4 230.2 395.8 229.4ZM396.3 230.2 396.7 230.9 397.5 230.8 397.7 230.2 396.7 229.8Z" fill="#cacaca" stroke="none"/>
<path d="M434.2 206.8 435.4 206.9 433.6 208.4 430.5 209.2 433.6 206.9ZM396.7 214.2 399 213.9 401.2 214.2 404.3 215.9 405.4 217.4 405.7 218.9 405.4 220.4 404.2 222.1 402 223.6 399 224.1 396 223.5 393.8 221.9 392.8 220.4 392.7 218.2 393.9 215.9 396.2 214.4ZM397.8 214.4 395.6 215.2 393.8 216.7 393.1 218.2 393.3 220.4 394.5 222 396.7 223.3 399.7 223.7 402 223.1 403.7 221.9 404.9 220.4 405.2 218.9 404.8 217.4 403.6 215.9 402 214.9 398.2 214.4ZM396 227.1 398.2 227.1 400.5 228.7 400.9 230.9 399 233.1 396 233.4 394.5 232.7 393.6 231.7 393.2 230.2 393.7 228.7 395.6 227.2ZM395.8 229.4 395.4 230.2 396 231.3 397.5 231.6 398.2 231.1 398.5 230.2 398.2 229.4 397.5 229 396 229.3ZM399.3 229.4 399.7 231.5 400.2 230.2 399.7 229.1Z" fill="#b0b0b0" stroke="none"/>
<path d="M398.2 214.4 402 214.9 403.6 215.9 404.8 217.4 405.2 218.9 404.9 220.4 403.7 221.9 402 223.1 399.7 223.7 396.7 223.3 394.5 222 393.3 220.4 393.1 218.2 393.8 216.7 395.6 215.2 397.8 214.4ZM396.6 215.2 394.5 216.6 393.6 218.2 393.7 220.1 395.1 221.9 397.5 223 399.7 223.2 402 222.6 403.8 221.2 404.8 218.9 403.5 216.4 400.5 214.9 396.7 215.2ZM397.5 217.9 399 217.5 400.5 217.9 401.2 219.2 400.5 220.1 398.2 220.4 396.9 219.7 396.6 218.9 397 218.2ZM399.7 229.1 400.2 230.2 399.7 231.5 399.3 229.4Z" fill="#929292" stroke="none"/>
<path d="M396.7 215.2 400.5 214.9 403.5 216.4 404.8 218.9 403.8 221.2 402 222.6 399.7 223.2 397.5 223 395.1 221.9 393.7 220.1 393.6 218.2 394.5 216.6 396.6 215.2ZM396.7 216 395.2 216.9 394.3 218.2 394.3 219.7 395.3 221.2 396.7 222 399.7 222.3 401.6 221.9 403.5 220.7 404.2 218.9 402.8 216.7 400.5 215.8 397.5 215.8ZM398.2 216.5 400.5 216.8 402 218 402.1 219.7 401.2 220.9 398.2 221.5 396.2 220.4 395.6 219.7 395.7 218.2 396.7 217 397.7 216.7ZM397 218.2 396.6 218.9 396.9 219.7 398.2 220.4 400.5 220.1 401.2 219.2 400.5 217.9 399 217.5 397.5 217.9Z" fill="#747474" stroke="none"/>
<path d="M397.5 215.8 400.5 215.8 402.8 216.7 404.2 218.9 403.5 220.7 401.6 221.9 399.7 222.3 396.7 222 395.3 221.2 394.3 219.7 394.3 218.2 395.2 216.9 396.7 215.9ZM397.7 216.7 396.7 217 395.7 218.2 395.6 219.7 396.2 220.4 398.2 221.5 401.2 220.9 402.1 219.7 402 218 400.5 216.8 398.2 216.5Z" fill="#a8a8a8" stroke="none"/>
<path d="M434.9 203 438.7 202.6 440.6 203.9 440.9 206.2 438.7 208.9 434.2 211.7 423 217.2 415.5 220.1 408 222.1 404.2 224.5 401 225.7 400.9 226.4 402.3 228.7 402.5 230.9 401.3 233.2 399.7 234.5 398.2 235.1 396 235.1 393.7 234.2 392.7 233.2 391.8 231.7 391.7 229.4 392.8 227.2 394.5 225.7 394.8 224.9 391.5 221.9 390.7 218.9 391.6 215.9 393.7 213.9 396.7 212.6 399.7 212.3 403.5 213.1 406.5 214.7 408.7 214.7 419.2 209.4 434.4 203.2Z" fill="none" stroke="#3c3c3c" stroke-width="0.3" stroke-opacity="0.8"/>
<path d="M435.7 203.9 438.7 203.9 439.7 205.4 438.6 207.7 435.7 209.7 417.7 217.6 411 219.8 407.2 220.2 403.5 224 398 225.7 400.5 227.1 401.9 229.4 401.7 231.7 399.7 233.9 398.2 234.5 396 234.5 393.7 233.5 392.8 232.4 392.2 230.9 392.5 228.7 394.5 226.5 396.8 225.7 397 224.9 393.7 223.3 391.7 220.4 391.8 217.4 392.6 215.9 394.5 214.2 397.5 213.1 401.2 213.2 404.2 214.5 407.2 217.3 408 217.2 435.5 203.9Z" fill="none" stroke="#3c3c3c" stroke-width="0.3" stroke-opacity="0.8"/>
<path d="M434.2 205.3 437.2 204.7 438.2 205.4 438.3 206.2 436.5 208.2 432.7 210.2 419.9 215.2 416.1 215.9 418.8 213.7 434 205.4ZM397.5 213.6 399.7 213.5 402.7 214.3 404.2 215.2 406 217.4 406.4 218.9 406 220.4 404.3 222.7 402.7 223.8 399.7 224.6 397.5 224.5 394.5 223.2 392.6 221.2 392.1 218.9 392.7 216.7 394.5 214.8 397.2 213.7ZM396.7 226.3 399.7 227.2 401.4 229.4 401.4 230.9 400.7 232.4 398.2 234 396.7 234.1 394.5 233.4 393.4 232.4 392.7 230.9 392.7 229.4 393.5 227.9 396.2 226.4ZM396.7 229.8 396.3 230.2 396.7 230.9 397.5 230.8 397.7 230.2 396.7 229.8" fill="none" stroke="#3c3c3c" stroke-width="0.3" stroke-opacity="0.8"/>
<path d="M434.2 206.8 435.4 206.9 433.6 208.4 430.5 209.2 433.6 206.9ZM396.7 214.2 399 213.9 401.2 214.2 404.3 215.9 405.4 217.4 405.7 218.9 405.4 220.4 404.2 222.1 402 223.6 399 224.1 396 223.5 393.8 221.9 392.8 220.4 392.7 218.2 393.9 215.9 396.2 214.4ZM396 227.1 398.2 227.1 400.5 228.7 400.9 230.9 399 233.1 396 233.4 394.5 232.7 393.6 231.7 393.2 230.2 393.7 228.7 395.6 227.2ZM396 229.3 395.4 230.2 395.6 230.9 397.5 231.6 398.2 231.1 398.5 230.2 398.2 229.4 396.7 229Z" fill="none" stroke="#3c3c3c" stroke-width="0.3" stroke-opacity="0.8"/>
<path d="M398.2 214.4 402 214.9 403.6 215.9 404.8 217.4 405.2 218.9 404.9 220.4 403.7 221.9 402 223.1 399.7 223.7 396.7 223.3 394.5 222 393.3 220.4 393.1 218.2 393.8 216.7 395.6 215.2 397.8 214.4ZM399.7 229.1 400.2 230.2 399.7 231.5 399.3 229.4Z" fill="none" stroke="#3c3c3c" stroke-width="0.3" stroke-opacity="0.8"/>
<path d="M396.7 215.2 400.5 214.9 403.5 216.4 404.8 218.9 403.8 221.2 402 222.6 399.7 223.2 397.5 223 395.1 221.9 393.7 220.1 393.6 218.2 394.5 216.6 396.6 215.2ZM397.5 217.9 396.6 218.9 397.5 220.1 399.7 220.4 401 219.7 401.3 218.9 400.9 218.2 399.7 217.6 398.2 217.6Z" fill="none" stroke="#3c3c3c" stroke-width="0.3" stroke-opacity="0.8"/>
<path d="M397.5 215.8 400.5 215.8 402.8 216.7 404.2 218.9 403.5 220.7 401.6 221.9 399.7 222.3 396.7 222 395.3 221.2 394.3 219.7 394.3 218.2 395.2 216.9 396.7 215.9ZM398.2 216.5 396.7 217 395.7 218.2 396 220.2 398.2 221.5 401.2 220.9 402.1 219.7 402 218 400.5 216.8 398.2 216.5" fill="none" stroke="#3c3c3c" stroke-width="0.3" stroke-opacity="0.8"/>
<path d="M402.5 230h.3M391.6 214.2h.3M387.8 214.2h.3M379 230.2h.3M395.7 218.5h.3M406.1 216.6h.3M398.2 231.1h.3M401.3 221.4h.3M404.7 230.8h.3M392.3 219.6h.3M415.2 229.2h.3M392.3 232.2h.3M400.4 223.7h.3M415.8 238.3h.3M397.3 219.6h.3M398.7 221.2h.3M394.7 223.7h.3M400.2 231.5h.3M384.2 220.6h.3M393.8 219.3h.3M409 225.2h.3M399.4 233.6h.3M396.4 219.5h.3M400.4 212.1h.3M400.7 221.9h.3M399 228.3h.3M401.8 218.4h.3M387.2 224.1h.3M401.8 207.1h.3M393.6 223.2h.3M403.1 223.9h.3M397.9 228.3h.3M391.5 225.6h.3M397.5 229.6h.3M391.5 214.5h.3M404.6 228.6h.3M397.8 209h.3M403.5 217.9h.3M390.8 232.4h.3M408.5 230.2h.3M396 207.2h.3M406.9 228h.3M403.6 219.3h.3M390.8 216.4h.3M400.1 224.7h.3M394.5 224.1h.3M400.7 234.9h.3M407.3 210.7h.3M402.5 219.4h.3M404.9 221.8h.3M390.4 207.4h.3M399.3 233h.3M400.3 237.9h.3M405.1 217.7h.3M394 226.2h.3M401.7 220.7h.3M400.8 225.3h.3M388.1 217.3h.3M391.2 230.1h.3M400.9 213.1h.3M390.4 234.6h.3M390 226h.3M403.8 243.6h.3M399.9 209h.3M396.5 222.2h.3M398.7 212.1h.3M395.4 221.8h.3M394.5 226.7h.3M395 215.2h.3M400.5 210.8h.3M406.6 208.3h.3M394.9 224.9h.3M397.6 233.9h.3M396.6 233h.3M389.8 223.3h.3M399.6 214.8h.3M403.6 219.9h.3M392.5 210.2h.3M403.4 209.6h.3M394.3 232.1h.3M405.5 220.6h.3M405.9 225.7h.3M395.5 220.7h.3M385 234.3h.3M395.7 235.2h.3M389 216.4h.3M389.5 219.9h.3M396.4 217.3h.3M406.8 234.2h.3M397.4 233.6h.3M396.6 220.5h.3M386 242.5h.3M394.1 223.2h.3M388.9 212.7h.3M401.4 205.7h.3M394.6 221.8h.3M397.7 225.7h.3M397.9 218h.3M396.8 226.1h.3M404.2 233.2h.3M401.2 222.5h.3M395.9 230.2h.3M399 237.1h.3M401.6 227.2h.3M406.9 218.1h.3M398.8 226.7h.3M407.4 227.6h.3M394.1 241.2h.3M396.5 219.3h.3M388.3 209.8h.3M403.9 215.4h.3M432 216.5h.3M424.6 208h.3M418.6 213.8h.3M418.9 210.8h.3M410.4 218.7h.3M440.8 204.6h.3M422.5 214.3h.3M404.7 219h.3M417.3 217h.3M435.9 202.7h.3M435.4 204.8h.3M424.4 208.6h.3M407.9 213.2h.3M430.3 203.8h.3M430.3 204.9h.3M412.2 221.4h.3M405.6 221.3h.3M430.9 206.7h.3M427.5 211.3h.3M426 209.6h.3M410.3 227.5h.3M439.9 200.1h.3M418.8 214.3h.3M431.6 203.3h.3M413.5 221.8h.3M415.8 214h.3M416.8 216.5h.3M421.1 214.8h.3M434.2 208.8h.3M424.9 201.2h.3M432.5 203.4h.3M423.3 210.8h.3M427.5 203.2h.3M429.2 214.8h.3M411 225.1h.3M422.7 207.7h.3M412.7 217.5h.3M409.6 223.1h.3M438.2 213.2h.3M423.2 215.3h.3M419.4 214.3h.3M420.4 208.4h.3M419.9 213.6h.3M418.6 217.4h.3M426.8 211.1h.3M422.1 213.9h.3M428.7 208h.3M424 212.5h.3M421.4 224.4h.3M424 209.7h.3M431.2 216h.3M412 216.6h.3M436 205.3h.3M431.5 203.3h.3M413.9 214.2h.3M435.3 212.1h.3M424.6 209h.3M413.7 209.8h.3M415.2 222.7h.3M442 201.3h.3M438.2 204.9h.3M409 219.6h.3M411.2 211.7h.3M445.2 210.5h.3M427.9 214.3h.3M427.2 209.4h.3M411.7 221.3h.3M430.5 207.7h.3M419.3 209.7h.3M427 208.6h.3M430.1 202.9h.3M427.4 208.5h.3M426.4 207.9h.3M441.1 212.1h.3M433.2 203.3h.3M422.7 217.8h.3M433.3 209.2h.3M434.3 209.2h.3M429.6 208.7h.3M425.6 221.4h.3M415.7 220h.3M437.6 204.9h.3M433.3 209h.3M423.8 210.7h.3M423 219.3h.3M431.5 205.3h.3M439.4 204.8h.3M408 222h.3M423.7 207.1h.3M433.5 228.9h.3M396.1 204.5h.3M384.4 210.6h.3M425.8 238.5h.3M441.3 204.6h.3M426.6 210.3h.3M449.8 228.8h.3M392.6 216.9h.3M401.2 238.1h.3M428.2 229.7h.3M406.1 232h.3M436.2 215.4h.3M401.5 237h.3M440.1 233.3h.3M399.8 231.7h.3M415 238.2h.3M411.3 235.3h.3M439.4 215.4h.3M428.5 233.5h.3M405.6 222.2h.3M430.6 203h.3M385.3 207.1h.3M427 230.5h.3M443.7 226.5h.3M432.5 200.2h.3" stroke="#8e8e8e" stroke-width="0.66" stroke-linecap="round" fill="none"/>
</g>
<rect x="83.4" y="173.2" width="26.2" height="82.5" fill="none" stroke="#111" stroke-width="1.7"/>
<line x1="83.4" y1="215.6" x2="109.6" y2="215.6" stroke="#111" stroke-width="1.7"/>
<rect x="158.2" y="173.2" width="25.3" height="44.2" fill="none" stroke="#3a4f9e" stroke-width="1.5"/>
<rect x="158.2" y="217.6" width="25.3" height="37.7" fill="none" stroke="#7d58a8" stroke-width="1.5"/>
<rect x="184.3" y="218.2" width="49.8" height="37.1" fill="none" stroke="#c4448f" stroke-width="1.5"/>
<text x="160.6" y="184.2" font-size="10.2" fill="#3a4f9e" stroke="#3a4f9e" stroke-width="0.22">HSC</text>
<text x="160.4" y="252.3" font-size="10.2" fill="#7d58a8" stroke="#7d58a8" stroke-width="0.22">MPP</text>
<text x="210.6" y="252.3" font-size="10.2" fill="#c4448f" stroke="#c4448f" stroke-width="0.22">MLP</text>
<rect x="262.2" y="172.6" width="84.4" height="53.4" fill="none" stroke="#e07a35" stroke-width="1.5"/>
<rect x="262.2" y="227.6" width="84.4" height="17.8" fill="none" stroke="#111" stroke-width="1.7"/>
<text x="342.3" y="183.3" font-size="10.2" text-anchor="end" fill="#e07a35" stroke="#e07a35" stroke-width="0.22">CLP</text>
<rect x="384.5" y="172.8" width="25.2" height="51.1" fill="none" stroke="#efb820" stroke-width="1.5"/>
<rect x="410.5" y="172.8" width="51.2" height="51.2" fill="none" stroke="#3d4b66" stroke-width="1.4"/>
<rect x="384.5" y="225.4" width="25.2" height="30.2" fill="none" stroke="#22a35a" stroke-width="1.5"/>
<text x="386.6" y="183.3" font-size="10.2" fill="#efb820" stroke="#efb820" stroke-width="0.22">CMP</text>
<text x="458.8" y="183.3" font-size="10.2" text-anchor="end" fill="#3d4b66" stroke="#3d4b66" stroke-width="0.22">GMP</text>
<text x="386.4" y="253" font-size="10.2" fill="#22a35a" stroke="#22a35a" stroke-width="0.22">MEP</text>
<text x="23.0" y="228.3" font-size="11.3" text-anchor="middle" fill="#111" stroke="#111" stroke-width="0.22" transform="rotate(-90 23.0 228.3)">CD38</text>
<path d="M18.3 252 V271.3 H38.5" fill="none" stroke="#111" stroke-width="1.0"/>
<path d="M15.700000000000001 252.5 L18.3 248 L20.900000000000002 252.5Z" fill="#111"/>
<path d="M38.0 268.7 L42.5 271.3 L38.0 273.90000000000003Z" fill="#111"/>
<text x="44.5" y="278.2" font-size="11.3" fill="#111" stroke="#111" stroke-width="0.22">CD34</text>
<text x="135.1" y="229.4" font-size="11.3" text-anchor="middle" fill="#111" stroke="#111" stroke-width="0.22" transform="rotate(-90 135.1 229.4)">CD90</text>
<path d="M130.5 252.5 V272.3 H150.5" fill="none" stroke="#111" stroke-width="1.0"/>
<path d="M127.9 253.0 L130.5 248.5 L133.1 253.0Z" fill="#111"/>
<path d="M150.0 269.7 L154.5 272.3 L150.0 274.90000000000003Z" fill="#111"/>
<text x="157" y="275.8" font-size="11.2" fill="#111" stroke="#111" stroke-width="0.22">CD45RA</text>
<text x="251.1" y="228.1" font-size="11.3" text-anchor="middle" fill="#111" stroke="#111" stroke-width="0.22" transform="rotate(-90 251.1 228.1)">CD10</text>
<path d="M245.5 252.5 V272.3 H266" fill="none" stroke="#111" stroke-width="1.0"/>
<path d="M242.9 253.0 L245.5 248.5 L248.1 253.0Z" fill="#111"/>
<path d="M265.5 269.7 L270 272.3 L265.5 274.90000000000003Z" fill="#111"/>
<text x="272" y="275.8" font-size="11.2" fill="#111" stroke="#111" stroke-width="0.22">CD45RA</text>
<text x="361.2" y="224" font-size="11.3" text-anchor="middle" fill="#111" stroke="#111" stroke-width="0.22" transform="rotate(-90 361.2 224)">CD123</text>
<path d="M357 252.3 V272 H377" fill="none" stroke="#111" stroke-width="1.0"/>
<path d="M354.4 252.8 L357 248.3 L359.6 252.8Z" fill="#111"/>
<path d="M376.5 269.4 L381 272 L376.5 274.6Z" fill="#111"/>
<text x="383.7" y="275.8" font-size="11.2" fill="#111" stroke="#111" stroke-width="0.22">CD45RA</text>
<text x="1.4" y="304" font-size="20.5" font-weight="bold" fill="#111" stroke="#111" stroke-width="0.5">B</text>
<line x1="36.7" y1="301" x2="513" y2="301" stroke="#111" stroke-width="1.4"/>
<text x="268.9" y="296.5" font-size="12.5" text-anchor="middle" font-weight="bold" fill="#111">MSLN<tspan dy="-4.5" font-size="9">+</tspan><tspan dy="4.5"> AML</tspan></text>
<text x="81.8" y="314.8" font-size="12.6" text-anchor="middle" fill="#111" stroke="#111" stroke-width="0.22">Patient 1</text>
<rect x="34.3" y="319.6" width="83.7" height="82.5" fill="none" stroke="#9a9a9a" stroke-width="0.7"/>
<line x1="34.3" y1="319.6" x2="34.3" y2="402.1" stroke="#333" stroke-width="0.7"/>
<line x1="34.3" y1="402.1" x2="118.0" y2="402.1" stroke="#333" stroke-width="0.7"/>
<text x="31.699999999999996" y="325.0" font-size="3.4" text-anchor="end" fill="#555">100</text>
<text x="31.699999999999996" y="340.5" font-size="3.4" text-anchor="end" fill="#555">80</text>
<text x="31.699999999999996" y="356.0" font-size="3.4" text-anchor="end" fill="#555">60</text>
<text x="31.699999999999996" y="371.4" font-size="3.4" text-anchor="end" fill="#555">40</text>
<text x="31.699999999999996" y="386.9" font-size="3.4" text-anchor="end" fill="#555">20</text>
<text x="31.699999999999996" y="402.4" font-size="3.4" text-anchor="end" fill="#555">0</text>
<text x="40.2" y="408.1" font-size="3.4" text-anchor="middle" fill="#555">-10<tspan dy="-1" font-size="2.5">3</tspan></text>
<text x="54.8" y="408.1" font-size="3.4" text-anchor="middle" fill="#555">0</text>
<text x="68.6" y="408.1" font-size="3.4" text-anchor="middle" fill="#555">10<tspan dy="-1" font-size="2.5">3</tspan></text>
<text x="92.1" y="408.1" font-size="3.4" text-anchor="middle" fill="#555">10<tspan dy="-1" font-size="2.5">4</tspan></text>
<text x="111.7" y="408.1" font-size="3.4" text-anchor="middle" fill="#555">10<tspan dy="-1" font-size="2.5">5</tspan></text>
<path d="M32.699999999999996 323.9h1.6M33.4 327.8h0.9M33.4 331.6h0.9M33.4 335.5h0.9M32.699999999999996 339.4h1.6M33.4 343.3h0.9M33.4 347.1h0.9M33.4 351.0h0.9M32.699999999999996 354.9h1.6M33.4 358.7h0.9M33.4 362.6h0.9M33.4 366.5h0.9M32.699999999999996 370.3h1.6M33.4 374.2h0.9M33.4 378.1h0.9M33.4 382.0h0.9M32.699999999999996 385.8h1.6M33.4 389.7h0.9M33.4 393.6h0.9M33.4 397.4h0.9M32.699999999999996 401.3h1.6M40.2 402.1v1.6M54.8 402.1v1.6M68.6 402.1v1.6M92.1 402.1v1.6M111.7 402.1v1.6M43.8 402.1v0.9M47.5 402.1v0.9M51.1 402.1v0.9M58.3 402.1v0.9M61.7 402.1v0.9M65.2 402.1v0.9M74.5 402.1v0.9M80.3 402.1v0.9M86.2 402.1v0.9M97.0 402.1v0.9M101.9 402.1v0.9M106.8 402.1v0.9" stroke="#444" stroke-width="0.5" fill="none"/>
<rect x="52.6065" y="401.8" width="4.4" height="1.9" fill="#111" stroke="none" stroke-width="1"/>
<path d="M50.20 401.30L50.20 401.30L50.36 400.07L50.53 398.81L50.69 397.52L50.85 396.20L51.01 394.86L51.17 393.48L51.33 392.08L51.49 390.66L51.65 389.20L51.82 387.72L51.98 386.22L52.14 384.69L52.30 383.14L52.46 381.56L52.62 379.96L52.78 378.34L52.94 376.70L53.11 375.04L53.27 373.35L53.43 371.65L53.59 369.92L53.75 368.02L53.91 365.90L54.07 363.61L54.23 361.16L54.40 358.59L54.56 355.92L54.72 353.20L54.88 350.45L55.04 347.69L55.20 344.96L55.36 342.29L55.52 339.71L55.69 337.26L55.85 334.95L56.01 332.82L56.17 330.90L56.33 329.22L56.49 327.81L56.65 326.70L56.81 325.93L56.98 325.51L57.14 325.49L57.30 325.85L57.46 326.58L57.62 327.64L57.78 328.99L57.94 330.61L58.10 332.45L58.27 334.48L58.43 336.68L58.59 339.01L58.75 341.44L58.91 343.93L59.07 346.45L59.23 348.96L59.39 351.44L59.56 353.85L59.72 356.16L59.88 358.33L60.04 360.33L60.20 362.13L60.36 363.77L60.52 365.43L60.68 367.12L60.85 368.82L61.01 370.54L61.17 372.25L61.33 373.96L61.49 375.64L61.65 377.31L61.81 378.93L61.97 380.51L62.14 382.04L62.30 383.51L62.46 384.91L62.62 386.23L62.78 387.46L62.94 388.59L63.10 389.62L63.26 390.53L63.43 391.32L63.59 391.98L63.75 392.57L63.91 393.14L64.07 393.70L64.23 394.25L64.39 394.79L64.55 395.32L64.72 395.83L64.88 396.33L65.04 396.81L65.20 397.27L65.36 397.72L65.52 398.14L65.68 398.54L65.84 398.92L66.01 399.28L66.17 399.61L66.33 399.92L66.49 400.19L66.65 400.44L66.81 400.66L66.97 400.85L67.13 401.01L67.30 401.14L67.46 401.23L67.62 401.28L67.78 401.30L67.78 401.30Z" fill="#9c9c9c" stroke="#484848" stroke-width="0.6"/>
<path d="M50.20 401.30L50.20 401.30L50.78 395.74L51.35 390.01L51.92 384.12L52.49 378.07L53.06 371.87L53.64 365.50L54.21 357.71L54.78 348.69L55.35 339.61L55.92 331.66L56.50 326.03L57.07 323.90L57.64 325.11L58.21 328.28L58.78 332.75L59.36 337.86L59.93 342.95L60.50 347.36L61.07 350.41L61.64 351.96L62.22 353.16L62.79 354.16L63.36 355.01L63.93 355.78L64.50 356.50L65.08 357.14L65.65 357.68L66.22 358.19L66.79 358.71L67.37 359.31L67.94 360.09L68.51 361.15L69.08 362.33L69.65 363.45L70.23 364.35L70.80 364.87L71.37 364.89L71.94 364.68L72.51 364.31L73.09 363.81L73.66 363.22L74.23 362.56L74.80 361.86L75.37 361.17L75.95 360.50L76.52 359.87L77.09 359.18L77.66 358.45L78.23 357.67L78.81 356.87L79.38 356.05L79.95 355.22L80.52 354.40L81.10 353.60L81.67 352.83L82.24 352.10L82.81 351.38L83.38 350.58L83.96 349.74L84.53 348.97L85.10 348.34L85.67 347.97L86.24 347.90L86.82 347.93L87.39 348.01L87.96 348.11L88.53 348.24L89.10 348.45L89.68 348.91L90.25 349.58L90.82 350.41L91.39 351.34L91.96 352.31L92.54 353.28L93.11 354.28L93.68 355.39L94.25 356.61L94.83 357.90L95.40 359.27L95.97 360.70L96.54 362.17L97.11 363.67L97.69 365.19L98.26 366.72L98.83 368.23L99.40 369.80L99.97 371.45L100.55 373.17L101.12 374.92L101.69 376.71L102.26 378.50L102.83 380.27L103.41 382.01L103.98 383.70L104.55 385.32L105.12 386.84L105.69 388.36L106.27 389.88L106.84 391.39L107.41 392.85L107.98 394.25L108.55 395.55L109.13 396.74L109.70 397.78L110.27 398.66L110.84 399.46L111.42 400.17L111.99 400.79L112.56 401.30L112.56 401.30Z" fill="#f6bfc2" style="mix-blend-mode:multiply"/>
<path d="M50.20 401.30L50.20 401.30L50.78 395.74L51.35 390.01L51.92 384.12L52.49 378.07L53.06 371.87L53.64 365.50L54.21 357.71L54.78 348.69L55.35 339.61L55.92 331.66L56.50 326.03L57.07 323.90L57.64 325.11L58.21 328.28L58.78 332.75L59.36 337.86L59.93 342.95L60.50 347.36L61.07 350.41L61.64 351.96L62.22 353.16L62.79 354.16L63.36 355.01L63.93 355.78L64.50 356.50L65.08 357.14L65.65 357.68L66.22 358.19L66.79 358.71L67.37 359.31L67.94 360.09L68.51 361.15L69.08 362.33L69.65 363.45L70.23 364.35L70.80 364.87L71.37 364.89L71.94 364.68L72.51 364.31L73.09 363.81L73.66 363.22L74.23 362.56L74.80 361.86L75.37 361.17L75.95 360.50L76.52 359.87L77.09 359.18L77.66 358.45L78.23 357.67L78.81 356.87L79.38 356.05L79.95 355.22L80.52 354.40L81.10 353.60L81.67 352.83L82.24 352.10L82.81 351.38L83.38 350.58L83.96 349.74L84.53 348.97L85.10 348.34L85.67 347.97L86.24 347.90L86.82 347.93L87.39 348.01L87.96 348.11L88.53 348.24L89.10 348.45L89.68 348.91L90.25 349.58L90.82 350.41L91.39 351.34L91.96 352.31L92.54 353.28L93.11 354.28L93.68 355.39L94.25 356.61L94.83 357.90L95.40 359.27L95.97 360.70L96.54 362.17L97.11 363.67L97.69 365.19L98.26 366.72L98.83 368.23L99.40 369.80L99.97 371.45L100.55 373.17L101.12 374.92L101.69 376.71L102.26 378.50L102.83 380.27L103.41 382.01L103.98 383.70L104.55 385.32L105.12 386.84L105.69 388.36L106.27 389.88L106.84 391.39L107.41 392.85L107.98 394.25L108.55 395.55L109.13 396.74L109.70 397.78L110.27 398.66L110.84 399.46L111.42 400.17L111.99 400.79L112.56 401.30L112.56 401.30Z" fill="none" stroke="#cf3a44" stroke-width="0.8"/>
<text x="175.2" y="314.8" font-size="12.6" text-anchor="middle" fill="#111" stroke="#111" stroke-width="0.22">Patient 2</text>
<rect x="130.5" y="319.6" width="84.0" height="82.5" fill="none" stroke="#9a9a9a" stroke-width="0.7"/>
<line x1="130.5" y1="319.6" x2="130.5" y2="402.1" stroke="#333" stroke-width="0.7"/>
<line x1="130.5" y1="402.1" x2="214.5" y2="402.1" stroke="#333" stroke-width="0.7"/>
<text x="127.9" y="325.0" font-size="3.4" text-anchor="end" fill="#555">100</text>
<text x="127.9" y="340.5" font-size="3.4" text-anchor="end" fill="#555">80</text>
<text x="127.9" y="356.0" font-size="3.4" text-anchor="end" fill="#555">60</text>
<text x="127.9" y="371.4" font-size="3.4" text-anchor="end" fill="#555">40</text>
<text x="127.9" y="386.9" font-size="3.4" text-anchor="end" fill="#555">20</text>
<text x="127.9" y="402.4" font-size="3.4" text-anchor="end" fill="#555">0</text>
<text x="136.4" y="408.1" font-size="3.4" text-anchor="middle" fill="#555">-10<tspan dy="-1" font-size="2.5">3</tspan></text>
<text x="151.1" y="408.1" font-size="3.4" text-anchor="middle" fill="#555">0</text>
<text x="164.9" y="408.1" font-size="3.4" text-anchor="middle" fill="#555">10<tspan dy="-1" font-size="2.5">3</tspan></text>
<text x="188.5" y="408.1" font-size="3.4" text-anchor="middle" fill="#555">10<tspan dy="-1" font-size="2.5">4</tspan></text>
<text x="208.2" y="408.1" font-size="3.4" text-anchor="middle" fill="#555">10<tspan dy="-1" font-size="2.5">5</tspan></text>
<path d="M128.9 323.9h1.6M129.6 327.8h0.9M129.6 331.6h0.9M129.6 335.5h0.9M128.9 339.4h1.6M129.6 343.3h0.9M129.6 347.1h0.9M129.6 351.0h0.9M128.9 354.9h1.6M129.6 358.7h0.9M129.6 362.6h0.9M129.6 366.5h0.9M128.9 370.3h1.6M129.6 374.2h0.9M129.6 378.1h0.9M129.6 382.0h0.9M128.9 385.8h1.6M129.6 389.7h0.9M129.6 393.6h0.9M129.6 397.4h0.9M128.9 401.3h1.6M136.4 402.1v1.6M151.1 402.1v1.6M164.9 402.1v1.6M188.5 402.1v1.6M208.2 402.1v1.6M140.1 402.1v0.9M143.7 402.1v0.9M147.4 402.1v0.9M154.5 402.1v0.9M158.0 402.1v0.9M161.5 402.1v0.9M170.8 402.1v0.9M176.7 402.1v0.9M182.6 402.1v0.9M193.4 402.1v0.9M198.3 402.1v0.9M203.3 402.1v0.9" stroke="#444" stroke-width="0.5" fill="none"/>
<rect x="148.88" y="401.8" width="4.4" height="1.9" fill="#111" stroke="none" stroke-width="1"/>
<path d="M152.34 401.30L152.34 401.30L152.46 400.37L152.59 399.42L152.71 398.44L152.83 397.45L152.96 396.43L153.08 395.38L153.20 394.32L153.33 393.23L153.45 392.12L153.57 391.00L153.70 389.85L153.82 388.68L153.94 387.49L154.07 386.28L154.19 385.06L154.31 383.81L154.44 382.55L154.56 381.27L154.68 379.97L154.81 378.66L154.93 377.30L155.05 375.80L155.18 374.14L155.30 372.36L155.42 370.46L155.55 368.48L155.67 366.41L155.79 364.29L155.92 362.13L156.04 359.95L156.16 357.77L156.29 355.60L156.41 353.46L156.53 351.38L156.66 349.37L156.78 347.45L156.90 345.63L157.03 343.94L157.15 342.39L157.27 341.00L157.40 339.79L157.52 338.78L157.64 337.99L157.77 337.43L157.89 337.12L158.01 337.07L158.14 337.23L158.26 337.57L158.38 338.08L158.51 338.72L158.63 339.49L158.75 340.38L158.88 341.36L159.00 342.41L159.12 343.53L159.24 344.70L159.37 345.90L159.49 347.10L159.61 348.31L159.74 349.49L159.86 350.64L159.98 351.78L160.11 353.04L160.23 354.40L160.35 355.86L160.48 357.40L160.60 359.01L160.72 360.67L160.85 362.38L160.97 364.11L161.09 365.86L161.22 367.61L161.34 369.34L161.46 371.05L161.59 372.72L161.71 374.34L161.83 375.90L161.96 377.37L162.08 378.75L162.20 380.02L162.33 381.17L162.45 382.20L162.57 383.17L162.70 384.14L162.82 385.11L162.94 386.05L163.07 386.99L163.19 387.91L163.31 388.82L163.44 389.71L163.56 390.58L163.68 391.43L163.81 392.25L163.93 393.06L164.05 393.84L164.18 394.59L164.30 395.32L164.42 396.01L164.55 396.68L164.67 397.31L164.79 397.91L164.92 398.47L165.04 399.00L165.16 399.49L165.29 399.94L165.41 400.34L165.53 400.71L165.66 401.03L165.78 401.30L165.78 401.30Z" fill="#9c9c9c" stroke="#484848" stroke-width="0.6"/>
<path d="M150.66 401.30L150.66 401.30L151.14 401.14L151.62 400.81L152.09 400.33L152.57 399.71L153.05 398.98L153.53 398.15L154.00 397.23L154.48 396.25L154.96 395.22L155.44 394.15L155.92 393.05L156.39 391.72L156.87 390.17L157.35 388.42L157.83 386.47L158.30 384.36L158.78 382.11L159.26 379.74L159.74 377.28L160.22 374.74L160.69 372.14L161.17 369.28L161.65 365.92L162.13 362.20L162.60 358.27L163.08 354.28L163.56 350.37L164.04 346.70L164.52 343.41L164.99 340.64L165.47 338.00L165.95 335.29L166.43 332.66L166.91 330.29L167.38 328.32L167.86 326.92L168.34 326.26L168.82 326.40L169.29 327.17L169.77 328.42L170.25 330.02L170.73 331.84L171.21 333.74L171.68 335.60L172.16 337.65L172.64 340.09L173.12 342.82L173.59 345.73L174.07 348.71L174.55 351.66L175.03 354.47L175.51 357.04L175.98 359.28L176.46 361.35L176.94 363.36L177.42 365.30L177.89 367.17L178.37 368.98L178.85 370.71L179.33 372.37L179.81 373.95L180.28 375.46L180.76 376.90L181.24 378.27L181.72 379.60L182.19 380.87L182.67 382.09L183.15 383.25L183.63 384.36L184.11 385.40L184.58 386.38L185.06 387.30L185.54 388.15L186.02 388.97L186.49 389.75L186.97 390.48L187.45 391.19L187.93 391.85L188.41 392.48L188.88 393.07L189.36 393.63L189.84 394.17L190.32 394.70L190.80 395.22L191.27 395.72L191.75 396.19L192.23 396.64L192.71 397.06L193.18 397.44L193.66 397.79L194.14 398.09L194.62 398.36L195.10 398.61L195.57 398.87L196.05 399.12L196.53 399.37L197.01 399.61L197.48 399.84L197.96 400.05L198.44 400.26L198.92 400.45L199.40 400.63L199.87 400.79L200.35 400.93L200.83 401.05L201.31 401.15L201.78 401.22L202.26 401.28L202.74 401.30L202.74 401.30Z" fill="#f6bfc2" style="mix-blend-mode:multiply"/>
<path d="M150.66 401.30L150.66 401.30L151.14 401.14L151.62 400.81L152.09 400.33L152.57 399.71L153.05 398.98L153.53 398.15L154.00 397.23L154.48 396.25L154.96 395.22L155.44 394.15L155.92 393.05L156.39 391.72L156.87 390.17L157.35 388.42L157.83 386.47L158.30 384.36L158.78 382.11L159.26 379.74L159.74 377.28L160.22 374.74L160.69 372.14L161.17 369.28L161.65 365.92L162.13 362.20L162.60 358.27L163.08 354.28L163.56 350.37L164.04 346.70L164.52 343.41L164.99 340.64L165.47 338.00L165.95 335.29L166.43 332.66L166.91 330.29L167.38 328.32L167.86 326.92L168.34 326.26L168.82 326.40L169.29 327.17L169.77 328.42L170.25 330.02L170.73 331.84L171.21 333.74L171.68 335.60L172.16 337.65L172.64 340.09L173.12 342.82L173.59 345.73L174.07 348.71L174.55 351.66L175.03 354.47L175.51 357.04L175.98 359.28L176.46 361.35L176.94 363.36L177.42 365.30L177.89 367.17L178.37 368.98L178.85 370.71L179.33 372.37L179.81 373.95L180.28 375.46L180.76 376.90L181.24 378.27L181.72 379.60L182.19 380.87L182.67 382.09L183.15 383.25L183.63 384.36L184.11 385.40L184.58 386.38L185.06 387.30L185.54 388.15L186.02 388.97L186.49 389.75L186.97 390.48L187.45 391.19L187.93 391.85L188.41 392.48L188.88 393.07L189.36 393.63L189.84 394.17L190.32 394.70L190.80 395.22L191.27 395.72L191.75 396.19L192.23 396.64L192.71 397.06L193.18 397.44L193.66 397.79L194.14 398.09L194.62 398.36L195.10 398.61L195.57 398.87L196.05 399.12L196.53 399.37L197.01 399.61L197.48 399.84L197.96 400.05L198.44 400.26L198.92 400.45L199.40 400.63L199.87 400.79L200.35 400.93L200.83 401.05L201.31 401.15L201.78 401.22L202.26 401.28L202.74 401.30L202.74 401.30Z" fill="none" stroke="#cf3a44" stroke-width="0.8"/>
<text x="273.3" y="314.8" font-size="12.6" text-anchor="middle" fill="#111" stroke="#111" stroke-width="0.22">Patient 3</text>
<rect x="230.5" y="319.6" width="84.0" height="82.5" fill="none" stroke="#9a9a9a" stroke-width="0.7"/>
<line x1="230.5" y1="319.6" x2="230.5" y2="402.1" stroke="#333" stroke-width="0.7"/>
<line x1="230.5" y1="402.1" x2="314.5" y2="402.1" stroke="#333" stroke-width="0.7"/>
<text x="227.9" y="325.0" font-size="3.4" text-anchor="end" fill="#555">100</text>
<text x="227.9" y="340.5" font-size="3.4" text-anchor="end" fill="#555">80</text>
<text x="227.9" y="356.0" font-size="3.4" text-anchor="end" fill="#555">60</text>
<text x="227.9" y="371.4" font-size="3.4" text-anchor="end" fill="#555">40</text>
<text x="227.9" y="386.9" font-size="3.4" text-anchor="end" fill="#555">20</text>
<text x="227.9" y="402.4" font-size="3.4" text-anchor="end" fill="#555">0</text>
<text x="236.4" y="408.1" font-size="3.4" text-anchor="middle" fill="#555">-10<tspan dy="-1" font-size="2.5">3</tspan></text>
<text x="251.1" y="408.1" font-size="3.4" text-anchor="middle" fill="#555">0</text>
<text x="264.9" y="408.1" font-size="3.4" text-anchor="middle" fill="#555">10<tspan dy="-1" font-size="2.5">3</tspan></text>
<text x="288.5" y="408.1" font-size="3.4" text-anchor="middle" fill="#555">10<tspan dy="-1" font-size="2.5">4</tspan></text>
<text x="308.2" y="408.1" font-size="3.4" text-anchor="middle" fill="#555">10<tspan dy="-1" font-size="2.5">5</tspan></text>
<path d="M228.9 323.9h1.6M229.6 327.8h0.9M229.6 331.6h0.9M229.6 335.5h0.9M228.9 339.4h1.6M229.6 343.3h0.9M229.6 347.1h0.9M229.6 351.0h0.9M228.9 354.9h1.6M229.6 358.7h0.9M229.6 362.6h0.9M229.6 366.5h0.9M228.9 370.3h1.6M229.6 374.2h0.9M229.6 378.1h0.9M229.6 382.0h0.9M228.9 385.8h1.6M229.6 389.7h0.9M229.6 393.6h0.9M229.6 397.4h0.9M228.9 401.3h1.6M236.4 402.1v1.6M251.1 402.1v1.6M264.9 402.1v1.6M288.5 402.1v1.6M308.2 402.1v1.6M240.1 402.1v0.9M243.7 402.1v0.9M247.4 402.1v0.9M254.5 402.1v0.9M258.0 402.1v0.9M261.5 402.1v0.9M270.8 402.1v0.9M276.7 402.1v0.9M282.6 402.1v0.9M293.4 402.1v0.9M298.3 402.1v0.9M303.3 402.1v0.9" stroke="#444" stroke-width="0.5" fill="none"/>
<rect x="248.88" y="401.8" width="4.4" height="1.9" fill="#111" stroke="none" stroke-width="1"/>
<path d="M248.14 401.30L248.14 401.30L248.17 400.38L248.21 399.44L248.24 398.47L248.28 397.47L248.31 396.45L248.35 395.41L248.38 394.34L248.42 393.25L248.45 392.13L248.49 391.00L248.52 389.84L248.56 388.66L248.59 387.46L248.63 386.24L248.66 385.00L248.69 383.74L248.73 382.46L248.76 381.17L248.80 379.85L248.83 378.53L248.87 377.18L248.90 375.82L248.94 374.44L248.97 373.05L249.01 371.64L249.04 370.22L249.08 368.79L249.11 367.34L249.15 365.88L249.18 364.41L249.22 362.93L249.25 361.44L249.28 359.93L249.32 358.42L249.35 356.90L249.39 355.37L249.42 353.77L249.46 351.94L249.49 349.89L249.53 347.68L249.56 345.35L249.60 342.94L249.63 340.49L249.67 338.06L249.70 335.68L249.74 333.40L249.77 331.26L249.80 329.31L249.84 327.60L249.87 326.15L249.91 325.03L249.94 324.27L249.98 323.92L250.01 323.99L250.05 324.38L250.08 325.08L250.12 326.05L250.15 327.25L250.19 328.68L250.22 330.29L250.26 332.05L250.29 333.95L250.32 335.95L250.36 338.02L250.39 340.13L250.43 342.27L250.46 344.39L250.50 346.47L250.53 348.49L250.57 350.41L250.60 352.21L250.64 353.86L250.67 355.34L250.71 356.77L250.74 358.19L250.78 359.61L250.81 361.03L250.84 362.43L250.88 363.83L250.91 365.22L250.95 366.60L250.98 367.98L251.02 369.34L251.05 370.70L251.09 372.05L251.12 373.39L251.16 374.73L251.19 376.05L251.23 377.36L251.26 378.67L251.30 379.96L251.33 381.24L251.37 382.52L251.40 383.78L251.43 385.03L251.47 386.27L251.50 387.50L251.54 388.72L251.57 389.93L251.61 391.12L251.64 392.31L251.68 393.48L251.71 394.63L251.75 395.78L251.78 396.91L251.82 398.03L251.85 399.13L251.89 400.22L251.92 401.30L251.92 401.30Z" fill="#9c9c9c" stroke="#484848" stroke-width="0.6"/>
<path d="M248.14 401.30L248.14 401.30L248.61 386.01L249.09 373.51L249.56 365.24L250.04 362.63L250.51 365.24L250.98 370.74L251.46 377.09L251.93 382.28L252.41 384.33L252.88 384.73L253.35 385.07L253.83 385.34L254.30 385.55L254.78 385.70L255.25 385.79L255.72 385.82L256.20 385.78L256.67 385.68L257.14 385.52L257.62 385.31L258.09 385.05L258.57 384.76L259.04 384.45L259.51 384.11L259.99 383.77L260.46 383.41L260.94 383.06L261.41 382.73L261.88 382.38L262.36 382.00L262.83 381.60L263.31 381.17L263.78 380.73L264.25 380.26L264.73 379.77L265.20 379.27L265.68 378.75L266.15 378.23L266.62 377.69L267.10 377.15L267.57 376.60L268.05 376.05L268.52 375.50L268.99 374.96L269.47 374.41L269.94 373.85L270.42 373.28L270.89 372.69L271.36 372.07L271.84 371.42L272.31 370.73L272.79 370.00L273.26 369.22L273.73 368.38L274.21 367.44L274.68 366.40L275.15 365.27L275.63 364.08L276.10 362.81L276.58 361.50L277.05 360.15L277.52 358.78L278.00 357.34L278.47 355.81L278.95 354.20L279.42 352.53L279.89 350.80L280.37 349.03L280.84 347.25L281.32 345.45L281.79 343.60L282.26 341.53L282.74 339.32L283.21 337.10L283.69 334.95L284.16 332.99L284.63 331.33L285.11 330.08L285.58 329.04L286.06 328.04L286.53 327.19L287.00 326.56L287.48 326.24L287.95 326.36L288.43 326.98L288.90 327.99L289.37 329.27L289.85 330.72L290.32 332.26L290.80 334.27L291.27 336.80L291.74 339.78L292.22 343.12L292.69 346.76L293.16 350.62L293.64 354.61L294.11 359.26L294.59 364.92L295.06 370.98L295.53 376.82L296.01 381.84L296.48 386.23L296.96 390.34L297.43 393.71L297.90 395.99L298.38 397.95L298.85 399.61L299.33 400.79L299.80 401.30L299.80 401.30Z" fill="#f6bfc2" style="mix-blend-mode:multiply"/>
<path d="M248.14 401.30L248.14 401.30L248.61 386.01L249.09 373.51L249.56 365.24L250.04 362.63L250.51 365.24L250.98 370.74L251.46 377.09L251.93 382.28L252.41 384.33L252.88 384.73L253.35 385.07L253.83 385.34L254.30 385.55L254.78 385.70L255.25 385.79L255.72 385.82L256.20 385.78L256.67 385.68L257.14 385.52L257.62 385.31L258.09 385.05L258.57 384.76L259.04 384.45L259.51 384.11L259.99 383.77L260.46 383.41L260.94 383.06L261.41 382.73L261.88 382.38L262.36 382.00L262.83 381.60L263.31 381.17L263.78 380.73L264.25 380.26L264.73 379.77L265.20 379.27L265.68 378.75L266.15 378.23L266.62 377.69L267.10 377.15L267.57 376.60L268.05 376.05L268.52 375.50L268.99 374.96L269.47 374.41L269.94 373.85L270.42 373.28L270.89 372.69L271.36 372.07L271.84 371.42L272.31 370.73L272.79 370.00L273.26 369.22L273.73 368.38L274.21 367.44L274.68 366.40L275.15 365.27L275.63 364.08L276.10 362.81L276.58 361.50L277.05 360.15L277.52 358.78L278.00 357.34L278.47 355.81L278.95 354.20L279.42 352.53L279.89 350.80L280.37 349.03L280.84 347.25L281.32 345.45L281.79 343.60L282.26 341.53L282.74 339.32L283.21 337.10L283.69 334.95L284.16 332.99L284.63 331.33L285.11 330.08L285.58 329.04L286.06 328.04L286.53 327.19L287.00 326.56L287.48 326.24L287.95 326.36L288.43 326.98L288.90 327.99L289.37 329.27L289.85 330.72L290.32 332.26L290.80 334.27L291.27 336.80L291.74 339.78L292.22 343.12L292.69 346.76L293.16 350.62L293.64 354.61L294.11 359.26L294.59 364.92L295.06 370.98L295.53 376.82L296.01 381.84L296.48 386.23L296.96 390.34L297.43 393.71L297.90 395.99L298.38 397.95L298.85 399.61L299.33 400.79L299.80 401.30L299.80 401.30Z" fill="none" stroke="#cf3a44" stroke-width="0.8"/>
<text x="374.6" y="314.8" font-size="12.6" text-anchor="middle" fill="#111" stroke="#111" stroke-width="0.22">Patient 4</text>
<rect x="335.5" y="319.6" width="82.0" height="82.5" fill="none" stroke="#9a9a9a" stroke-width="0.7"/>
<line x1="335.5" y1="319.6" x2="335.5" y2="402.1" stroke="#333" stroke-width="0.7"/>
<line x1="335.5" y1="402.1" x2="417.5" y2="402.1" stroke="#333" stroke-width="0.7"/>
<text x="332.9" y="325.0" font-size="3.4" text-anchor="end" fill="#555">100</text>
<text x="332.9" y="340.5" font-size="3.4" text-anchor="end" fill="#555">80</text>
<text x="332.9" y="356.0" font-size="3.4" text-anchor="end" fill="#555">60</text>
<text x="332.9" y="371.4" font-size="3.4" text-anchor="end" fill="#555">40</text>
<text x="332.9" y="386.9" font-size="3.4" text-anchor="end" fill="#555">20</text>
<text x="332.9" y="402.4" font-size="3.4" text-anchor="end" fill="#555">0</text>
<text x="341.2" y="408.1" font-size="3.4" text-anchor="middle" fill="#555">-10<tspan dy="-1" font-size="2.5">3</tspan></text>
<text x="355.6" y="408.1" font-size="3.4" text-anchor="middle" fill="#555">0</text>
<text x="369.1" y="408.1" font-size="3.4" text-anchor="middle" fill="#555">10<tspan dy="-1" font-size="2.5">3</tspan></text>
<text x="392.1" y="408.1" font-size="3.4" text-anchor="middle" fill="#555">10<tspan dy="-1" font-size="2.5">4</tspan></text>
<text x="411.4" y="408.1" font-size="3.4" text-anchor="middle" fill="#555">10<tspan dy="-1" font-size="2.5">5</tspan></text>
<path d="M333.9 323.9h1.6M334.6 327.8h0.9M334.6 331.6h0.9M334.6 335.5h0.9M333.9 339.4h1.6M334.6 343.3h0.9M334.6 347.1h0.9M334.6 351.0h0.9M333.9 354.9h1.6M334.6 358.7h0.9M334.6 362.6h0.9M334.6 366.5h0.9M333.9 370.3h1.6M334.6 374.2h0.9M334.6 378.1h0.9M334.6 382.0h0.9M333.9 385.8h1.6M334.6 389.7h0.9M334.6 393.6h0.9M334.6 397.4h0.9M333.9 401.3h1.6M341.2 402.1v1.6M355.6 402.1v1.6M369.1 402.1v1.6M392.1 402.1v1.6M411.4 402.1v1.6M344.8 402.1v0.9M348.4 402.1v0.9M352.0 402.1v0.9M359.0 402.1v0.9M362.4 402.1v0.9M365.7 402.1v0.9M374.9 402.1v0.9M380.6 402.1v0.9M386.3 402.1v0.9M396.9 402.1v0.9M401.7 402.1v0.9M406.5 402.1v0.9" stroke="#444" stroke-width="0.5" fill="none"/>
<rect x="353.39" y="401.8" width="4.4" height="1.9" fill="#111" stroke="none" stroke-width="1"/>
<path d="M352.31 401.30L352.31 401.30L352.35 401.00L352.39 400.63L352.42 400.21L352.46 399.74L352.50 399.21L352.54 398.62L352.57 397.99L352.61 397.31L352.65 396.58L352.69 395.80L352.72 394.98L352.76 394.11L352.80 393.20L352.84 392.26L352.87 391.27L352.91 390.24L352.95 389.18L352.99 388.09L353.02 386.96L353.06 385.80L353.10 384.61L353.14 383.39L353.18 382.14L353.21 380.87L353.25 379.57L353.29 378.26L353.33 376.92L353.36 375.56L353.40 374.18L353.44 372.79L353.48 371.38L353.51 369.95L353.55 368.52L353.59 367.07L353.63 365.62L353.66 364.16L353.70 362.69L353.74 361.03L353.78 358.98L353.81 356.63L353.85 354.03L353.89 351.26L353.93 348.40L353.97 345.51L354.00 342.67L354.04 339.94L354.08 337.41L354.12 335.14L354.15 333.21L354.19 331.68L354.23 330.63L354.27 330.12L354.30 330.24L354.34 330.96L354.38 332.21L354.42 333.92L354.45 336.01L354.49 338.42L354.53 341.05L354.57 343.85L354.60 346.74L354.64 349.64L354.68 352.47L354.72 355.17L354.75 357.66L354.79 359.87L354.83 361.72L354.87 363.18L354.91 364.56L354.94 365.94L354.98 367.31L355.02 368.68L355.06 370.04L355.09 371.39L355.13 372.72L355.17 374.05L355.21 375.36L355.24 376.66L355.28 377.94L355.32 379.21L355.36 380.45L355.39 381.68L355.43 382.88L355.47 384.05L355.51 385.20L355.54 386.33L355.58 387.42L355.62 388.49L355.66 389.52L355.70 390.52L355.73 391.49L355.77 392.42L355.81 393.32L355.85 394.17L355.88 394.98L355.92 395.76L355.96 396.48L356.00 397.17L356.03 397.81L356.07 398.39L356.11 398.94L356.15 399.42L356.18 399.86L356.22 400.24L356.26 400.57L356.30 400.84L356.33 401.06L356.37 401.21L356.41 401.30L356.41 401.30Z" fill="#9c9c9c" stroke="#484848" stroke-width="0.6"/>
<path d="M371.58 401.30L371.58 401.30L372.00 401.21L372.42 401.09L372.84 400.95L373.27 400.79L373.69 400.62L374.11 400.42L374.53 400.21L374.95 399.98L375.37 399.74L375.79 399.49L376.21 399.22L376.64 398.95L377.06 398.67L377.48 398.38L377.90 398.08L378.32 397.76L378.74 397.41L379.16 397.04L379.58 396.63L380.01 396.21L380.43 395.75L380.85 395.28L381.27 394.78L381.69 394.26L382.11 393.73L382.53 393.17L382.95 392.60L383.38 392.01L383.80 391.40L384.22 390.78L384.64 390.15L385.06 389.50L385.48 388.85L385.90 388.16L386.32 387.42L386.75 386.64L387.17 385.82L387.59 384.97L388.01 384.07L388.43 383.15L388.85 382.20L389.27 381.22L389.70 380.21L390.12 379.19L390.54 378.15L390.96 377.09L391.38 376.01L391.80 374.92L392.22 373.80L392.64 372.65L393.07 371.46L393.49 370.25L393.91 368.99L394.33 367.70L394.75 366.37L395.17 364.99L395.59 363.56L396.01 362.08L396.44 360.55L396.86 358.96L397.28 357.23L397.70 355.25L398.12 353.10L398.54 350.86L398.96 348.62L399.38 346.45L399.81 344.44L400.23 342.68L400.65 341.10L401.07 339.54L401.49 338.04L401.91 336.63L402.33 335.32L402.76 334.15L403.18 333.15L403.60 332.35L404.02 331.63L404.44 330.94L404.86 330.29L405.28 329.73L405.70 329.30L406.13 329.02L406.55 328.93L406.97 329.19L407.39 329.84L407.81 330.83L408.23 332.10L408.65 333.58L409.07 335.21L409.50 336.94L409.92 338.81L410.34 341.41L410.76 344.66L411.18 348.35L411.60 352.26L412.02 356.19L412.44 359.93L412.87 363.45L413.29 367.14L413.71 370.88L414.13 374.51L414.55 377.86L414.97 380.76L415.39 383.25L415.81 385.58L416.24 387.74L416.66 389.68L417.08 391.37L417.50 392.79L417.50 401.30Z" fill="#f6bfc2" style="mix-blend-mode:multiply"/>
<path d="M371.58 401.30L371.58 401.30L372.00 401.21L372.42 401.09L372.84 400.95L373.27 400.79L373.69 400.62L374.11 400.42L374.53 400.21L374.95 399.98L375.37 399.74L375.79 399.49L376.21 399.22L376.64 398.95L377.06 398.67L377.48 398.38L377.90 398.08L378.32 397.76L378.74 397.41L379.16 397.04L379.58 396.63L380.01 396.21L380.43 395.75L380.85 395.28L381.27 394.78L381.69 394.26L382.11 393.73L382.53 393.17L382.95 392.60L383.38 392.01L383.80 391.40L384.22 390.78L384.64 390.15L385.06 389.50L385.48 388.85L385.90 388.16L386.32 387.42L386.75 386.64L387.17 385.82L387.59 384.97L388.01 384.07L388.43 383.15L388.85 382.20L389.27 381.22L389.70 380.21L390.12 379.19L390.54 378.15L390.96 377.09L391.38 376.01L391.80 374.92L392.22 373.80L392.64 372.65L393.07 371.46L393.49 370.25L393.91 368.99L394.33 367.70L394.75 366.37L395.17 364.99L395.59 363.56L396.01 362.08L396.44 360.55L396.86 358.96L397.28 357.23L397.70 355.25L398.12 353.10L398.54 350.86L398.96 348.62L399.38 346.45L399.81 344.44L400.23 342.68L400.65 341.10L401.07 339.54L401.49 338.04L401.91 336.63L402.33 335.32L402.76 334.15L403.18 333.15L403.60 332.35L404.02 331.63L404.44 330.94L404.86 330.29L405.28 329.73L405.70 329.30L406.13 329.02L406.55 328.93L406.97 329.19L407.39 329.84L407.81 330.83L408.23 332.10L408.65 333.58L409.07 335.21L409.50 336.94L409.92 338.81L410.34 341.41L410.76 344.66L411.18 348.35L411.60 352.26L412.02 356.19L412.44 359.93L412.87 363.45L413.29 367.14L413.71 370.88L414.13 374.51L414.55 377.86L414.97 380.76L415.39 383.25L415.81 385.58L416.24 387.74L416.66 389.68L417.08 391.37L417.50 392.79L417.50 401.30Z" fill="none" stroke="#cf3a44" stroke-width="0.8"/>
<text x="475.0" y="314.8" font-size="12.6" text-anchor="middle" fill="#111" stroke="#111" stroke-width="0.22">Patient 5</text>
<rect x="435.4" y="319.6" width="82.20000000000005" height="82.5" fill="none" stroke="#9a9a9a" stroke-width="0.7"/>
<line x1="435.4" y1="319.6" x2="435.4" y2="402.1" stroke="#333" stroke-width="0.7"/>
<line x1="435.4" y1="402.1" x2="517.6" y2="402.1" stroke="#333" stroke-width="0.7"/>
<text x="432.79999999999995" y="325.0" font-size="3.4" text-anchor="end" fill="#555">100</text>
<text x="432.79999999999995" y="340.5" font-size="3.4" text-anchor="end" fill="#555">80</text>
<text x="432.79999999999995" y="356.0" font-size="3.4" text-anchor="end" fill="#555">60</text>
<text x="432.79999999999995" y="371.4" font-size="3.4" text-anchor="end" fill="#555">40</text>
<text x="432.79999999999995" y="386.9" font-size="3.4" text-anchor="end" fill="#555">20</text>
<text x="432.79999999999995" y="402.4" font-size="3.4" text-anchor="end" fill="#555">0</text>
<text x="441.2" y="408.1" font-size="3.4" text-anchor="middle" fill="#555">-10<tspan dy="-1" font-size="2.5">3</tspan></text>
<text x="455.5" y="408.1" font-size="3.4" text-anchor="middle" fill="#555">0</text>
<text x="469.1" y="408.1" font-size="3.4" text-anchor="middle" fill="#555">10<tspan dy="-1" font-size="2.5">3</tspan></text>
<text x="492.1" y="408.1" font-size="3.4" text-anchor="middle" fill="#555">10<tspan dy="-1" font-size="2.5">4</tspan></text>
<text x="511.4" y="408.1" font-size="3.4" text-anchor="middle" fill="#555">10<tspan dy="-1" font-size="2.5">5</tspan></text>
<path d="M433.79999999999995 323.9h1.6M434.5 327.8h0.9M434.5 331.6h0.9M434.5 335.5h0.9M433.79999999999995 339.4h1.6M434.5 343.3h0.9M434.5 347.1h0.9M434.5 351.0h0.9M433.79999999999995 354.9h1.6M434.5 358.7h0.9M434.5 362.6h0.9M434.5 366.5h0.9M433.79999999999995 370.3h1.6M434.5 374.2h0.9M434.5 378.1h0.9M434.5 382.0h0.9M433.79999999999995 385.8h1.6M434.5 389.7h0.9M434.5 393.6h0.9M434.5 397.4h0.9M433.79999999999995 401.3h1.6M441.2 402.1v1.6M455.5 402.1v1.6M469.1 402.1v1.6M492.1 402.1v1.6M511.4 402.1v1.6M444.8 402.1v0.9M448.3 402.1v0.9M451.9 402.1v0.9M458.9 402.1v0.9M462.3 402.1v0.9M465.7 402.1v0.9M474.9 402.1v0.9M480.6 402.1v0.9M486.4 402.1v0.9M496.9 402.1v0.9M501.8 402.1v0.9M506.6 402.1v0.9" stroke="#444" stroke-width="0.5" fill="none"/>
<rect x="453.339" y="401.8" width="4.4" height="1.9" fill="#111" stroke="none" stroke-width="1"/>
<path d="M453.07 401.30L453.07 401.30L453.11 400.97L453.15 400.58L453.19 400.12L453.22 399.60L453.26 399.03L453.30 398.39L453.34 397.69L453.37 396.94L453.41 396.14L453.45 395.29L453.49 394.38L453.53 393.43L453.56 392.43L453.60 391.39L453.64 390.30L453.68 389.18L453.71 388.01L453.75 386.81L453.79 385.57L453.83 384.30L453.86 383.00L453.90 381.67L453.94 380.30L453.98 378.92L454.02 377.50L454.05 376.07L454.09 374.61L454.13 373.14L454.17 371.64L454.20 370.13L454.24 368.61L454.28 367.07L454.32 365.53L454.36 363.97L454.39 362.41L454.43 360.56L454.47 358.31L454.51 355.74L454.54 352.92L454.58 349.93L454.62 346.85L454.66 343.76L454.69 340.73L454.73 337.84L454.77 335.17L454.81 332.79L454.85 330.78L454.88 329.23L454.92 328.20L454.96 327.78L455.00 328.03L455.03 328.92L455.07 330.38L455.11 332.33L455.15 334.67L455.18 337.33L455.22 340.22L455.26 343.27L455.30 346.39L455.34 349.50L455.37 352.52L455.41 355.36L455.45 357.94L455.49 360.19L455.52 362.01L455.56 363.42L455.60 364.79L455.64 366.16L455.67 367.52L455.71 368.86L455.75 370.20L455.79 371.53L455.83 372.84L455.86 374.14L455.90 375.43L455.94 376.70L455.98 377.95L456.01 379.19L456.05 380.40L456.09 381.60L456.13 382.77L456.16 383.91L456.20 385.03L456.24 386.13L456.28 387.20L456.32 388.24L456.35 389.25L456.39 390.23L456.43 391.17L456.47 392.08L456.50 392.96L456.54 393.80L456.58 394.60L456.62 395.37L456.66 396.09L456.69 396.77L456.73 397.41L456.77 398.01L456.81 398.56L456.84 399.06L456.88 399.52L456.92 399.93L456.96 400.28L456.99 400.59L457.03 400.84L457.07 401.04L457.11 401.18L457.15 401.27L457.18 401.30L457.18 401.30Z" fill="#9c9c9c" stroke="#484848" stroke-width="0.6"/>
<path d="M476.50 401.30L476.50 401.30L476.86 401.05L477.23 400.80L477.59 400.54L477.96 400.27L478.32 400.01L478.69 399.73L479.05 399.45L479.41 399.17L479.78 398.88L480.14 398.58L480.51 398.28L480.87 397.98L481.24 397.67L481.60 397.36L481.96 397.05L482.33 396.75L482.69 396.46L483.06 396.17L483.42 395.89L483.78 395.60L484.15 395.31L484.51 395.02L484.88 394.71L485.24 394.40L485.61 394.07L485.97 393.73L486.33 393.37L486.70 392.99L487.06 392.59L487.43 392.16L487.79 391.70L488.16 391.21L488.52 390.69L488.88 390.13L489.25 389.54L489.61 388.82L489.98 387.95L490.34 386.94L490.71 385.81L491.07 384.57L491.43 383.21L491.80 381.76L492.16 380.22L492.53 378.61L492.89 376.93L493.26 375.20L493.62 373.42L493.98 371.61L494.35 369.77L494.71 367.91L495.08 366.04L495.44 363.91L495.80 361.47L496.17 358.80L496.53 355.99L496.90 353.14L497.26 350.32L497.63 347.63L497.99 345.15L498.35 342.96L498.72 341.17L499.08 339.66L499.45 338.13L499.81 336.63L500.18 335.19L500.54 333.82L500.90 332.58L501.27 331.49L501.63 330.59L502.00 329.90L502.36 329.47L502.73 329.32L503.09 329.46L503.45 329.85L503.82 330.47L504.18 331.28L504.55 332.27L504.91 333.40L505.28 334.65L505.64 335.99L506.00 337.40L506.37 338.84L506.73 340.41L507.10 342.49L507.46 345.03L507.82 347.94L508.19 351.11L508.55 354.45L508.92 357.87L509.28 361.27L509.65 364.55L510.01 367.63L510.37 370.40L510.74 373.02L511.10 375.67L511.47 378.33L511.83 380.95L512.20 383.50L512.56 385.96L512.92 388.29L513.29 390.46L513.65 392.44L514.02 394.20L514.38 395.72L514.75 397.10L515.11 398.36L515.47 399.49L515.84 400.48L516.20 401.30L516.20 401.30Z" fill="#f6bfc2" style="mix-blend-mode:multiply"/>
<path d="M476.50 401.30L476.50 401.30L476.86 401.05L477.23 400.80L477.59 400.54L477.96 400.27L478.32 400.01L478.69 399.73L479.05 399.45L479.41 399.17L479.78 398.88L480.14 398.58L480.51 398.28L480.87 397.98L481.24 397.67L481.60 397.36L481.96 397.05L482.33 396.75L482.69 396.46L483.06 396.17L483.42 395.89L483.78 395.60L484.15 395.31L484.51 395.02L484.88 394.71L485.24 394.40L485.61 394.07L485.97 393.73L486.33 393.37L486.70 392.99L487.06 392.59L487.43 392.16L487.79 391.70L488.16 391.21L488.52 390.69L488.88 390.13L489.25 389.54L489.61 388.82L489.98 387.95L490.34 386.94L490.71 385.81L491.07 384.57L491.43 383.21L491.80 381.76L492.16 380.22L492.53 378.61L492.89 376.93L493.26 375.20L493.62 373.42L493.98 371.61L494.35 369.77L494.71 367.91L495.08 366.04L495.44 363.91L495.80 361.47L496.17 358.80L496.53 355.99L496.90 353.14L497.26 350.32L497.63 347.63L497.99 345.15L498.35 342.96L498.72 341.17L499.08 339.66L499.45 338.13L499.81 336.63L500.18 335.19L500.54 333.82L500.90 332.58L501.27 331.49L501.63 330.59L502.00 329.90L502.36 329.47L502.73 329.32L503.09 329.46L503.45 329.85L503.82 330.47L504.18 331.28L504.55 332.27L504.91 333.40L505.28 334.65L505.64 335.99L506.00 337.40L506.37 338.84L506.73 340.41L507.10 342.49L507.46 345.03L507.82 347.94L508.19 351.11L508.55 354.45L508.92 357.87L509.28 361.27L509.65 364.55L510.01 367.63L510.37 370.40L510.74 373.02L511.10 375.67L511.47 378.33L511.83 380.95L512.20 383.50L512.56 385.96L512.92 388.29L513.29 390.46L513.65 392.44L514.02 394.20L514.38 395.72L514.75 397.10L515.11 398.36L515.47 399.49L515.84 400.48L516.20 401.30L516.20 401.30Z" fill="none" stroke="#cf3a44" stroke-width="0.8"/>
<text x="113.8" y="332.2" font-size="12.4" text-anchor="end" fill="#c42a36" stroke="#c42a36" stroke-width="0.22">Bulk</text>
<text x="210.2" y="333.2" font-size="12.4" text-anchor="end" fill="#c42a36" stroke="#c42a36" stroke-width="0.22">Bulk</text>
<text x="310.6" y="334.6" font-size="12.4" text-anchor="end" fill="#c42a36" stroke="#c42a36" stroke-width="0.22">Bulk</text>
<text x="409.6" y="332.6" font-size="12.4" text-anchor="end" fill="#c42a36" stroke="#c42a36" stroke-width="0.22">Bulk</text>
<text x="510.6" y="332.8" font-size="12.4" text-anchor="end" fill="#c42a36" stroke="#c42a36" stroke-width="0.22">Bulk</text>
<rect x="34.3" y="412.0" width="83.2" height="82.80000000000001" fill="none" stroke="#9a9a9a" stroke-width="0.7"/>
<line x1="34.3" y1="412.0" x2="34.3" y2="494.8" stroke="#333" stroke-width="0.7"/>
<line x1="34.3" y1="494.8" x2="117.5" y2="494.8" stroke="#333" stroke-width="0.7"/>
<text x="31.699999999999996" y="417.4" font-size="3.4" text-anchor="end" fill="#555">100</text>
<text x="31.699999999999996" y="432.9" font-size="3.4" text-anchor="end" fill="#555">80</text>
<text x="31.699999999999996" y="448.5" font-size="3.4" text-anchor="end" fill="#555">60</text>
<text x="31.699999999999996" y="464.0" font-size="3.4" text-anchor="end" fill="#555">40</text>
<text x="31.699999999999996" y="479.6" font-size="3.4" text-anchor="end" fill="#555">20</text>
<text x="31.699999999999996" y="495.1" font-size="3.4" text-anchor="end" fill="#555">0</text>
<text x="40.1" y="500.8" font-size="3.4" text-anchor="middle" fill="#555">-10<tspan dy="-1" font-size="2.5">3</tspan></text>
<text x="54.7" y="500.8" font-size="3.4" text-anchor="middle" fill="#555">0</text>
<text x="68.4" y="500.8" font-size="3.4" text-anchor="middle" fill="#555">10<tspan dy="-1" font-size="2.5">3</tspan></text>
<text x="91.7" y="500.8" font-size="3.4" text-anchor="middle" fill="#555">10<tspan dy="-1" font-size="2.5">4</tspan></text>
<text x="111.3" y="500.8" font-size="3.4" text-anchor="middle" fill="#555">10<tspan dy="-1" font-size="2.5">5</tspan></text>
<path d="M32.699999999999996 416.3h1.6M33.4 420.2h0.9M33.4 424.1h0.9M33.4 428.0h0.9M32.699999999999996 431.8h1.6M33.4 435.7h0.9M33.4 439.6h0.9M33.4 443.5h0.9M32.699999999999996 447.4h1.6M33.4 451.3h0.9M33.4 455.1h0.9M33.4 459.0h0.9M32.699999999999996 462.9h1.6M33.4 466.8h0.9M33.4 470.7h0.9M33.4 474.6h0.9M32.699999999999996 478.5h1.6M33.4 482.3h0.9M33.4 486.2h0.9M33.4 490.1h0.9M32.699999999999996 494.0h1.6M40.1 494.8v1.6M54.7 494.8v1.6M68.4 494.8v1.6M91.7 494.8v1.6M111.3 494.8v1.6M43.8 494.8v0.9M47.4 494.8v0.9M51.0 494.8v0.9M58.1 494.8v0.9M61.5 494.8v0.9M65.0 494.8v0.9M74.2 494.8v0.9M80.1 494.8v0.9M85.9 494.8v0.9M96.6 494.8v0.9M101.5 494.8v0.9M106.4 494.8v0.9" stroke="#444" stroke-width="0.5" fill="none"/>
<rect x="52.483999999999995" y="494.5" width="4.4" height="1.9" fill="#111" stroke="none" stroke-width="1"/>
<path d="M52.60 494.00L52.60 494.00L52.70 492.91L52.80 491.80L52.90 490.67L53.00 489.53L53.10 488.36L53.20 487.18L53.30 485.97L53.40 484.75L53.50 483.51L53.60 482.26L53.70 480.99L53.79 479.70L53.89 478.39L53.99 477.07L54.09 475.74L54.19 474.39L54.29 473.03L54.39 471.65L54.49 470.26L54.59 468.85L54.69 467.43L54.79 466.00L54.89 464.56L54.99 463.11L55.08 461.64L55.18 460.17L55.28 458.68L55.38 457.18L55.48 455.67L55.58 454.11L55.68 452.37L55.78 450.46L55.88 448.40L55.98 446.24L56.08 443.99L56.18 441.69L56.28 439.37L56.37 437.05L56.47 434.77L56.57 432.55L56.67 430.42L56.77 428.42L56.87 426.56L56.97 424.89L57.07 423.42L57.17 422.19L57.27 421.23L57.37 420.57L57.47 420.22L57.57 420.25L57.66 420.73L57.76 421.63L57.86 422.90L57.96 424.50L58.06 426.39L58.16 428.52L58.26 430.85L58.36 433.33L58.46 435.91L58.56 438.55L58.66 441.21L58.76 443.85L58.86 446.41L58.95 448.85L59.05 451.13L59.15 453.20L59.25 455.02L59.35 456.69L59.45 458.37L59.55 460.06L59.65 461.76L59.75 463.45L59.85 465.13L59.95 466.79L60.05 468.43L60.15 470.05L60.24 471.62L60.34 473.15L60.44 474.64L60.54 476.06L60.64 477.43L60.74 478.72L60.84 479.94L60.94 481.07L61.04 482.12L61.14 483.07L61.24 483.91L61.34 484.65L61.44 485.32L61.53 486.00L61.63 486.66L61.73 487.31L61.83 487.95L61.93 488.57L62.03 489.18L62.13 489.76L62.23 490.32L62.33 490.85L62.43 491.35L62.53 491.81L62.63 492.24L62.73 492.63L62.82 492.97L62.92 493.28L63.02 493.53L63.12 493.73L63.22 493.88L63.32 493.97L63.42 494.00L63.42 494.00Z" fill="#9c9c9c" stroke="#484848" stroke-width="0.6"/>
<path d="M51.77 494.00L51.77 494.00L52.32 492.95L52.86 491.34L53.41 489.29L53.96 486.91L54.50 483.61L55.05 479.44L55.59 474.65L56.14 469.50L56.68 464.26L57.23 459.19L57.78 454.24L58.32 448.19L58.87 442.03L59.41 437.16L59.96 434.97L60.50 434.99L61.05 435.11L61.60 435.30L62.14 435.55L62.69 435.84L63.23 436.17L63.78 436.52L64.32 437.09L64.87 437.92L65.42 438.77L65.96 439.42L66.51 439.71L67.05 439.85L67.60 439.94L68.14 440.02L68.69 440.12L69.24 440.28L69.78 440.90L70.33 443.53L70.87 447.43L71.42 451.51L71.97 454.70L72.51 455.93L73.06 455.53L73.60 454.57L74.15 453.29L74.69 451.93L75.24 450.68L75.79 449.29L76.33 447.74L76.88 446.08L77.42 444.38L77.97 442.68L78.51 441.05L79.06 439.55L79.61 438.21L80.15 437.11L80.70 436.07L81.24 435.01L81.79 433.97L82.33 433.00L82.88 432.11L83.43 431.37L83.97 430.79L84.52 430.41L85.06 430.29L85.61 430.32L86.15 430.42L86.70 430.58L87.25 430.80L87.79 431.06L88.34 431.38L88.88 431.73L89.43 432.13L89.98 432.56L90.52 433.17L91.07 434.16L91.61 435.48L92.16 437.06L92.70 438.84L93.25 440.75L93.80 442.75L94.34 445.21L94.89 448.36L95.43 451.92L95.98 455.62L96.52 459.18L97.07 462.33L97.62 464.81L98.16 466.87L98.71 468.77L99.25 470.54L99.80 472.18L100.34 473.72L100.89 475.18L101.44 476.58L101.98 477.93L102.53 479.25L103.07 480.54L103.62 481.80L104.17 483.02L104.71 484.19L105.26 485.32L105.80 486.39L106.35 487.40L106.89 488.34L107.44 489.22L107.99 490.04L108.53 490.82L109.08 491.56L109.62 492.25L110.17 492.89L110.71 493.47L111.26 494.00L111.26 494.00Z" fill="#f6bfc2" style="mix-blend-mode:multiply"/>
<path d="M51.77 494.00L51.77 494.00L52.32 492.95L52.86 491.34L53.41 489.29L53.96 486.91L54.50 483.61L55.05 479.44L55.59 474.65L56.14 469.50L56.68 464.26L57.23 459.19L57.78 454.24L58.32 448.19L58.87 442.03L59.41 437.16L59.96 434.97L60.50 434.99L61.05 435.11L61.60 435.30L62.14 435.55L62.69 435.84L63.23 436.17L63.78 436.52L64.32 437.09L64.87 437.92L65.42 438.77L65.96 439.42L66.51 439.71L67.05 439.85L67.60 439.94L68.14 440.02L68.69 440.12L69.24 440.28L69.78 440.90L70.33 443.53L70.87 447.43L71.42 451.51L71.97 454.70L72.51 455.93L73.06 455.53L73.60 454.57L74.15 453.29L74.69 451.93L75.24 450.68L75.79 449.29L76.33 447.74L76.88 446.08L77.42 444.38L77.97 442.68L78.51 441.05L79.06 439.55L79.61 438.21L80.15 437.11L80.70 436.07L81.24 435.01L81.79 433.97L82.33 433.00L82.88 432.11L83.43 431.37L83.97 430.79L84.52 430.41L85.06 430.29L85.61 430.32L86.15 430.42L86.70 430.58L87.25 430.80L87.79 431.06L88.34 431.38L88.88 431.73L89.43 432.13L89.98 432.56L90.52 433.17L91.07 434.16L91.61 435.48L92.16 437.06L92.70 438.84L93.25 440.75L93.80 442.75L94.34 445.21L94.89 448.36L95.43 451.92L95.98 455.62L96.52 459.18L97.07 462.33L97.62 464.81L98.16 466.87L98.71 468.77L99.25 470.54L99.80 472.18L100.34 473.72L100.89 475.18L101.44 476.58L101.98 477.93L102.53 479.25L103.07 480.54L103.62 481.80L104.17 483.02L104.71 484.19L105.26 485.32L105.80 486.39L106.35 487.40L106.89 488.34L107.44 489.22L107.99 490.04L108.53 490.82L109.08 491.56L109.62 492.25L110.17 492.89L110.71 493.47L111.26 494.00L111.26 494.00Z" fill="none" stroke="#cf3a44" stroke-width="0.8"/>
<rect x="130.5" y="412.0" width="84.0" height="82.80000000000001" fill="none" stroke="#9a9a9a" stroke-width="0.7"/>
<line x1="130.5" y1="412.0" x2="130.5" y2="494.8" stroke="#333" stroke-width="0.7"/>
<line x1="130.5" y1="494.8" x2="214.5" y2="494.8" stroke="#333" stroke-width="0.7"/>
<text x="127.9" y="417.4" font-size="3.4" text-anchor="end" fill="#555">100</text>
<text x="127.9" y="432.9" font-size="3.4" text-anchor="end" fill="#555">80</text>
<text x="127.9" y="448.5" font-size="3.4" text-anchor="end" fill="#555">60</text>
<text x="127.9" y="464.0" font-size="3.4" text-anchor="end" fill="#555">40</text>
<text x="127.9" y="479.6" font-size="3.4" text-anchor="end" fill="#555">20</text>
<text x="127.9" y="495.1" font-size="3.4" text-anchor="end" fill="#555">0</text>
<text x="136.4" y="500.8" font-size="3.4" text-anchor="middle" fill="#555">-10<tspan dy="-1" font-size="2.5">3</tspan></text>
<text x="151.1" y="500.8" font-size="3.4" text-anchor="middle" fill="#555">0</text>
<text x="164.9" y="500.8" font-size="3.4" text-anchor="middle" fill="#555">10<tspan dy="-1" font-size="2.5">3</tspan></text>
<text x="188.5" y="500.8" font-size="3.4" text-anchor="middle" fill="#555">10<tspan dy="-1" font-size="2.5">4</tspan></text>
<text x="208.2" y="500.8" font-size="3.4" text-anchor="middle" fill="#555">10<tspan dy="-1" font-size="2.5">5</tspan></text>
<path d="M128.9 416.3h1.6M129.6 420.2h0.9M129.6 424.1h0.9M129.6 428.0h0.9M128.9 431.8h1.6M129.6 435.7h0.9M129.6 439.6h0.9M129.6 443.5h0.9M128.9 447.4h1.6M129.6 451.3h0.9M129.6 455.1h0.9M129.6 459.0h0.9M128.9 462.9h1.6M129.6 466.8h0.9M129.6 470.7h0.9M129.6 474.6h0.9M128.9 478.5h1.6M129.6 482.3h0.9M129.6 486.2h0.9M129.6 490.1h0.9M128.9 494.0h1.6M136.4 494.8v1.6M151.1 494.8v1.6M164.9 494.8v1.6M188.5 494.8v1.6M208.2 494.8v1.6M140.1 494.8v0.9M143.7 494.8v0.9M147.4 494.8v0.9M154.5 494.8v0.9M158.0 494.8v0.9M161.5 494.8v0.9M170.8 494.8v0.9M176.7 494.8v0.9M182.6 494.8v0.9M193.4 494.8v0.9M198.3 494.8v0.9M203.3 494.8v0.9" stroke="#444" stroke-width="0.5" fill="none"/>
<rect x="148.88" y="494.5" width="4.4" height="1.9" fill="#111" stroke="none" stroke-width="1"/>
<path d="M145.20 494.00L145.20 494.00L145.40 493.83L145.59 493.61L145.79 493.35L145.99 493.04L146.18 492.70L146.38 492.31L146.58 491.89L146.77 491.44L146.97 490.95L147.17 490.43L147.36 489.89L147.56 489.32L147.75 488.73L147.95 488.12L148.15 487.49L148.34 486.85L148.54 486.19L148.74 485.52L148.93 484.84L149.13 484.13L149.33 483.37L149.52 482.55L149.72 481.68L149.92 480.74L150.11 479.76L150.31 478.73L150.51 477.64L150.70 476.51L150.90 475.34L151.10 474.12L151.29 472.86L151.49 471.56L151.68 470.22L151.88 468.85L152.08 467.45L152.27 466.01L152.47 464.54L152.67 463.05L152.86 461.53L153.06 459.98L153.26 458.40L153.45 456.64L153.65 454.69L153.85 452.59L154.04 450.37L154.24 448.07L154.44 445.72L154.63 443.37L154.83 441.03L155.03 438.75L155.22 436.56L155.42 434.50L155.62 432.60L155.81 430.83L156.01 428.93L156.20 426.96L156.40 425.01L156.60 423.16L156.79 421.52L156.99 420.16L157.19 419.18L157.38 418.68L157.58 418.70L157.78 419.11L157.97 419.86L158.17 420.90L158.37 422.18L158.56 423.67L158.76 425.32L158.96 427.08L159.15 428.90L159.35 430.76L159.55 432.60L159.74 434.37L159.94 436.05L160.14 437.77L160.33 439.62L160.53 441.58L160.72 443.63L160.92 445.76L161.12 447.94L161.31 450.16L161.51 452.40L161.71 454.65L161.90 456.89L162.10 459.10L162.30 461.27L162.49 463.38L162.69 465.40L162.89 467.34L163.08 469.16L163.28 470.85L163.48 472.47L163.67 474.07L163.87 475.64L164.07 477.18L164.26 478.69L164.46 480.17L164.65 481.62L164.85 483.03L165.05 484.41L165.24 485.75L165.44 487.05L165.64 488.32L165.83 489.54L166.03 490.72L166.23 491.86L166.42 492.95L166.62 494.00L166.62 494.00Z" fill="#9c9c9c" stroke="#484848" stroke-width="0.6"/>
<path d="M154.86 494.00L154.86 494.00L155.21 493.17L155.55 492.25L155.90 491.23L156.25 490.12L156.59 488.92L156.94 487.64L157.29 486.30L157.63 484.88L157.98 483.40L158.33 481.86L158.67 480.28L159.02 478.64L159.37 476.90L159.72 474.93L160.06 472.79L160.41 470.49L160.76 468.05L161.10 465.52L161.45 462.91L161.80 460.26L162.14 457.59L162.49 454.93L162.84 452.30L163.18 449.74L163.53 447.27L163.88 444.93L164.22 442.71L164.57 440.41L164.92 438.03L165.26 435.63L165.61 433.26L165.96 431.01L166.30 428.93L166.65 427.08L167.00 425.54L167.34 424.37L167.69 423.53L168.04 422.74L168.38 422.01L168.73 421.36L169.08 420.83L169.43 420.44L169.77 420.22L170.12 420.21L170.47 420.52L170.81 421.13L171.16 421.99L171.51 423.05L171.85 424.28L172.20 425.62L172.55 427.04L172.89 428.47L173.24 429.89L173.59 431.32L173.93 432.98L174.28 434.85L174.63 436.88L174.97 439.03L175.32 441.27L175.67 443.57L176.01 445.87L176.36 448.14L176.71 450.35L177.05 452.45L177.40 454.41L177.75 456.23L178.09 458.03L178.44 459.83L178.79 461.60L179.14 463.35L179.48 465.05L179.83 466.71L180.18 468.32L180.52 469.85L180.87 471.31L181.22 472.69L181.56 473.96L181.91 475.14L182.26 476.29L182.60 477.42L182.95 478.51L183.30 479.58L183.64 480.61L183.99 481.60L184.34 482.55L184.68 483.46L185.03 484.32L185.38 485.12L185.72 485.87L186.07 486.57L186.42 487.20L186.76 487.76L187.11 488.29L187.46 488.81L187.80 489.32L188.15 489.82L188.50 490.30L188.85 490.77L189.19 491.22L189.54 491.64L189.89 492.04L190.23 492.41L190.58 492.75L190.93 493.06L191.27 493.33L191.62 493.56L191.97 493.75L192.31 493.90L192.66 494.00L192.66 494.00Z" fill="#f6bfc2" style="mix-blend-mode:multiply"/>
<path d="M154.86 494.00L154.86 494.00L155.21 493.17L155.55 492.25L155.90 491.23L156.25 490.12L156.59 488.92L156.94 487.64L157.29 486.30L157.63 484.88L157.98 483.40L158.33 481.86L158.67 480.28L159.02 478.64L159.37 476.90L159.72 474.93L160.06 472.79L160.41 470.49L160.76 468.05L161.10 465.52L161.45 462.91L161.80 460.26L162.14 457.59L162.49 454.93L162.84 452.30L163.18 449.74L163.53 447.27L163.88 444.93L164.22 442.71L164.57 440.41L164.92 438.03L165.26 435.63L165.61 433.26L165.96 431.01L166.30 428.93L166.65 427.08L167.00 425.54L167.34 424.37L167.69 423.53L168.04 422.74L168.38 422.01L168.73 421.36L169.08 420.83L169.43 420.44L169.77 420.22L170.12 420.21L170.47 420.52L170.81 421.13L171.16 421.99L171.51 423.05L171.85 424.28L172.20 425.62L172.55 427.04L172.89 428.47L173.24 429.89L173.59 431.32L173.93 432.98L174.28 434.85L174.63 436.88L174.97 439.03L175.32 441.27L175.67 443.57L176.01 445.87L176.36 448.14L176.71 450.35L177.05 452.45L177.40 454.41L177.75 456.23L178.09 458.03L178.44 459.83L178.79 461.60L179.14 463.35L179.48 465.05L179.83 466.71L180.18 468.32L180.52 469.85L180.87 471.31L181.22 472.69L181.56 473.96L181.91 475.14L182.26 476.29L182.60 477.42L182.95 478.51L183.30 479.58L183.64 480.61L183.99 481.60L184.34 482.55L184.68 483.46L185.03 484.32L185.38 485.12L185.72 485.87L186.07 486.57L186.42 487.20L186.76 487.76L187.11 488.29L187.46 488.81L187.80 489.32L188.15 489.82L188.50 490.30L188.85 490.77L189.19 491.22L189.54 491.64L189.89 492.04L190.23 492.41L190.58 492.75L190.93 493.06L191.27 493.33L191.62 493.56L191.97 493.75L192.31 493.90L192.66 494.00L192.66 494.00Z" fill="none" stroke="#cf3a44" stroke-width="0.8"/>
<rect x="231.3" y="412.0" width="83.19999999999999" height="82.80000000000001" fill="none" stroke="#9a9a9a" stroke-width="0.7"/>
<line x1="231.3" y1="412.0" x2="231.3" y2="494.8" stroke="#333" stroke-width="0.7"/>
<line x1="231.3" y1="494.8" x2="314.5" y2="494.8" stroke="#333" stroke-width="0.7"/>
<text x="228.70000000000002" y="417.4" font-size="3.4" text-anchor="end" fill="#555">100</text>
<text x="228.70000000000002" y="432.9" font-size="3.4" text-anchor="end" fill="#555">80</text>
<text x="228.70000000000002" y="448.5" font-size="3.4" text-anchor="end" fill="#555">60</text>
<text x="228.70000000000002" y="464.0" font-size="3.4" text-anchor="end" fill="#555">40</text>
<text x="228.70000000000002" y="479.6" font-size="3.4" text-anchor="end" fill="#555">20</text>
<text x="228.70000000000002" y="495.1" font-size="3.4" text-anchor="end" fill="#555">0</text>
<text x="237.1" y="500.8" font-size="3.4" text-anchor="middle" fill="#555">-10<tspan dy="-1" font-size="2.5">3</tspan></text>
<text x="251.7" y="500.8" font-size="3.4" text-anchor="middle" fill="#555">0</text>
<text x="265.4" y="500.8" font-size="3.4" text-anchor="middle" fill="#555">10<tspan dy="-1" font-size="2.5">3</tspan></text>
<text x="288.7" y="500.8" font-size="3.4" text-anchor="middle" fill="#555">10<tspan dy="-1" font-size="2.5">4</tspan></text>
<text x="308.3" y="500.8" font-size="3.4" text-anchor="middle" fill="#555">10<tspan dy="-1" font-size="2.5">5</tspan></text>
<path d="M229.70000000000002 416.3h1.6M230.4 420.2h0.9M230.4 424.1h0.9M230.4 428.0h0.9M229.70000000000002 431.8h1.6M230.4 435.7h0.9M230.4 439.6h0.9M230.4 443.5h0.9M229.70000000000002 447.4h1.6M230.4 451.3h0.9M230.4 455.1h0.9M230.4 459.0h0.9M229.70000000000002 462.9h1.6M230.4 466.8h0.9M230.4 470.7h0.9M230.4 474.6h0.9M229.70000000000002 478.5h1.6M230.4 482.3h0.9M230.4 486.2h0.9M230.4 490.1h0.9M229.70000000000002 494.0h1.6M237.1 494.8v1.6M251.7 494.8v1.6M265.4 494.8v1.6M288.7 494.8v1.6M308.3 494.8v1.6M240.8 494.8v0.9M244.4 494.8v0.9M248.0 494.8v0.9M255.1 494.8v0.9M258.5 494.8v0.9M262.0 494.8v0.9M271.2 494.8v0.9M277.1 494.8v0.9M282.9 494.8v0.9M293.6 494.8v0.9M298.5 494.8v0.9M303.4 494.8v0.9" stroke="#444" stroke-width="0.5" fill="none"/>
<rect x="249.484" y="494.5" width="4.4" height="1.9" fill="#111" stroke="none" stroke-width="1"/>
<path d="M248.77 494.00L248.77 494.00L248.80 493.04L248.83 492.06L248.86 491.07L248.89 490.06L248.92 489.03L248.96 487.98L248.99 486.92L249.02 485.84L249.05 484.75L249.08 483.64L249.11 482.52L249.14 481.38L249.17 480.22L249.20 479.06L249.23 477.88L249.26 476.68L249.29 475.47L249.32 474.25L249.35 473.02L249.38 471.77L249.41 470.51L249.44 469.24L249.47 467.96L249.50 466.67L249.54 465.37L249.57 464.06L249.60 462.73L249.63 461.40L249.66 460.06L249.69 458.70L249.72 457.34L249.75 455.97L249.78 454.60L249.81 453.21L249.84 451.82L249.87 450.42L249.90 449.01L249.93 447.59L249.96 446.10L249.99 444.42L250.02 442.58L250.05 440.61L250.08 438.55L250.12 436.41L250.15 434.24L250.18 432.06L250.21 429.91L250.24 427.81L250.27 425.79L250.30 423.89L250.33 422.13L250.36 420.54L250.39 419.16L250.42 418.02L250.45 417.14L250.48 416.56L250.51 416.31L250.54 416.40L250.57 416.83L250.60 417.55L250.63 418.55L250.66 419.80L250.70 421.26L250.73 422.90L250.76 424.71L250.79 426.65L250.82 428.68L250.85 430.80L250.88 432.95L250.91 435.13L250.94 437.29L250.97 439.41L251.00 441.46L251.03 443.41L251.06 445.24L251.09 446.91L251.12 448.45L251.15 449.97L251.18 451.49L251.21 453.01L251.25 454.51L251.28 456.02L251.31 457.51L251.34 459.00L251.37 460.49L251.40 461.97L251.43 463.44L251.46 464.91L251.49 466.37L251.52 467.82L251.55 469.27L251.58 470.71L251.61 472.14L251.64 473.57L251.67 474.99L251.70 476.40L251.73 477.80L251.76 479.20L251.79 480.58L251.83 481.96L251.86 483.34L251.89 484.70L251.92 486.05L251.95 487.40L251.98 488.74L252.01 490.07L252.04 491.39L252.07 492.70L252.10 494.00L252.10 494.00Z" fill="#9c9c9c" stroke="#484848" stroke-width="0.6"/>
<path d="M248.77 494.00L248.77 494.00L249.25 469.26L249.73 454.83L250.20 448.39L250.68 449.53L251.16 471.07L251.63 489.03L252.11 490.04L252.59 490.65L253.07 491.11L253.54 491.42L254.02 491.60L254.50 491.67L254.97 491.67L255.45 491.67L255.93 491.67L256.41 491.67L256.88 491.67L257.36 491.67L257.84 491.67L258.31 491.67L258.79 491.67L259.27 491.67L259.74 491.67L260.22 491.67L260.70 491.67L261.18 491.67L261.65 491.67L262.13 491.67L262.61 491.67L263.08 491.67L263.56 491.67L264.04 491.67L264.52 491.67L264.99 491.66L265.47 491.61L265.95 491.54L266.42 491.45L266.90 491.32L267.38 491.17L267.85 491.00L268.33 490.82L268.81 490.61L269.29 490.38L269.76 490.15L270.24 489.90L270.72 489.63L271.19 489.36L271.67 489.01L272.15 488.52L272.63 487.90L273.10 487.21L273.58 486.47L274.06 485.73L274.53 485.01L275.01 484.36L275.49 483.80L275.96 483.33L276.44 482.91L276.92 482.53L277.40 482.16L277.87 481.77L278.35 481.36L278.83 480.89L279.30 480.34L279.78 479.68L280.26 478.83L280.74 477.80L281.21 476.64L281.69 475.41L282.17 474.13L282.64 472.87L283.12 471.62L283.60 470.23L284.07 468.75L284.55 467.24L285.03 465.79L285.51 464.47L285.98 463.36L286.46 462.48L286.94 461.61L287.41 460.79L287.89 460.05L288.37 459.48L288.85 459.12L289.32 459.04L289.80 459.17L290.28 459.46L290.75 459.87L291.23 460.37L291.71 460.95L292.18 461.58L292.66 462.54L293.14 463.86L293.62 465.44L294.09 467.22L294.57 469.10L295.05 471.01L295.52 472.88L296.00 474.98L296.48 477.31L296.96 479.75L297.43 482.19L297.91 484.51L298.39 486.61L298.86 488.39L299.34 490.00L299.82 491.47L300.29 492.81L300.77 494.00L300.77 494.00Z" fill="#f6bfc2" style="mix-blend-mode:multiply"/>
<path d="M248.77 494.00L248.77 494.00L249.25 469.26L249.73 454.83L250.20 448.39L250.68 449.53L251.16 471.07L251.63 489.03L252.11 490.04L252.59 490.65L253.07 491.11L253.54 491.42L254.02 491.60L254.50 491.67L254.97 491.67L255.45 491.67L255.93 491.67L256.41 491.67L256.88 491.67L257.36 491.67L257.84 491.67L258.31 491.67L258.79 491.67L259.27 491.67L259.74 491.67L260.22 491.67L260.70 491.67L261.18 491.67L261.65 491.67L262.13 491.67L262.61 491.67L263.08 491.67L263.56 491.67L264.04 491.67L264.52 491.67L264.99 491.66L265.47 491.61L265.95 491.54L266.42 491.45L266.90 491.32L267.38 491.17L267.85 491.00L268.33 490.82L268.81 490.61L269.29 490.38L269.76 490.15L270.24 489.90L270.72 489.63L271.19 489.36L271.67 489.01L272.15 488.52L272.63 487.90L273.10 487.21L273.58 486.47L274.06 485.73L274.53 485.01L275.01 484.36L275.49 483.80L275.96 483.33L276.44 482.91L276.92 482.53L277.40 482.16L277.87 481.77L278.35 481.36L278.83 480.89L279.30 480.34L279.78 479.68L280.26 478.83L280.74 477.80L281.21 476.64L281.69 475.41L282.17 474.13L282.64 472.87L283.12 471.62L283.60 470.23L284.07 468.75L284.55 467.24L285.03 465.79L285.51 464.47L285.98 463.36L286.46 462.48L286.94 461.61L287.41 460.79L287.89 460.05L288.37 459.48L288.85 459.12L289.32 459.04L289.80 459.17L290.28 459.46L290.75 459.87L291.23 460.37L291.71 460.95L292.18 461.58L292.66 462.54L293.14 463.86L293.62 465.44L294.09 467.22L294.57 469.10L295.05 471.01L295.52 472.88L296.00 474.98L296.48 477.31L296.96 479.75L297.43 482.19L297.91 484.51L298.39 486.61L298.86 488.39L299.34 490.00L299.82 491.47L300.29 492.81L300.77 494.00L300.77 494.00Z" fill="none" stroke="#cf3a44" stroke-width="0.8"/>
<text x="108.6" y="423.7" font-size="11.2" text-anchor="end" fill="#c42a36" stroke="#c42a36" stroke-width="0.22">CD34</text>
<text x="109.1" y="419.6" font-size="8.4" fill="#c42a36">+</text>
<text x="110.2" y="437.5" font-size="11.2" text-anchor="end" fill="#c42a36" stroke="#c42a36" stroke-width="0.22">CD38</text>
<text x="110.7" y="432.4" font-size="8" fill="#c42a36">&#8211;</text>
<text x="203.8" y="423.7" font-size="11.2" text-anchor="end" fill="#c42a36" stroke="#c42a36" stroke-width="0.22">CD34</text>
<text x="204.3" y="419.6" font-size="8.4" fill="#c42a36">+</text>
<text x="205.0" y="437.5" font-size="11.2" text-anchor="end" fill="#c42a36" stroke="#c42a36" stroke-width="0.22">CD38</text>
<text x="205.5" y="432.4" font-size="8" fill="#c42a36">&#8211;</text>
<text x="303.0" y="423.7" font-size="11.2" text-anchor="end" fill="#c42a36" stroke="#c42a36" stroke-width="0.22">CD34</text>
<text x="303.5" y="419.6" font-size="8.4" fill="#c42a36">+</text>
<text x="303.8" y="437.5" font-size="11.2" text-anchor="end" fill="#c42a36" stroke="#c42a36" stroke-width="0.22">CD38</text>
<text x="304.3" y="432.4" font-size="8" fill="#c42a36">&#8211;</text>
<text x="23.2" y="459.2" font-size="11.4" text-anchor="middle" fill="#111" stroke="#111" stroke-width="0.22" transform="rotate(-90 23.2 459.2)">% Max</text>
<path d="M18.7 489.5 V508.7 H37.5" fill="none" stroke="#111" stroke-width="1.0"/>
<path d="M16.099999999999998 490.0 L18.7 485.5 L21.3 490.0Z" fill="#111"/>
<path d="M37.0 506.09999999999997 L41.5 508.7 L37.0 511.3Z" fill="#111"/>
<text x="48.7" y="516.3" font-size="11.3" fill="#111" stroke="#111" stroke-width="0.22">MSLN</text>
<line x1="365.8" y1="451.5" x2="383.8" y2="451.5" stroke="#d0202a" stroke-width="2"/>
<line x1="365.8" y1="463" x2="383.8" y2="463" stroke="#444" stroke-width="2"/>
<text x="390.5" y="455.2" font-size="11.3" fill="#222" stroke="#222" stroke-width="0.22">Anti-MSLN</text>
<text x="390.5" y="466.7" font-size="11.3" fill="#222" stroke="#222" stroke-width="0.22">Isotype control</text>
<text x="224.3" y="522" font-size="12.5" text-anchor="middle" font-weight="bold" fill="#111">Normal bone marrow</text>
<line x1="33.3" y1="527" x2="411.3" y2="527" stroke="#111" stroke-width="1.4"/>
<rect x="34.3" y="531.3" width="82.0" height="81.70000000000005" fill="none" stroke="#9a9a9a" stroke-width="0.7"/>
<line x1="34.3" y1="531.3" x2="34.3" y2="613.0" stroke="#333" stroke-width="0.7"/>
<line x1="34.3" y1="613.0" x2="116.3" y2="613.0" stroke="#333" stroke-width="0.7"/>
<text x="31.699999999999996" y="536.7" font-size="3.4" text-anchor="end" fill="#555">100</text>
<text x="31.699999999999996" y="552.0" font-size="3.4" text-anchor="end" fill="#555">80</text>
<text x="31.699999999999996" y="567.3" font-size="3.4" text-anchor="end" fill="#555">60</text>
<text x="31.699999999999996" y="582.7" font-size="3.4" text-anchor="end" fill="#555">40</text>
<text x="31.699999999999996" y="598.0" font-size="3.4" text-anchor="end" fill="#555">20</text>
<text x="31.699999999999996" y="613.3" font-size="3.4" text-anchor="end" fill="#555">0</text>
<text x="40.0" y="619.0" font-size="3.4" text-anchor="middle" fill="#555">-10<tspan dy="-1" font-size="2.5">3</tspan></text>
<text x="54.4" y="619.0" font-size="3.4" text-anchor="middle" fill="#555">0</text>
<text x="67.9" y="619.0" font-size="3.4" text-anchor="middle" fill="#555">10<tspan dy="-1" font-size="2.5">3</tspan></text>
<text x="90.9" y="619.0" font-size="3.4" text-anchor="middle" fill="#555">10<tspan dy="-1" font-size="2.5">4</tspan></text>
<text x="110.2" y="619.0" font-size="3.4" text-anchor="middle" fill="#555">10<tspan dy="-1" font-size="2.5">5</tspan></text>
<path d="M32.699999999999996 535.6h1.6M33.4 539.4h0.9M33.4 543.3h0.9M33.4 547.1h0.9M32.699999999999996 550.9h1.6M33.4 554.8h0.9M33.4 558.6h0.9M33.4 562.4h0.9M32.699999999999996 566.2h1.6M33.4 570.1h0.9M33.4 573.9h0.9M33.4 577.7h0.9M32.699999999999996 581.6h1.6M33.4 585.4h0.9M33.4 589.2h0.9M33.4 593.0h0.9M32.699999999999996 596.9h1.6M33.4 600.7h0.9M33.4 604.5h0.9M33.4 608.4h0.9M32.699999999999996 612.2h1.6M40.0 613.0v1.6M54.4 613.0v1.6M67.9 613.0v1.6M90.9 613.0v1.6M110.2 613.0v1.6M43.6 613.0v0.9M47.2 613.0v0.9M50.8 613.0v0.9M57.8 613.0v0.9M61.2 613.0v0.9M64.5 613.0v0.9M73.7 613.0v0.9M79.4 613.0v0.9M85.1 613.0v0.9M95.7 613.0v0.9M100.5 613.0v0.9M105.3 613.0v0.9" stroke="#444" stroke-width="0.5" fill="none"/>
<rect x="52.19" y="612.7" width="4.4" height="1.9" fill="#111" stroke="none" stroke-width="1"/>
<path d="M48.24 612.20L48.24 612.20L48.36 611.94L48.48 611.63L48.60 611.25L48.72 610.81L48.84 610.32L48.96 609.77L49.08 609.17L49.20 608.52L49.32 607.82L49.44 607.08L49.56 606.29L49.68 605.46L49.80 604.59L49.93 603.69L50.05 602.75L50.17 601.78L50.29 600.77L50.41 599.74L50.53 598.68L50.65 597.60L50.77 596.50L50.89 595.37L51.01 594.23L51.13 593.07L51.25 591.90L51.37 590.71L51.49 589.52L51.61 588.24L51.73 586.70L51.85 584.90L51.97 582.89L52.09 580.69L52.21 578.32L52.33 575.81L52.45 573.19L52.57 570.49L52.69 567.73L52.81 564.94L52.93 562.15L53.05 559.38L53.18 556.66L53.30 554.02L53.42 551.49L53.54 549.09L53.66 546.85L53.78 544.80L53.90 542.96L54.02 541.37L54.14 540.04L54.26 539.01L54.38 538.30L54.50 537.94L54.62 537.96L54.74 538.36L54.86 539.13L54.98 540.22L55.10 541.60L55.22 543.25L55.34 545.14L55.46 547.23L55.58 549.48L55.70 551.88L55.82 554.39L55.94 556.97L56.06 559.61L56.18 562.25L56.30 564.89L56.42 567.47L56.55 569.98L56.67 572.37L56.79 574.63L56.91 576.72L57.03 578.60L57.15 580.25L57.27 581.64L57.39 582.90L57.51 584.15L57.63 585.39L57.75 586.62L57.87 587.84L57.99 589.05L58.11 590.25L58.23 591.43L58.35 592.59L58.47 593.73L58.59 594.86L58.71 595.96L58.83 597.05L58.95 598.10L59.07 599.14L59.19 600.14L59.31 601.12L59.43 602.07L59.55 602.99L59.67 603.88L59.80 604.74L59.92 605.56L60.04 606.34L60.16 607.09L60.28 607.80L60.40 608.47L60.52 609.09L60.64 609.68L60.76 610.21L60.88 610.71L61.00 611.16L61.12 611.55L61.24 611.90L61.36 612.20L61.36 612.20Z" fill="#9c9c9c" stroke="#484848" stroke-width="0.6"/>
<path d="M48.24 612.20L48.24 612.20L48.36 611.88L48.48 611.49L48.60 611.05L48.72 610.55L48.84 609.99L48.96 609.39L49.08 608.73L49.20 608.02L49.32 607.27L49.44 606.47L49.56 605.63L49.68 604.75L49.80 603.83L49.93 602.87L50.05 601.88L50.17 600.86L50.29 599.80L50.41 598.72L50.53 597.61L50.65 596.48L50.77 595.32L50.89 594.14L51.01 592.94L51.13 591.73L51.25 590.50L51.37 589.26L51.49 588.00L51.61 586.66L51.73 585.06L51.85 583.21L51.97 581.15L52.09 578.89L52.21 576.48L52.33 573.92L52.45 571.26L52.57 568.52L52.69 565.72L52.81 562.89L52.93 560.07L53.05 557.27L53.18 554.52L53.30 551.86L53.42 549.30L53.54 546.88L53.66 544.62L53.78 542.55L53.90 540.70L54.02 539.09L54.14 537.75L54.26 536.72L54.38 536.00L54.50 535.64L54.62 535.67L54.74 536.12L54.86 536.97L54.98 538.18L55.10 539.72L55.22 541.55L55.34 543.64L55.46 545.95L55.58 548.44L55.70 551.09L55.82 553.85L55.94 556.69L56.06 559.58L56.18 562.48L56.30 565.35L56.42 568.16L56.55 570.87L56.67 573.46L56.79 575.87L56.91 578.09L57.03 580.07L57.15 581.77L57.27 583.17L57.39 584.42L57.51 585.67L57.63 586.91L57.75 588.14L57.87 589.37L57.99 590.58L58.11 591.78L58.23 592.96L58.35 594.12L58.47 595.27L58.59 596.39L58.71 597.50L58.83 598.57L58.95 599.62L59.07 600.65L59.19 601.64L59.31 602.60L59.43 603.53L59.55 604.42L59.67 605.27L59.80 606.08L59.92 606.85L60.04 607.58L60.16 608.26L60.28 608.90L60.40 609.49L60.52 610.02L60.64 610.51L60.76 610.94L60.88 611.31L61.00 611.62L61.12 611.88L61.24 612.07L61.36 612.20L61.36 612.20Z" fill="#f6bfc2" style="mix-blend-mode:multiply"/>
<path d="M48.24 612.20L48.24 612.20L48.36 611.88L48.48 611.49L48.60 611.05L48.72 610.55L48.84 609.99L48.96 609.39L49.08 608.73L49.20 608.02L49.32 607.27L49.44 606.47L49.56 605.63L49.68 604.75L49.80 603.83L49.93 602.87L50.05 601.88L50.17 600.86L50.29 599.80L50.41 598.72L50.53 597.61L50.65 596.48L50.77 595.32L50.89 594.14L51.01 592.94L51.13 591.73L51.25 590.50L51.37 589.26L51.49 588.00L51.61 586.66L51.73 585.06L51.85 583.21L51.97 581.15L52.09 578.89L52.21 576.48L52.33 573.92L52.45 571.26L52.57 568.52L52.69 565.72L52.81 562.89L52.93 560.07L53.05 557.27L53.18 554.52L53.30 551.86L53.42 549.30L53.54 546.88L53.66 544.62L53.78 542.55L53.90 540.70L54.02 539.09L54.14 537.75L54.26 536.72L54.38 536.00L54.50 535.64L54.62 535.67L54.74 536.12L54.86 536.97L54.98 538.18L55.10 539.72L55.22 541.55L55.34 543.64L55.46 545.95L55.58 548.44L55.70 551.09L55.82 553.85L55.94 556.69L56.06 559.58L56.18 562.48L56.30 565.35L56.42 568.16L56.55 570.87L56.67 573.46L56.79 575.87L56.91 578.09L57.03 580.07L57.15 581.77L57.27 583.17L57.39 584.42L57.51 585.67L57.63 586.91L57.75 588.14L57.87 589.37L57.99 590.58L58.11 591.78L58.23 592.96L58.35 594.12L58.47 595.27L58.59 596.39L58.71 597.50L58.83 598.57L58.95 599.62L59.07 600.65L59.19 601.64L59.31 602.60L59.43 603.53L59.55 604.42L59.67 605.27L59.80 606.08L59.92 606.85L60.04 607.58L60.16 608.26L60.28 608.90L60.40 609.49L60.52 610.02L60.64 610.51L60.76 610.94L60.88 611.31L61.00 611.62L61.12 611.88L61.24 612.07L61.36 612.20L61.36 612.20Z" fill="none" stroke="#cf3a44" stroke-width="0.8"/>
<text x="112.8" y="545.8" font-size="12.5" text-anchor="end" fill="#111" stroke="#111" stroke-width="0.22">CD34<tspan dy="-4.5" font-size="9">+</tspan></text>
<rect x="133.8" y="531.3" width="82.0" height="81.70000000000005" fill="none" stroke="#9a9a9a" stroke-width="0.7"/>
<line x1="133.8" y1="531.3" x2="133.8" y2="613.0" stroke="#333" stroke-width="0.7"/>
<line x1="133.8" y1="613.0" x2="215.8" y2="613.0" stroke="#333" stroke-width="0.7"/>
<text x="131.20000000000002" y="536.7" font-size="3.4" text-anchor="end" fill="#555">100</text>
<text x="131.20000000000002" y="552.0" font-size="3.4" text-anchor="end" fill="#555">80</text>
<text x="131.20000000000002" y="567.3" font-size="3.4" text-anchor="end" fill="#555">60</text>
<text x="131.20000000000002" y="582.7" font-size="3.4" text-anchor="end" fill="#555">40</text>
<text x="131.20000000000002" y="598.0" font-size="3.4" text-anchor="end" fill="#555">20</text>
<text x="131.20000000000002" y="613.3" font-size="3.4" text-anchor="end" fill="#555">0</text>
<text x="139.5" y="619.0" font-size="3.4" text-anchor="middle" fill="#555">-10<tspan dy="-1" font-size="2.5">3</tspan></text>
<text x="153.9" y="619.0" font-size="3.4" text-anchor="middle" fill="#555">0</text>
<text x="167.4" y="619.0" font-size="3.4" text-anchor="middle" fill="#555">10<tspan dy="-1" font-size="2.5">3</tspan></text>
<text x="190.4" y="619.0" font-size="3.4" text-anchor="middle" fill="#555">10<tspan dy="-1" font-size="2.5">4</tspan></text>
<text x="209.7" y="619.0" font-size="3.4" text-anchor="middle" fill="#555">10<tspan dy="-1" font-size="2.5">5</tspan></text>
<path d="M132.20000000000002 535.6h1.6M132.9 539.4h0.9M132.9 543.3h0.9M132.9 547.1h0.9M132.20000000000002 550.9h1.6M132.9 554.8h0.9M132.9 558.6h0.9M132.9 562.4h0.9M132.20000000000002 566.2h1.6M132.9 570.1h0.9M132.9 573.9h0.9M132.9 577.7h0.9M132.20000000000002 581.6h1.6M132.9 585.4h0.9M132.9 589.2h0.9M132.9 593.0h0.9M132.20000000000002 596.9h1.6M132.9 600.7h0.9M132.9 604.5h0.9M132.9 608.4h0.9M132.20000000000002 612.2h1.6M139.5 613.0v1.6M153.9 613.0v1.6M167.4 613.0v1.6M190.4 613.0v1.6M209.7 613.0v1.6M143.1 613.0v0.9M146.7 613.0v0.9M150.3 613.0v0.9M157.3 613.0v0.9M160.7 613.0v0.9M164.0 613.0v0.9M173.2 613.0v0.9M178.9 613.0v0.9M184.6 613.0v0.9M195.2 613.0v0.9M200.0 613.0v0.9M204.8 613.0v0.9" stroke="#444" stroke-width="0.5" fill="none"/>
<rect x="151.69000000000003" y="612.7" width="4.4" height="1.9" fill="#111" stroke="none" stroke-width="1"/>
<path d="M149.71 612.20L149.71 612.20L149.79 612.17L149.87 612.09L149.96 611.97L150.04 611.78L150.12 611.55L150.20 611.28L150.29 610.95L150.37 610.57L150.45 610.15L150.54 609.69L150.62 609.18L150.70 608.62L150.78 608.03L150.87 607.39L150.95 606.71L151.03 605.99L151.11 605.23L151.20 604.43L151.28 603.59L151.36 602.72L151.45 601.81L151.53 600.87L151.61 599.89L151.69 598.87L151.78 597.83L151.86 596.75L151.94 595.65L152.03 594.51L152.11 593.34L152.19 592.14L152.27 590.92L152.36 589.67L152.44 588.40L152.52 587.10L152.60 585.72L152.69 583.67L152.77 580.84L152.85 577.39L152.94 573.44L153.02 569.15L153.10 564.66L153.18 560.09L153.27 555.60L153.35 551.33L153.43 547.40L153.51 543.97L153.60 541.18L153.68 539.16L153.76 538.06L153.85 537.96L153.93 538.53L154.01 539.64L154.09 541.24L154.18 543.26L154.26 545.66L154.34 548.36L154.42 551.33L154.51 554.48L154.59 557.78L154.67 561.16L154.76 564.56L154.84 567.93L154.92 571.21L155.00 574.34L155.09 577.27L155.17 579.93L155.25 582.27L155.34 584.23L155.42 585.76L155.50 586.89L155.58 587.98L155.67 589.06L155.75 590.12L155.83 591.17L155.91 592.20L156.00 593.22L156.08 594.22L156.16 595.20L156.25 596.16L156.33 597.10L156.41 598.02L156.49 598.91L156.58 599.79L156.66 600.64L156.74 601.47L156.82 602.28L156.91 603.06L156.99 603.81L157.07 604.54L157.16 605.24L157.24 605.91L157.32 606.55L157.40 607.16L157.49 607.74L157.57 608.29L157.65 608.81L157.73 609.29L157.82 609.74L157.90 610.15L157.98 610.53L158.07 610.87L158.15 611.18L158.23 611.44L158.31 611.67L158.40 611.86L158.48 612.01L158.56 612.11L158.65 612.18L158.73 612.20L158.73 612.20Z" fill="#9c9c9c" stroke="#484848" stroke-width="0.6"/>
<path d="M149.71 612.20L149.71 612.20L149.79 612.17L149.88 612.08L149.97 611.94L150.05 611.74L150.14 611.48L150.23 611.17L150.31 610.81L150.40 610.39L150.49 609.92L150.57 609.41L150.66 608.84L150.75 608.22L150.83 607.56L150.92 606.85L151.01 606.10L151.09 605.30L151.18 604.46L151.27 603.57L151.35 602.65L151.44 601.68L151.52 600.68L151.61 599.63L151.70 598.55L151.78 597.44L151.87 596.28L151.96 595.10L152.04 593.87L152.13 592.62L152.22 591.34L152.30 590.02L152.39 588.68L152.48 587.30L152.56 585.90L152.65 584.14L152.74 581.46L152.82 578.02L152.91 573.97L153.00 569.49L153.08 564.73L153.17 559.86L153.26 555.05L153.34 550.45L153.43 546.24L153.51 542.57L153.60 539.61L153.69 537.52L153.77 536.46L153.86 536.47L153.95 537.04L154.03 538.09L154.12 539.57L154.21 541.43L154.29 543.62L154.38 546.10L154.47 548.81L154.55 551.72L154.64 554.78L154.73 557.94L154.81 561.15L154.90 564.37L154.99 567.55L155.07 570.64L155.16 573.60L155.24 576.38L155.33 578.93L155.42 581.21L155.50 583.17L155.59 584.77L155.68 585.97L155.76 587.04L155.85 588.11L155.94 589.17L156.02 590.21L156.11 591.24L156.20 592.26L156.28 593.26L156.37 594.25L156.46 595.22L156.54 596.17L156.63 597.10L156.72 598.01L156.80 598.90L156.89 599.77L156.98 600.62L157.06 601.45L157.15 602.25L157.23 603.03L157.32 603.78L157.41 604.51L157.49 605.20L157.58 605.88L157.67 606.52L157.75 607.13L157.84 607.71L157.93 608.26L158.01 608.78L158.10 609.27L158.19 609.72L158.27 610.13L158.36 610.52L158.45 610.86L158.53 611.17L158.62 611.44L158.71 611.67L158.79 611.86L158.88 612.01L158.96 612.11L159.05 612.18L159.14 612.20L159.14 612.20Z" fill="#f6bfc2" style="mix-blend-mode:multiply"/>
<path d="M149.71 612.20L149.71 612.20L149.79 612.17L149.88 612.08L149.97 611.94L150.05 611.74L150.14 611.48L150.23 611.17L150.31 610.81L150.40 610.39L150.49 609.92L150.57 609.41L150.66 608.84L150.75 608.22L150.83 607.56L150.92 606.85L151.01 606.10L151.09 605.30L151.18 604.46L151.27 603.57L151.35 602.65L151.44 601.68L151.52 600.68L151.61 599.63L151.70 598.55L151.78 597.44L151.87 596.28L151.96 595.10L152.04 593.87L152.13 592.62L152.22 591.34L152.30 590.02L152.39 588.68L152.48 587.30L152.56 585.90L152.65 584.14L152.74 581.46L152.82 578.02L152.91 573.97L153.00 569.49L153.08 564.73L153.17 559.86L153.26 555.05L153.34 550.45L153.43 546.24L153.51 542.57L153.60 539.61L153.69 537.52L153.77 536.46L153.86 536.47L153.95 537.04L154.03 538.09L154.12 539.57L154.21 541.43L154.29 543.62L154.38 546.10L154.47 548.81L154.55 551.72L154.64 554.78L154.73 557.94L154.81 561.15L154.90 564.37L154.99 567.55L155.07 570.64L155.16 573.60L155.24 576.38L155.33 578.93L155.42 581.21L155.50 583.17L155.59 584.77L155.68 585.97L155.76 587.04L155.85 588.11L155.94 589.17L156.02 590.21L156.11 591.24L156.20 592.26L156.28 593.26L156.37 594.25L156.46 595.22L156.54 596.17L156.63 597.10L156.72 598.01L156.80 598.90L156.89 599.77L156.98 600.62L157.06 601.45L157.15 602.25L157.23 603.03L157.32 603.78L157.41 604.51L157.49 605.20L157.58 605.88L157.67 606.52L157.75 607.13L157.84 607.71L157.93 608.26L158.01 608.78L158.10 609.27L158.19 609.72L158.27 610.13L158.36 610.52L158.45 610.86L158.53 611.17L158.62 611.44L158.71 611.67L158.79 611.86L158.88 612.01L158.96 612.11L159.05 612.18L159.14 612.20L159.14 612.20Z" fill="none" stroke="#cf3a44" stroke-width="0.8"/>
<text x="212.3" y="545.8" font-size="12.5" text-anchor="end" fill="#3a4f9e" stroke="#3a4f9e" stroke-width="0.22">HSC</text>
<rect x="233.8" y="531.3" width="83.19999999999999" height="81.70000000000005" fill="none" stroke="#9a9a9a" stroke-width="0.7"/>
<line x1="233.8" y1="531.3" x2="233.8" y2="613.0" stroke="#333" stroke-width="0.7"/>
<line x1="233.8" y1="613.0" x2="317.0" y2="613.0" stroke="#333" stroke-width="0.7"/>
<text x="231.20000000000002" y="536.7" font-size="3.4" text-anchor="end" fill="#555">100</text>
<text x="231.20000000000002" y="552.0" font-size="3.4" text-anchor="end" fill="#555">80</text>
<text x="231.20000000000002" y="567.3" font-size="3.4" text-anchor="end" fill="#555">60</text>
<text x="231.20000000000002" y="582.7" font-size="3.4" text-anchor="end" fill="#555">40</text>
<text x="231.20000000000002" y="598.0" font-size="3.4" text-anchor="end" fill="#555">20</text>
<text x="231.20000000000002" y="613.3" font-size="3.4" text-anchor="end" fill="#555">0</text>
<text x="239.6" y="619.0" font-size="3.4" text-anchor="middle" fill="#555">-10<tspan dy="-1" font-size="2.5">3</tspan></text>
<text x="254.2" y="619.0" font-size="3.4" text-anchor="middle" fill="#555">0</text>
<text x="267.9" y="619.0" font-size="3.4" text-anchor="middle" fill="#555">10<tspan dy="-1" font-size="2.5">3</tspan></text>
<text x="291.2" y="619.0" font-size="3.4" text-anchor="middle" fill="#555">10<tspan dy="-1" font-size="2.5">4</tspan></text>
<text x="310.8" y="619.0" font-size="3.4" text-anchor="middle" fill="#555">10<tspan dy="-1" font-size="2.5">5</tspan></text>
<path d="M232.20000000000002 535.6h1.6M232.9 539.4h0.9M232.9 543.3h0.9M232.9 547.1h0.9M232.20000000000002 550.9h1.6M232.9 554.8h0.9M232.9 558.6h0.9M232.9 562.4h0.9M232.20000000000002 566.2h1.6M232.9 570.1h0.9M232.9 573.9h0.9M232.9 577.7h0.9M232.20000000000002 581.6h1.6M232.9 585.4h0.9M232.9 589.2h0.9M232.9 593.0h0.9M232.20000000000002 596.9h1.6M232.9 600.7h0.9M232.9 604.5h0.9M232.9 608.4h0.9M232.20000000000002 612.2h1.6M239.6 613.0v1.6M254.2 613.0v1.6M267.9 613.0v1.6M291.2 613.0v1.6M310.8 613.0v1.6M243.3 613.0v0.9M246.9 613.0v0.9M250.5 613.0v0.9M257.6 613.0v0.9M261.0 613.0v0.9M264.5 613.0v0.9M273.7 613.0v0.9M279.6 613.0v0.9M285.4 613.0v0.9M296.1 613.0v0.9M301.0 613.0v0.9M305.9 613.0v0.9" stroke="#444" stroke-width="0.5" fill="none"/>
<rect x="251.984" y="612.7" width="4.4" height="1.9" fill="#111" stroke="none" stroke-width="1"/>
<path d="M250.86 612.20L250.86 612.20L250.94 612.17L251.02 612.09L251.11 611.97L251.19 611.78L251.28 611.55L251.36 611.28L251.44 610.95L251.53 610.57L251.61 610.15L251.70 609.69L251.78 609.18L251.86 608.62L251.95 608.03L252.03 607.39L252.12 606.71L252.20 605.99L252.28 605.23L252.37 604.43L252.45 603.59L252.54 602.72L252.62 601.81L252.70 600.87L252.79 599.89L252.87 598.87L252.96 597.83L253.04 596.75L253.12 595.65L253.21 594.51L253.29 593.34L253.37 592.14L253.46 590.92L253.54 589.67L253.63 588.40L253.71 587.10L253.79 585.72L253.88 583.67L253.96 580.84L254.05 577.39L254.13 573.44L254.21 569.15L254.30 564.66L254.38 560.09L254.47 555.60L254.55 551.33L254.63 547.40L254.72 543.97L254.80 541.18L254.89 539.16L254.97 538.06L255.05 537.96L255.14 538.53L255.22 539.64L255.31 541.24L255.39 543.26L255.47 545.66L255.56 548.36L255.64 551.33L255.73 554.48L255.81 557.78L255.89 561.16L255.98 564.56L256.06 567.93L256.15 571.21L256.23 574.34L256.31 577.27L256.40 579.93L256.48 582.27L256.57 584.23L256.65 585.76L256.73 586.89L256.82 587.98L256.90 589.06L256.99 590.12L257.07 591.17L257.15 592.20L257.24 593.22L257.32 594.22L257.41 595.20L257.49 596.16L257.57 597.10L257.66 598.02L257.74 598.91L257.82 599.79L257.91 600.64L257.99 601.47L258.08 602.28L258.16 603.06L258.24 603.81L258.33 604.54L258.41 605.24L258.50 605.91L258.58 606.55L258.66 607.16L258.75 607.74L258.83 608.29L258.92 608.81L259.00 609.29L259.08 609.74L259.17 610.15L259.25 610.53L259.34 610.87L259.42 611.18L259.50 611.44L259.59 611.67L259.67 611.86L259.76 612.01L259.84 612.11L259.92 612.18L260.01 612.20L260.01 612.20Z" fill="#9c9c9c" stroke="#484848" stroke-width="0.6"/>
<path d="M250.86 612.20L250.86 612.20L250.94 612.17L251.03 612.08L251.12 611.94L251.21 611.74L251.29 611.48L251.38 611.17L251.47 610.81L251.56 610.39L251.65 609.92L251.73 609.41L251.82 608.84L251.91 608.22L252.00 607.56L252.08 606.85L252.17 606.10L252.26 605.30L252.35 604.46L252.44 603.57L252.52 602.65L252.61 601.68L252.70 600.68L252.79 599.63L252.87 598.55L252.96 597.44L253.05 596.28L253.14 595.10L253.23 593.87L253.31 592.62L253.40 591.34L253.49 590.02L253.58 588.68L253.66 587.30L253.75 585.90L253.84 584.14L253.93 581.46L254.02 578.02L254.10 573.97L254.19 569.49L254.28 564.73L254.37 559.86L254.45 555.05L254.54 550.45L254.63 546.24L254.72 542.57L254.81 539.61L254.89 537.52L254.98 536.46L255.07 536.47L255.16 537.04L255.24 538.09L255.33 539.57L255.42 541.43L255.51 543.62L255.60 546.10L255.68 548.81L255.77 551.72L255.86 554.78L255.95 557.94L256.04 561.15L256.12 564.37L256.21 567.55L256.30 570.64L256.39 573.60L256.47 576.38L256.56 578.93L256.65 581.21L256.74 583.17L256.83 584.77L256.91 585.97L257.00 587.04L257.09 588.11L257.18 589.17L257.26 590.21L257.35 591.24L257.44 592.26L257.53 593.26L257.62 594.25L257.70 595.22L257.79 596.17L257.88 597.10L257.97 598.01L258.05 598.90L258.14 599.77L258.23 600.62L258.32 601.45L258.41 602.25L258.49 603.03L258.58 603.78L258.67 604.51L258.76 605.20L258.84 605.88L258.93 606.52L259.02 607.13L259.11 607.71L259.20 608.26L259.28 608.78L259.37 609.27L259.46 609.72L259.55 610.13L259.63 610.52L259.72 610.86L259.81 611.17L259.90 611.44L259.99 611.67L260.07 611.86L260.16 612.01L260.25 612.11L260.34 612.18L260.42 612.20L260.42 612.20Z" fill="#f6bfc2" style="mix-blend-mode:multiply"/>
<path d="M250.86 612.20L250.86 612.20L250.94 612.17L251.03 612.08L251.12 611.94L251.21 611.74L251.29 611.48L251.38 611.17L251.47 610.81L251.56 610.39L251.65 609.92L251.73 609.41L251.82 608.84L251.91 608.22L252.00 607.56L252.08 606.85L252.17 606.10L252.26 605.30L252.35 604.46L252.44 603.57L252.52 602.65L252.61 601.68L252.70 600.68L252.79 599.63L252.87 598.55L252.96 597.44L253.05 596.28L253.14 595.10L253.23 593.87L253.31 592.62L253.40 591.34L253.49 590.02L253.58 588.68L253.66 587.30L253.75 585.90L253.84 584.14L253.93 581.46L254.02 578.02L254.10 573.97L254.19 569.49L254.28 564.73L254.37 559.86L254.45 555.05L254.54 550.45L254.63 546.24L254.72 542.57L254.81 539.61L254.89 537.52L254.98 536.46L255.07 536.47L255.16 537.04L255.24 538.09L255.33 539.57L255.42 541.43L255.51 543.62L255.60 546.10L255.68 548.81L255.77 551.72L255.86 554.78L255.95 557.94L256.04 561.15L256.12 564.37L256.21 567.55L256.30 570.64L256.39 573.60L256.47 576.38L256.56 578.93L256.65 581.21L256.74 583.17L256.83 584.77L256.91 585.97L257.00 587.04L257.09 588.11L257.18 589.17L257.26 590.21L257.35 591.24L257.44 592.26L257.53 593.26L257.62 594.25L257.70 595.22L257.79 596.17L257.88 597.10L257.97 598.01L258.05 598.90L258.14 599.77L258.23 600.62L258.32 601.45L258.41 602.25L258.49 603.03L258.58 603.78L258.67 604.51L258.76 605.20L258.84 605.88L258.93 606.52L259.02 607.13L259.11 607.71L259.20 608.26L259.28 608.78L259.37 609.27L259.46 609.72L259.55 610.13L259.63 610.52L259.72 610.86L259.81 611.17L259.90 611.44L259.99 611.67L260.07 611.86L260.16 612.01L260.25 612.11L260.34 612.18L260.42 612.20L260.42 612.20Z" fill="none" stroke="#cf3a44" stroke-width="0.8"/>
<text x="313.5" y="545.8" font-size="12.5" text-anchor="end" fill="#7d58a8" stroke="#7d58a8" stroke-width="0.22">MPP</text>
<rect x="330.8" y="532.0" width="80.5" height="80.29999999999995" fill="none" stroke="#9a9a9a" stroke-width="0.7"/>
<line x1="330.8" y1="532.0" x2="330.8" y2="612.3" stroke="#333" stroke-width="0.7"/>
<line x1="330.8" y1="612.3" x2="411.3" y2="612.3" stroke="#333" stroke-width="0.7"/>
<text x="328.2" y="537.4" font-size="3.4" text-anchor="end" fill="#555">100</text>
<text x="328.2" y="552.4" font-size="3.4" text-anchor="end" fill="#555">80</text>
<text x="328.2" y="567.5" font-size="3.4" text-anchor="end" fill="#555">60</text>
<text x="328.2" y="582.5" font-size="3.4" text-anchor="end" fill="#555">40</text>
<text x="328.2" y="597.6" font-size="3.4" text-anchor="end" fill="#555">20</text>
<text x="328.2" y="612.6" font-size="3.4" text-anchor="end" fill="#555">0</text>
<text x="336.4" y="618.3" font-size="3.4" text-anchor="middle" fill="#555">-10<tspan dy="-1" font-size="2.5">3</tspan></text>
<text x="350.5" y="618.3" font-size="3.4" text-anchor="middle" fill="#555">0</text>
<text x="363.8" y="618.3" font-size="3.4" text-anchor="middle" fill="#555">10<tspan dy="-1" font-size="2.5">3</tspan></text>
<text x="386.3" y="618.3" font-size="3.4" text-anchor="middle" fill="#555">10<tspan dy="-1" font-size="2.5">4</tspan></text>
<text x="405.3" y="618.3" font-size="3.4" text-anchor="middle" fill="#555">10<tspan dy="-1" font-size="2.5">5</tspan></text>
<path d="M329.2 536.3h1.6M329.90000000000003 540.1h0.9M329.90000000000003 543.8h0.9M329.90000000000003 547.6h0.9M329.2 551.3h1.6M329.90000000000003 555.1h0.9M329.90000000000003 558.9h0.9M329.90000000000003 562.6h0.9M329.2 566.4h1.6M329.90000000000003 570.1h0.9M329.90000000000003 573.9h0.9M329.90000000000003 577.7h0.9M329.2 581.4h1.6M329.90000000000003 585.2h0.9M329.90000000000003 588.9h0.9M329.90000000000003 592.7h0.9M329.2 596.5h1.6M329.90000000000003 600.2h0.9M329.90000000000003 604.0h0.9M329.90000000000003 607.7h0.9M329.2 611.5h1.6M336.4 612.3v1.6M350.5 612.3v1.6M363.8 612.3v1.6M386.3 612.3v1.6M405.3 612.3v1.6M340.0 612.3v0.9M343.5 612.3v0.9M347.0 612.3v0.9M353.8 612.3v0.9M357.2 612.3v0.9M360.5 612.3v0.9M369.4 612.3v0.9M375.1 612.3v0.9M380.7 612.3v0.9M391.1 612.3v0.9M395.8 612.3v0.9M400.5 612.3v0.9" stroke="#444" stroke-width="0.5" fill="none"/>
<rect x="348.32250000000005" y="612.0" width="4.4" height="1.9" fill="#111" stroke="none" stroke-width="1"/>
<path d="M346.90 611.50L346.90 611.50L346.97 611.48L347.05 611.40L347.12 611.28L347.20 611.12L347.27 610.91L347.34 610.65L347.42 610.35L347.49 610.00L347.56 609.61L347.64 609.18L347.71 608.70L347.79 608.18L347.86 607.63L347.93 607.03L348.01 606.39L348.08 605.71L348.16 604.99L348.23 604.23L348.30 603.43L348.38 602.60L348.45 601.73L348.52 600.82L348.60 599.88L348.67 598.91L348.75 597.89L348.82 596.85L348.89 595.77L348.97 594.66L349.04 593.52L349.12 592.34L349.19 591.14L349.26 589.90L349.34 588.63L349.41 587.34L349.48 586.01L349.56 584.48L349.63 581.99L349.71 578.62L349.78 574.57L349.85 570.01L349.93 565.14L350.00 560.14L350.08 555.19L350.15 550.48L350.22 546.19L350.30 542.53L350.37 539.66L350.44 537.77L350.52 537.05L350.59 537.35L350.67 538.27L350.74 539.74L350.81 541.71L350.89 544.09L350.96 546.84L351.04 549.87L351.11 553.14L351.18 556.57L351.26 560.09L351.33 563.64L351.41 567.16L351.48 570.58L351.55 573.83L351.63 576.85L351.70 579.57L351.77 581.93L351.85 583.86L351.92 585.30L352.00 586.40L352.07 587.48L352.14 588.54L352.22 589.59L352.29 590.62L352.37 591.64L352.44 592.63L352.51 593.61L352.59 594.57L352.66 595.51L352.73 596.43L352.81 597.33L352.88 598.21L352.96 599.06L353.03 599.90L353.10 600.71L353.18 601.49L353.25 602.25L353.33 602.99L353.40 603.70L353.47 604.38L353.55 605.04L353.62 605.66L353.69 606.26L353.77 606.84L353.84 607.38L353.92 607.89L353.99 608.37L354.06 608.82L354.14 609.23L354.21 609.61L354.29 609.96L354.36 610.28L354.43 610.56L354.51 610.81L354.58 611.02L354.65 611.19L354.73 611.32L354.80 611.42L354.88 611.48L354.95 611.50L354.95 611.50Z" fill="#9c9c9c" stroke="#484848" stroke-width="0.6"/>
<path d="M346.50 611.50L346.50 611.50L346.58 611.48L346.67 611.42L346.75 611.32L346.84 611.19L346.92 611.01L347.01 610.81L347.09 610.56L347.18 610.28L347.26 609.96L347.35 609.62L347.43 609.23L347.52 608.82L347.60 608.37L347.69 607.89L347.77 607.39L347.86 606.85L347.94 606.28L348.03 605.68L348.11 605.06L348.20 604.41L348.28 603.73L348.37 603.03L348.45 602.30L348.54 601.54L348.62 600.77L348.71 599.97L348.79 599.14L348.88 598.30L348.96 597.43L349.05 596.55L349.13 595.64L349.22 594.71L349.30 593.77L349.39 592.58L349.47 590.77L349.56 588.45L349.64 585.72L349.72 582.70L349.81 579.49L349.89 576.21L349.98 572.96L350.06 569.86L350.15 567.02L350.23 564.55L350.32 562.55L350.40 561.14L350.49 560.43L350.57 560.43L350.66 560.82L350.74 561.53L350.83 562.53L350.91 563.78L351.00 565.25L351.08 566.93L351.17 568.76L351.25 570.72L351.34 572.78L351.42 574.91L351.51 577.08L351.59 579.25L351.68 581.39L351.76 583.48L351.85 585.47L351.93 587.34L352.02 589.07L352.10 590.60L352.19 591.93L352.27 593.00L352.36 593.81L352.44 594.54L352.53 595.26L352.61 595.97L352.70 596.67L352.78 597.37L352.87 598.05L352.95 598.73L353.04 599.39L353.12 600.05L353.21 600.69L353.29 601.32L353.38 601.93L353.46 602.53L353.55 603.12L353.63 603.69L353.72 604.25L353.80 604.79L353.89 605.31L353.97 605.82L354.06 606.31L354.14 606.78L354.23 607.24L354.31 607.67L354.40 608.08L354.48 608.47L354.57 608.85L354.65 609.19L354.74 609.52L354.82 609.83L354.91 610.11L354.99 610.36L355.08 610.60L355.16 610.80L355.25 610.98L355.33 611.14L355.42 611.27L355.50 611.37L355.59 611.44L355.67 611.49L355.75 611.50L355.75 611.50Z" fill="#f6bfc2" style="mix-blend-mode:multiply"/>
<path d="M346.50 611.50L346.50 611.50L346.58 611.48L346.67 611.42L346.75 611.32L346.84 611.19L346.92 611.01L347.01 610.81L347.09 610.56L347.18 610.28L347.26 609.96L347.35 609.62L347.43 609.23L347.52 608.82L347.60 608.37L347.69 607.89L347.77 607.39L347.86 606.85L347.94 606.28L348.03 605.68L348.11 605.06L348.20 604.41L348.28 603.73L348.37 603.03L348.45 602.30L348.54 601.54L348.62 600.77L348.71 599.97L348.79 599.14L348.88 598.30L348.96 597.43L349.05 596.55L349.13 595.64L349.22 594.71L349.30 593.77L349.39 592.58L349.47 590.77L349.56 588.45L349.64 585.72L349.72 582.70L349.81 579.49L349.89 576.21L349.98 572.96L350.06 569.86L350.15 567.02L350.23 564.55L350.32 562.55L350.40 561.14L350.49 560.43L350.57 560.43L350.66 560.82L350.74 561.53L350.83 562.53L350.91 563.78L351.00 565.25L351.08 566.93L351.17 568.76L351.25 570.72L351.34 572.78L351.42 574.91L351.51 577.08L351.59 579.25L351.68 581.39L351.76 583.48L351.85 585.47L351.93 587.34L352.02 589.07L352.10 590.60L352.19 591.93L352.27 593.00L352.36 593.81L352.44 594.54L352.53 595.26L352.61 595.97L352.70 596.67L352.78 597.37L352.87 598.05L352.95 598.73L353.04 599.39L353.12 600.05L353.21 600.69L353.29 601.32L353.38 601.93L353.46 602.53L353.55 603.12L353.63 603.69L353.72 604.25L353.80 604.79L353.89 605.31L353.97 605.82L354.06 606.31L354.14 606.78L354.23 607.24L354.31 607.67L354.40 608.08L354.48 608.47L354.57 608.85L354.65 609.19L354.74 609.52L354.82 609.83L354.91 610.11L354.99 610.36L355.08 610.60L355.16 610.80L355.25 610.98L355.33 611.14L355.42 611.27L355.50 611.37L355.59 611.44L355.67 611.49L355.75 611.50L355.75 611.50Z" fill="none" stroke="#cf3a44" stroke-width="0.8"/>
<text x="407.8" y="546.5" font-size="12.5" text-anchor="end" fill="#c4448f" stroke="#c4448f" stroke-width="0.22">MLP</text>
<rect x="34.3" y="623.8" width="83.2" height="82.40000000000009" fill="none" stroke="#9a9a9a" stroke-width="0.7"/>
<line x1="34.3" y1="623.8" x2="34.3" y2="706.2" stroke="#333" stroke-width="0.7"/>
<line x1="34.3" y1="706.2" x2="117.5" y2="706.2" stroke="#333" stroke-width="0.7"/>
<text x="31.699999999999996" y="629.2" font-size="3.4" text-anchor="end" fill="#555">100</text>
<text x="31.699999999999996" y="644.7" font-size="3.4" text-anchor="end" fill="#555">80</text>
<text x="31.699999999999996" y="660.1" font-size="3.4" text-anchor="end" fill="#555">60</text>
<text x="31.699999999999996" y="675.6" font-size="3.4" text-anchor="end" fill="#555">40</text>
<text x="31.699999999999996" y="691.0" font-size="3.4" text-anchor="end" fill="#555">20</text>
<text x="31.699999999999996" y="706.5" font-size="3.4" text-anchor="end" fill="#555">0</text>
<text x="40.1" y="712.2" font-size="3.4" text-anchor="middle" fill="#555">-10<tspan dy="-1" font-size="2.5">3</tspan></text>
<text x="54.7" y="712.2" font-size="3.4" text-anchor="middle" fill="#555">0</text>
<text x="68.4" y="712.2" font-size="3.4" text-anchor="middle" fill="#555">10<tspan dy="-1" font-size="2.5">3</tspan></text>
<text x="91.7" y="712.2" font-size="3.4" text-anchor="middle" fill="#555">10<tspan dy="-1" font-size="2.5">4</tspan></text>
<text x="111.3" y="712.2" font-size="3.4" text-anchor="middle" fill="#555">10<tspan dy="-1" font-size="2.5">5</tspan></text>
<path d="M32.699999999999996 628.1h1.6M33.4 632.0h0.9M33.4 635.8h0.9M33.4 639.7h0.9M32.699999999999996 643.6h1.6M33.4 647.4h0.9M33.4 651.3h0.9M33.4 655.2h0.9M32.699999999999996 659.0h1.6M33.4 662.9h0.9M33.4 666.8h0.9M33.4 670.6h0.9M32.699999999999996 674.5h1.6M33.4 678.3h0.9M33.4 682.2h0.9M33.4 686.1h0.9M32.699999999999996 689.9h1.6M33.4 693.8h0.9M33.4 697.7h0.9M33.4 701.5h0.9M32.699999999999996 705.4h1.6M40.1 706.2v1.6M54.7 706.2v1.6M68.4 706.2v1.6M91.7 706.2v1.6M111.3 706.2v1.6M43.8 706.2v0.9M47.4 706.2v0.9M51.0 706.2v0.9M58.1 706.2v0.9M61.5 706.2v0.9M65.0 706.2v0.9M74.2 706.2v0.9M80.1 706.2v0.9M85.9 706.2v0.9M96.6 706.2v0.9M101.5 706.2v0.9M106.4 706.2v0.9" stroke="#444" stroke-width="0.5" fill="none"/>
<rect x="52.483999999999995" y="705.9000000000001" width="4.4" height="1.9" fill="#111" stroke="none" stroke-width="1"/>
<path d="M55.10 705.40L55.10 705.40L55.38 705.22L55.66 704.96L55.95 704.61L56.23 704.19L56.51 703.70L56.79 703.16L57.08 702.56L57.36 701.92L57.64 701.24L57.92 700.53L58.21 699.80L58.49 699.05L58.77 698.15L59.05 697.08L59.34 695.85L59.62 694.51L59.90 693.08L60.18 691.60L60.47 690.09L60.75 688.59L61.03 687.13L61.31 685.73L61.60 684.44L61.88 683.24L62.16 681.98L62.44 680.63L62.73 679.25L63.01 677.87L63.29 676.55L63.57 675.32L63.86 674.24L64.14 673.34L64.42 672.66L64.70 672.26L64.98 672.19L65.27 672.83L65.55 674.17L65.83 675.97L66.11 678.00L66.40 680.03L66.68 681.83L66.96 683.45L67.24 685.32L67.53 687.22L67.81 688.91L68.09 690.15L68.37 690.70L68.66 690.56L68.94 690.05L69.22 689.24L69.50 688.21L69.79 687.03L70.07 685.76L70.35 684.48L70.63 683.27L70.92 682.18L71.20 681.09L71.48 679.85L71.76 678.51L72.05 677.12L72.33 675.72L72.61 674.37L72.89 673.11L73.18 671.99L73.46 671.06L73.74 670.36L74.02 669.94L74.30 669.85L74.59 669.98L74.87 670.27L75.15 670.70L75.43 671.24L75.72 671.87L76.00 672.56L76.28 673.29L76.56 674.04L76.85 674.80L77.13 675.72L77.41 676.83L77.69 678.09L77.98 679.46L78.26 680.91L78.54 682.41L78.82 683.93L79.11 685.43L79.39 686.88L79.67 688.25L79.95 689.50L80.24 690.64L80.52 691.78L80.80 692.92L81.08 694.05L81.37 695.16L81.65 696.23L81.93 697.27L82.21 698.25L82.49 699.17L82.78 700.01L83.06 700.77L83.34 701.44L83.62 702.03L83.91 702.59L84.19 703.13L84.47 703.63L84.75 704.09L85.04 704.50L85.32 704.86L85.60 705.16L85.88 705.40L85.88 705.40Z" fill="#9c9c9c" stroke="#484848" stroke-width="0.6"/>
<path d="M55.10 705.40L55.10 705.40L55.38 705.31L55.66 705.03L55.95 704.60L56.23 704.01L56.51 703.30L56.79 702.47L57.08 701.53L57.36 700.51L57.64 699.42L57.92 698.27L58.21 697.08L58.49 695.85L58.77 694.20L59.05 692.07L59.34 689.57L59.62 686.82L59.90 683.96L60.18 681.09L60.47 678.35L60.75 675.85L61.03 673.67L61.31 671.36L61.60 668.94L61.88 666.55L62.16 664.37L62.44 662.54L62.73 661.23L63.01 660.60L63.29 660.74L63.57 661.46L63.86 662.60L64.14 664.00L64.42 665.48L64.70 666.90L64.98 668.07L65.27 668.85L65.55 669.05L65.83 668.42L66.11 667.20L66.40 665.84L66.68 664.77L66.96 664.44L67.24 664.92L67.53 665.92L67.81 667.22L68.09 668.57L68.37 669.74L68.66 670.47L68.94 670.60L69.22 670.46L69.50 670.20L69.79 669.83L70.07 669.39L70.35 668.90L70.63 668.39L70.92 667.89L71.20 667.43L71.48 667.03L71.76 666.73L72.05 666.46L72.33 666.19L72.61 665.92L72.89 665.66L73.18 665.40L73.46 665.16L73.74 664.95L74.02 664.77L74.30 664.62L74.59 664.51L74.87 664.44L75.15 664.46L75.43 664.91L75.72 665.84L76.00 667.13L76.28 668.68L76.56 670.38L76.85 672.13L77.13 673.81L77.41 675.32L77.69 676.58L77.98 677.75L78.26 678.89L78.54 680.00L78.82 681.09L79.11 682.19L79.39 683.31L79.67 684.44L79.95 685.62L80.24 686.86L80.52 688.20L80.80 689.62L81.08 691.08L81.37 692.53L81.65 693.93L81.93 695.25L82.21 696.44L82.49 697.47L82.78 698.36L83.06 699.23L83.34 700.06L83.62 700.87L83.91 701.63L84.19 702.35L84.47 703.03L84.75 703.64L85.04 704.19L85.32 704.67L85.60 705.08L85.88 705.40L85.88 705.40Z" fill="#f6bfc2" style="mix-blend-mode:multiply"/>
<path d="M55.10 705.40L55.10 705.40L55.38 705.31L55.66 705.03L55.95 704.60L56.23 704.01L56.51 703.30L56.79 702.47L57.08 701.53L57.36 700.51L57.64 699.42L57.92 698.27L58.21 697.08L58.49 695.85L58.77 694.20L59.05 692.07L59.34 689.57L59.62 686.82L59.90 683.96L60.18 681.09L60.47 678.35L60.75 675.85L61.03 673.67L61.31 671.36L61.60 668.94L61.88 666.55L62.16 664.37L62.44 662.54L62.73 661.23L63.01 660.60L63.29 660.74L63.57 661.46L63.86 662.60L64.14 664.00L64.42 665.48L64.70 666.90L64.98 668.07L65.27 668.85L65.55 669.05L65.83 668.42L66.11 667.20L66.40 665.84L66.68 664.77L66.96 664.44L67.24 664.92L67.53 665.92L67.81 667.22L68.09 668.57L68.37 669.74L68.66 670.47L68.94 670.60L69.22 670.46L69.50 670.20L69.79 669.83L70.07 669.39L70.35 668.90L70.63 668.39L70.92 667.89L71.20 667.43L71.48 667.03L71.76 666.73L72.05 666.46L72.33 666.19L72.61 665.92L72.89 665.66L73.18 665.40L73.46 665.16L73.74 664.95L74.02 664.77L74.30 664.62L74.59 664.51L74.87 664.44L75.15 664.46L75.43 664.91L75.72 665.84L76.00 667.13L76.28 668.68L76.56 670.38L76.85 672.13L77.13 673.81L77.41 675.32L77.69 676.58L77.98 677.75L78.26 678.89L78.54 680.00L78.82 681.09L79.11 682.19L79.39 683.31L79.67 684.44L79.95 685.62L80.24 686.86L80.52 688.20L80.80 689.62L81.08 691.08L81.37 692.53L81.65 693.93L81.93 695.25L82.21 696.44L82.49 697.47L82.78 698.36L83.06 699.23L83.34 700.06L83.62 700.87L83.91 701.63L84.19 702.35L84.47 703.03L84.75 703.64L85.04 704.19L85.32 704.67L85.60 705.08L85.88 705.40L85.88 705.40Z" fill="none" stroke="#cf3a44" stroke-width="0.8"/>
<text x="114.0" y="638.3" font-size="12.5" text-anchor="end" fill="#e07a35" stroke="#e07a35" stroke-width="0.22">CLP</text>
<rect x="133.8" y="624.5" width="82.0" height="81.29999999999995" fill="none" stroke="#9a9a9a" stroke-width="0.7"/>
<line x1="133.8" y1="624.5" x2="133.8" y2="705.8" stroke="#333" stroke-width="0.7"/>
<line x1="133.8" y1="705.8" x2="215.8" y2="705.8" stroke="#333" stroke-width="0.7"/>
<text x="131.20000000000002" y="629.9" font-size="3.4" text-anchor="end" fill="#555">100</text>
<text x="131.20000000000002" y="645.1" font-size="3.4" text-anchor="end" fill="#555">80</text>
<text x="131.20000000000002" y="660.4" font-size="3.4" text-anchor="end" fill="#555">60</text>
<text x="131.20000000000002" y="675.6" font-size="3.4" text-anchor="end" fill="#555">40</text>
<text x="131.20000000000002" y="690.9" font-size="3.4" text-anchor="end" fill="#555">20</text>
<text x="131.20000000000002" y="706.1" font-size="3.4" text-anchor="end" fill="#555">0</text>
<text x="139.5" y="711.8" font-size="3.4" text-anchor="middle" fill="#555">-10<tspan dy="-1" font-size="2.5">3</tspan></text>
<text x="153.9" y="711.8" font-size="3.4" text-anchor="middle" fill="#555">0</text>
<text x="167.4" y="711.8" font-size="3.4" text-anchor="middle" fill="#555">10<tspan dy="-1" font-size="2.5">3</tspan></text>
<text x="190.4" y="711.8" font-size="3.4" text-anchor="middle" fill="#555">10<tspan dy="-1" font-size="2.5">4</tspan></text>
<text x="209.7" y="711.8" font-size="3.4" text-anchor="middle" fill="#555">10<tspan dy="-1" font-size="2.5">5</tspan></text>
<path d="M132.20000000000002 628.8h1.6M132.9 632.6h0.9M132.9 636.4h0.9M132.9 640.2h0.9M132.20000000000002 644.0h1.6M132.9 647.8h0.9M132.9 651.7h0.9M132.9 655.5h0.9M132.20000000000002 659.3h1.6M132.9 663.1h0.9M132.9 666.9h0.9M132.9 670.7h0.9M132.20000000000002 674.5h1.6M132.9 678.3h0.9M132.9 682.1h0.9M132.9 686.0h0.9M132.20000000000002 689.8h1.6M132.9 693.6h0.9M132.9 697.4h0.9M132.9 701.2h0.9M132.20000000000002 705.0h1.6M139.5 705.8v1.6M153.9 705.8v1.6M167.4 705.8v1.6M190.4 705.8v1.6M209.7 705.8v1.6M143.1 705.8v0.9M146.7 705.8v0.9M150.3 705.8v0.9M157.3 705.8v0.9M160.7 705.8v0.9M164.0 705.8v0.9M173.2 705.8v0.9M178.9 705.8v0.9M184.6 705.8v0.9M195.2 705.8v0.9M200.0 705.8v0.9M204.8 705.8v0.9" stroke="#444" stroke-width="0.5" fill="none"/>
<rect x="151.69000000000003" y="705.5" width="4.4" height="1.9" fill="#111" stroke="none" stroke-width="1"/>
<path d="M149.71 705.00L149.71 705.00L149.79 704.97L149.87 704.90L149.96 704.77L150.04 704.59L150.12 704.36L150.20 704.08L150.29 703.75L150.37 703.38L150.45 702.96L150.54 702.50L150.62 701.99L150.70 701.44L150.78 700.85L150.87 700.21L150.95 699.54L151.03 698.82L151.11 698.06L151.20 697.27L151.28 696.44L151.36 695.57L151.45 694.66L151.53 693.73L151.61 692.75L151.69 691.74L151.78 690.70L151.86 689.63L151.94 688.53L152.03 687.40L152.11 686.24L152.19 685.05L152.27 683.83L152.36 682.59L152.44 681.32L152.52 680.03L152.60 678.66L152.69 676.62L152.77 673.80L152.85 670.37L152.94 666.45L153.02 662.18L153.10 657.71L153.18 653.17L153.27 648.70L153.35 644.44L153.43 640.54L153.51 637.13L153.60 634.35L153.68 632.35L153.76 631.25L153.85 631.15L153.93 631.72L154.01 632.82L154.09 634.41L154.18 636.42L154.26 638.81L154.34 641.50L154.42 644.44L154.51 647.58L154.59 650.86L154.67 654.23L154.76 657.61L154.84 660.97L154.92 664.23L155.00 667.34L155.09 670.25L155.17 672.90L155.25 675.23L155.34 677.18L155.42 678.70L155.50 679.83L155.58 680.91L155.67 681.98L155.75 683.04L155.83 684.08L155.91 685.11L156.00 686.12L156.08 687.11L156.16 688.08L156.25 689.04L156.33 689.98L156.41 690.89L156.49 691.78L156.58 692.66L156.66 693.51L156.74 694.33L156.82 695.13L156.91 695.91L156.99 696.66L157.07 697.38L157.16 698.08L157.24 698.74L157.32 699.38L157.40 699.99L157.49 700.57L157.57 701.11L157.65 701.63L157.73 702.11L157.82 702.55L157.90 702.96L157.98 703.34L158.07 703.68L158.15 703.98L158.23 704.25L158.31 704.47L158.40 704.66L158.48 704.81L158.56 704.91L158.65 704.98L158.73 705.00L158.73 705.00Z" fill="#9c9c9c" stroke="#484848" stroke-width="0.6"/>
<path d="M149.71 705.00L149.71 705.00L149.79 704.97L149.88 704.89L149.97 704.74L150.05 704.55L150.14 704.30L150.23 704.00L150.31 703.64L150.40 703.24L150.49 702.78L150.57 702.28L150.66 701.72L150.75 701.12L150.83 700.48L150.92 699.79L151.01 699.05L151.09 698.27L151.18 697.45L151.27 696.59L151.35 695.69L151.44 694.75L151.52 693.77L151.61 692.75L151.70 691.70L151.78 690.61L151.87 689.49L151.96 688.33L152.04 687.14L152.13 685.92L152.22 684.67L152.30 683.38L152.39 682.07L152.48 680.74L152.56 679.37L152.65 677.65L152.74 675.04L152.82 671.68L152.91 667.74L153.00 663.37L153.08 658.73L153.17 653.99L153.26 649.30L153.34 644.82L153.43 640.71L153.51 637.13L153.60 634.24L153.69 632.21L153.77 631.18L153.86 631.18L153.95 631.75L154.03 632.77L154.12 634.21L154.21 636.02L154.29 638.15L154.38 640.57L154.47 643.22L154.55 646.06L154.64 649.04L154.73 652.11L154.81 655.24L154.90 658.38L154.99 661.48L155.07 664.49L155.16 667.38L155.24 670.08L155.33 672.57L155.42 674.80L155.50 676.71L155.59 678.26L155.68 679.43L155.76 680.48L155.85 681.52L155.94 682.55L156.02 683.57L156.11 684.58L156.20 685.57L156.28 686.54L156.37 687.50L156.46 688.45L156.54 689.37L156.63 690.28L156.72 691.17L156.80 692.04L156.89 692.89L156.98 693.71L157.06 694.52L157.15 695.30L157.23 696.06L157.32 696.79L157.41 697.50L157.49 698.18L157.58 698.84L157.67 699.46L157.75 700.06L157.84 700.63L157.93 701.16L158.01 701.67L158.10 702.14L158.19 702.58L158.27 702.99L158.36 703.36L158.45 703.69L158.53 703.99L158.62 704.26L158.71 704.48L158.79 704.66L158.88 704.81L158.96 704.92L159.05 704.98L159.14 705.00L159.14 705.00Z" fill="#f6bfc2" style="mix-blend-mode:multiply"/>
<path d="M149.71 705.00L149.71 705.00L149.79 704.97L149.88 704.89L149.97 704.74L150.05 704.55L150.14 704.30L150.23 704.00L150.31 703.64L150.40 703.24L150.49 702.78L150.57 702.28L150.66 701.72L150.75 701.12L150.83 700.48L150.92 699.79L151.01 699.05L151.09 698.27L151.18 697.45L151.27 696.59L151.35 695.69L151.44 694.75L151.52 693.77L151.61 692.75L151.70 691.70L151.78 690.61L151.87 689.49L151.96 688.33L152.04 687.14L152.13 685.92L152.22 684.67L152.30 683.38L152.39 682.07L152.48 680.74L152.56 679.37L152.65 677.65L152.74 675.04L152.82 671.68L152.91 667.74L153.00 663.37L153.08 658.73L153.17 653.99L153.26 649.30L153.34 644.82L153.43 640.71L153.51 637.13L153.60 634.24L153.69 632.21L153.77 631.18L153.86 631.18L153.95 631.75L154.03 632.77L154.12 634.21L154.21 636.02L154.29 638.15L154.38 640.57L154.47 643.22L154.55 646.06L154.64 649.04L154.73 652.11L154.81 655.24L154.90 658.38L154.99 661.48L155.07 664.49L155.16 667.38L155.24 670.08L155.33 672.57L155.42 674.80L155.50 676.71L155.59 678.26L155.68 679.43L155.76 680.48L155.85 681.52L155.94 682.55L156.02 683.57L156.11 684.58L156.20 685.57L156.28 686.54L156.37 687.50L156.46 688.45L156.54 689.37L156.63 690.28L156.72 691.17L156.80 692.04L156.89 692.89L156.98 693.71L157.06 694.52L157.15 695.30L157.23 696.06L157.32 696.79L157.41 697.50L157.49 698.18L157.58 698.84L157.67 699.46L157.75 700.06L157.84 700.63L157.93 701.16L158.01 701.67L158.10 702.14L158.19 702.58L158.27 702.99L158.36 703.36L158.45 703.69L158.53 703.99L158.62 704.26L158.71 704.48L158.79 704.66L158.88 704.81L158.96 704.92L159.05 704.98L159.14 705.00L159.14 705.00Z" fill="none" stroke="#cf3a44" stroke-width="0.8"/>
<text x="212.3" y="639.0" font-size="12.5" text-anchor="end" fill="#22a35a" stroke="#22a35a" stroke-width="0.22">MEP</text>
<rect x="233.6" y="624.6" width="81.79999999999998" height="80.79999999999995" fill="none" stroke="#9a9a9a" stroke-width="0.7"/>
<line x1="233.6" y1="624.6" x2="233.6" y2="705.4" stroke="#333" stroke-width="0.7"/>
<line x1="233.6" y1="705.4" x2="315.4" y2="705.4" stroke="#333" stroke-width="0.7"/>
<text x="231.0" y="630.0" font-size="3.4" text-anchor="end" fill="#555">100</text>
<text x="231.0" y="645.1" font-size="3.4" text-anchor="end" fill="#555">80</text>
<text x="231.0" y="660.3" font-size="3.4" text-anchor="end" fill="#555">60</text>
<text x="231.0" y="675.4" font-size="3.4" text-anchor="end" fill="#555">40</text>
<text x="231.0" y="690.6" font-size="3.4" text-anchor="end" fill="#555">20</text>
<text x="231.0" y="705.7" font-size="3.4" text-anchor="end" fill="#555">0</text>
<text x="239.3" y="711.4" font-size="3.4" text-anchor="middle" fill="#555">-10<tspan dy="-1" font-size="2.5">3</tspan></text>
<text x="253.6" y="711.4" font-size="3.4" text-anchor="middle" fill="#555">0</text>
<text x="267.1" y="711.4" font-size="3.4" text-anchor="middle" fill="#555">10<tspan dy="-1" font-size="2.5">3</tspan></text>
<text x="290.0" y="711.4" font-size="3.4" text-anchor="middle" fill="#555">10<tspan dy="-1" font-size="2.5">4</tspan></text>
<text x="309.3" y="711.4" font-size="3.4" text-anchor="middle" fill="#555">10<tspan dy="-1" font-size="2.5">5</tspan></text>
<path d="M232.0 628.9h1.6M232.7 632.7h0.9M232.7 636.5h0.9M232.7 640.3h0.9M232.0 644.0h1.6M232.7 647.8h0.9M232.7 651.6h0.9M232.7 655.4h0.9M232.0 659.2h1.6M232.7 663.0h0.9M232.7 666.8h0.9M232.7 670.5h0.9M232.0 674.3h1.6M232.7 678.1h0.9M232.7 681.9h0.9M232.7 685.7h0.9M232.0 689.5h1.6M232.7 693.2h0.9M232.7 697.0h0.9M232.7 700.8h0.9M232.0 704.6h1.6M239.3 705.4v1.6M253.6 705.4v1.6M267.1 705.4v1.6M290.0 705.4v1.6M309.3 705.4v1.6M242.9 705.4v0.9M246.5 705.4v0.9M250.1 705.4v0.9M257.0 705.4v0.9M260.4 705.4v0.9M263.8 705.4v0.9M272.9 705.4v0.9M278.6 705.4v0.9M284.3 705.4v0.9M294.8 705.4v0.9M299.7 705.4v0.9M304.5 705.4v0.9" stroke="#444" stroke-width="0.5" fill="none"/>
<rect x="251.441" y="705.1" width="4.4" height="1.9" fill="#111" stroke="none" stroke-width="1"/>
<path d="M249.55 704.60L249.55 704.60L249.63 704.57L249.72 704.50L249.80 704.37L249.88 704.19L249.96 703.96L250.05 703.69L250.13 703.36L250.21 702.99L250.29 702.58L250.38 702.12L250.46 701.61L250.54 701.07L250.62 700.48L250.71 699.84L250.79 699.17L250.87 698.46L250.95 697.71L251.04 696.92L251.12 696.09L251.20 695.23L251.28 694.33L251.37 693.40L251.45 692.43L251.53 691.43L251.61 690.40L251.70 689.33L251.78 688.24L251.86 687.12L251.94 685.96L252.03 684.78L252.11 683.57L252.19 682.34L252.28 681.08L252.36 679.79L252.44 678.43L252.52 676.40L252.61 673.61L252.69 670.20L252.77 666.30L252.85 662.06L252.94 657.62L253.02 653.11L253.10 648.67L253.18 644.44L253.27 640.56L253.35 637.18L253.43 634.42L253.51 632.42L253.60 631.33L253.68 631.23L253.76 631.80L253.84 632.90L253.93 634.47L254.01 636.47L254.09 638.84L254.17 641.51L254.26 644.44L254.34 647.56L254.42 650.82L254.50 654.16L254.59 657.52L254.67 660.85L254.75 664.10L254.83 667.19L254.92 670.08L255.00 672.71L255.08 675.02L255.16 676.96L255.25 678.47L255.33 679.59L255.41 680.67L255.49 681.73L255.58 682.78L255.66 683.82L255.74 684.84L255.82 685.84L255.91 686.83L255.99 687.80L256.07 688.74L256.16 689.67L256.24 690.58L256.32 691.47L256.40 692.34L256.49 693.18L256.57 694.00L256.65 694.80L256.73 695.57L256.82 696.31L256.90 697.03L256.98 697.72L257.06 698.38L257.15 699.02L257.23 699.62L257.31 700.20L257.39 700.74L257.48 701.25L257.56 701.72L257.64 702.17L257.72 702.58L257.81 702.95L257.89 703.29L257.97 703.59L258.05 703.85L258.14 704.08L258.22 704.26L258.30 704.41L258.38 704.51L258.47 704.58L258.55 704.60L258.55 704.60Z" fill="#9c9c9c" stroke="#484848" stroke-width="0.6"/>
<path d="M249.55 704.60L249.55 704.60L249.64 704.57L249.72 704.49L249.81 704.35L249.90 704.15L249.98 703.90L250.07 703.60L250.16 703.25L250.24 702.85L250.33 702.40L250.41 701.89L250.50 701.35L250.59 700.75L250.67 700.11L250.76 699.42L250.85 698.69L250.93 697.92L251.02 697.10L251.10 696.25L251.19 695.35L251.28 694.42L251.36 693.44L251.45 692.43L251.54 691.39L251.62 690.30L251.71 689.19L251.79 688.04L251.88 686.86L251.97 685.64L252.05 684.40L252.14 683.13L252.23 681.82L252.31 680.49L252.40 679.14L252.49 677.43L252.57 674.83L252.66 671.50L252.74 667.58L252.83 663.24L252.92 658.64L253.00 653.92L253.09 649.26L253.18 644.81L253.26 640.73L253.35 637.18L253.43 634.31L253.52 632.28L253.61 631.26L253.69 631.27L253.78 631.83L253.87 632.84L253.95 634.27L254.04 636.07L254.13 638.19L254.21 640.59L254.30 643.22L254.38 646.04L254.47 649.00L254.56 652.06L254.64 655.17L254.73 658.29L254.82 661.36L254.90 664.36L254.99 667.22L255.07 669.91L255.16 672.39L255.25 674.59L255.33 676.49L255.42 678.04L255.51 679.20L255.59 680.24L255.68 681.28L255.76 682.30L255.85 683.31L255.94 684.31L256.02 685.29L256.11 686.26L256.20 687.22L256.28 688.15L256.37 689.07L256.46 689.98L256.54 690.86L256.63 691.72L256.71 692.57L256.80 693.39L256.89 694.19L256.97 694.97L257.06 695.72L257.15 696.45L257.23 697.15L257.32 697.83L257.40 698.48L257.49 699.10L257.58 699.69L257.66 700.25L257.75 700.79L257.84 701.29L257.92 701.76L258.01 702.20L258.09 702.60L258.18 702.97L258.27 703.30L258.35 703.60L258.44 703.86L258.53 704.08L258.61 704.27L258.70 704.41L258.79 704.52L258.87 704.58L258.96 704.60L258.96 704.60Z" fill="#f6bfc2" style="mix-blend-mode:multiply"/>
<path d="M249.55 704.60L249.55 704.60L249.64 704.57L249.72 704.49L249.81 704.35L249.90 704.15L249.98 703.90L250.07 703.60L250.16 703.25L250.24 702.85L250.33 702.40L250.41 701.89L250.50 701.35L250.59 700.75L250.67 700.11L250.76 699.42L250.85 698.69L250.93 697.92L251.02 697.10L251.10 696.25L251.19 695.35L251.28 694.42L251.36 693.44L251.45 692.43L251.54 691.39L251.62 690.30L251.71 689.19L251.79 688.04L251.88 686.86L251.97 685.64L252.05 684.40L252.14 683.13L252.23 681.82L252.31 680.49L252.40 679.14L252.49 677.43L252.57 674.83L252.66 671.50L252.74 667.58L252.83 663.24L252.92 658.64L253.00 653.92L253.09 649.26L253.18 644.81L253.26 640.73L253.35 637.18L253.43 634.31L253.52 632.28L253.61 631.26L253.69 631.27L253.78 631.83L253.87 632.84L253.95 634.27L254.04 636.07L254.13 638.19L254.21 640.59L254.30 643.22L254.38 646.04L254.47 649.00L254.56 652.06L254.64 655.17L254.73 658.29L254.82 661.36L254.90 664.36L254.99 667.22L255.07 669.91L255.16 672.39L255.25 674.59L255.33 676.49L255.42 678.04L255.51 679.20L255.59 680.24L255.68 681.28L255.76 682.30L255.85 683.31L255.94 684.31L256.02 685.29L256.11 686.26L256.20 687.22L256.28 688.15L256.37 689.07L256.46 689.98L256.54 690.86L256.63 691.72L256.71 692.57L256.80 693.39L256.89 694.19L256.97 694.97L257.06 695.72L257.15 696.45L257.23 697.15L257.32 697.83L257.40 698.48L257.49 699.10L257.58 699.69L257.66 700.25L257.75 700.79L257.84 701.29L257.92 701.76L258.01 702.20L258.09 702.60L258.18 702.97L258.27 703.30L258.35 703.60L258.44 703.86L258.53 704.08L258.61 704.27L258.70 704.41L258.79 704.52L258.87 704.58L258.96 704.60L258.96 704.60Z" fill="none" stroke="#cf3a44" stroke-width="0.8"/>
<text x="311.9" y="639.1" font-size="12.5" text-anchor="end" fill="#efb820" stroke="#efb820" stroke-width="0.22">CMP</text>
<rect x="330.2" y="625.2" width="81.30000000000001" height="81.0" fill="none" stroke="#9a9a9a" stroke-width="0.7"/>
<line x1="330.2" y1="625.2" x2="330.2" y2="706.2" stroke="#333" stroke-width="0.7"/>
<line x1="330.2" y1="706.2" x2="411.5" y2="706.2" stroke="#333" stroke-width="0.7"/>
<text x="327.59999999999997" y="630.6" font-size="3.4" text-anchor="end" fill="#555">100</text>
<text x="327.59999999999997" y="645.8" font-size="3.4" text-anchor="end" fill="#555">80</text>
<text x="327.59999999999997" y="661.0" font-size="3.4" text-anchor="end" fill="#555">60</text>
<text x="327.59999999999997" y="676.1" font-size="3.4" text-anchor="end" fill="#555">40</text>
<text x="327.59999999999997" y="691.3" font-size="3.4" text-anchor="end" fill="#555">20</text>
<text x="327.59999999999997" y="706.5" font-size="3.4" text-anchor="end" fill="#555">0</text>
<text x="335.9" y="712.2" font-size="3.4" text-anchor="middle" fill="#555">-10<tspan dy="-1" font-size="2.5">3</tspan></text>
<text x="350.1" y="712.2" font-size="3.4" text-anchor="middle" fill="#555">0</text>
<text x="363.5" y="712.2" font-size="3.4" text-anchor="middle" fill="#555">10<tspan dy="-1" font-size="2.5">3</tspan></text>
<text x="386.3" y="712.2" font-size="3.4" text-anchor="middle" fill="#555">10<tspan dy="-1" font-size="2.5">4</tspan></text>
<text x="405.4" y="712.2" font-size="3.4" text-anchor="middle" fill="#555">10<tspan dy="-1" font-size="2.5">5</tspan></text>
<path d="M328.59999999999997 629.5h1.6M329.3 633.3h0.9M329.3 637.1h0.9M329.3 640.9h0.9M328.59999999999997 644.7h1.6M329.3 648.5h0.9M329.3 652.3h0.9M329.3 656.1h0.9M328.59999999999997 659.9h1.6M329.3 663.7h0.9M329.3 667.5h0.9M329.3 671.2h0.9M328.59999999999997 675.0h1.6M329.3 678.8h0.9M329.3 682.6h0.9M329.3 686.4h0.9M328.59999999999997 690.2h1.6M329.3 694.0h0.9M329.3 697.8h0.9M329.3 701.6h0.9M328.59999999999997 705.4h1.6M335.9 706.2v1.6M350.1 706.2v1.6M363.5 706.2v1.6M386.3 706.2v1.6M405.4 706.2v1.6M339.4 706.2v0.9M343.0 706.2v0.9M346.6 706.2v0.9M353.5 706.2v0.9M356.8 706.2v0.9M360.2 706.2v0.9M369.2 706.2v0.9M374.9 706.2v0.9M380.6 706.2v0.9M391.1 706.2v0.9M395.8 706.2v0.9M400.6 706.2v0.9" stroke="#444" stroke-width="0.5" fill="none"/>
<rect x="347.9185" y="705.9000000000001" width="4.4" height="1.9" fill="#111" stroke="none" stroke-width="1"/>
<path d="M345.73 705.40L345.73 705.40L345.81 705.37L345.89 705.30L345.97 705.17L346.06 704.99L346.14 704.76L346.22 704.48L346.30 704.16L346.38 703.79L346.47 703.37L346.55 702.91L346.63 702.41L346.71 701.86L346.79 701.27L346.88 700.63L346.96 699.96L347.04 699.24L347.12 698.49L347.21 697.70L347.29 696.87L347.37 696.01L347.45 695.11L347.53 694.17L347.62 693.20L347.70 692.20L347.78 691.16L347.86 690.09L347.94 689.00L348.03 687.87L348.11 686.71L348.19 685.53L348.27 684.32L348.35 683.08L348.44 681.81L348.52 680.52L348.60 679.17L348.68 677.13L348.76 674.33L348.85 670.91L348.93 667.00L349.01 662.75L349.09 658.29L349.17 653.77L349.26 649.32L349.34 645.08L349.42 641.19L349.50 637.80L349.58 635.03L349.67 633.03L349.75 631.94L349.83 631.84L349.91 632.40L349.99 633.51L350.08 635.09L350.16 637.09L350.24 639.47L350.32 642.15L350.40 645.08L350.49 648.21L350.57 651.48L350.65 654.83L350.73 658.20L350.82 661.54L350.90 664.79L350.98 667.89L351.06 670.79L351.14 673.43L351.23 675.75L351.31 677.69L351.39 679.20L351.47 680.33L351.55 681.41L351.64 682.47L351.72 683.53L351.80 684.56L351.88 685.59L351.96 686.59L352.05 687.58L352.13 688.55L352.21 689.50L352.29 690.43L352.37 691.35L352.46 692.24L352.54 693.10L352.62 693.95L352.70 694.77L352.78 695.57L352.87 696.34L352.95 697.09L353.03 697.81L353.11 698.50L353.19 699.17L353.28 699.80L353.36 700.41L353.44 700.98L353.52 701.53L353.60 702.04L353.69 702.52L353.77 702.96L353.85 703.37L353.93 703.75L354.01 704.09L354.10 704.39L354.18 704.65L354.26 704.88L354.34 705.06L354.43 705.21L354.51 705.31L354.59 705.38L354.67 705.40L354.67 705.40Z" fill="#9c9c9c" stroke="#484848" stroke-width="0.6"/>
<path d="M345.73 705.40L345.73 705.40L345.81 705.37L345.90 705.29L345.99 705.15L346.07 704.95L346.16 704.70L346.24 704.40L346.33 704.05L346.41 703.64L346.50 703.19L346.59 702.69L346.67 702.14L346.76 701.54L346.84 700.90L346.93 700.21L347.01 699.48L347.10 698.70L347.19 697.88L347.27 697.03L347.36 696.13L347.44 695.19L347.53 694.21L347.62 693.20L347.70 692.15L347.79 691.07L347.87 689.95L347.96 688.79L348.04 687.61L348.13 686.39L348.22 685.15L348.30 683.87L348.39 682.56L348.47 681.23L348.56 679.87L348.64 678.16L348.73 675.56L348.82 672.21L348.90 668.29L348.99 663.93L349.07 659.32L349.16 654.59L349.25 649.92L349.33 645.45L349.42 641.36L349.50 637.80L349.59 634.92L349.67 632.89L349.76 631.87L349.85 631.87L349.93 632.43L350.02 633.45L350.10 634.89L350.19 636.69L350.27 638.82L350.36 641.22L350.45 643.86L350.53 646.69L350.62 649.66L350.70 652.72L350.79 655.84L350.87 658.96L350.96 662.05L351.05 665.05L351.13 667.92L351.22 670.62L351.30 673.10L351.39 675.31L351.48 677.22L351.56 678.77L351.65 679.93L351.73 680.98L351.82 682.02L351.90 683.04L351.99 684.06L352.08 685.06L352.16 686.04L352.25 687.01L352.33 687.97L352.42 688.91L352.50 689.83L352.59 690.74L352.68 691.62L352.76 692.49L352.85 693.34L352.93 694.16L353.02 694.96L353.10 695.74L353.19 696.50L353.28 697.23L353.36 697.93L353.45 698.61L353.53 699.26L353.62 699.88L353.71 700.48L353.79 701.04L353.88 701.58L353.96 702.08L354.05 702.55L354.13 702.99L354.22 703.39L354.31 703.76L354.39 704.10L354.48 704.40L354.56 704.66L354.65 704.88L354.73 705.07L354.82 705.21L354.91 705.32L354.99 705.38L355.08 705.40L355.08 705.40Z" fill="#f6bfc2" style="mix-blend-mode:multiply"/>
<path d="M345.73 705.40L345.73 705.40L345.81 705.37L345.90 705.29L345.99 705.15L346.07 704.95L346.16 704.70L346.24 704.40L346.33 704.05L346.41 703.64L346.50 703.19L346.59 702.69L346.67 702.14L346.76 701.54L346.84 700.90L346.93 700.21L347.01 699.48L347.10 698.70L347.19 697.88L347.27 697.03L347.36 696.13L347.44 695.19L347.53 694.21L347.62 693.20L347.70 692.15L347.79 691.07L347.87 689.95L347.96 688.79L348.04 687.61L348.13 686.39L348.22 685.15L348.30 683.87L348.39 682.56L348.47 681.23L348.56 679.87L348.64 678.16L348.73 675.56L348.82 672.21L348.90 668.29L348.99 663.93L349.07 659.32L349.16 654.59L349.25 649.92L349.33 645.45L349.42 641.36L349.50 637.80L349.59 634.92L349.67 632.89L349.76 631.87L349.85 631.87L349.93 632.43L350.02 633.45L350.10 634.89L350.19 636.69L350.27 638.82L350.36 641.22L350.45 643.86L350.53 646.69L350.62 649.66L350.70 652.72L350.79 655.84L350.87 658.96L350.96 662.05L351.05 665.05L351.13 667.92L351.22 670.62L351.30 673.10L351.39 675.31L351.48 677.22L351.56 678.77L351.65 679.93L351.73 680.98L351.82 682.02L351.90 683.04L351.99 684.06L352.08 685.06L352.16 686.04L352.25 687.01L352.33 687.97L352.42 688.91L352.50 689.83L352.59 690.74L352.68 691.62L352.76 692.49L352.85 693.34L352.93 694.16L353.02 694.96L353.10 695.74L353.19 696.50L353.28 697.23L353.36 697.93L353.45 698.61L353.53 699.26L353.62 699.88L353.71 700.48L353.79 701.04L353.88 701.58L353.96 702.08L354.05 702.55L354.13 702.99L354.22 703.39L354.31 703.76L354.39 704.10L354.48 704.40L354.56 704.66L354.65 704.88L354.73 705.07L354.82 705.21L354.91 705.32L354.99 705.38L355.08 705.40L355.08 705.40Z" fill="none" stroke="#cf3a44" stroke-width="0.8"/>
<text x="408.0" y="639.7" font-size="12.5" text-anchor="end" fill="#3d4b66" stroke="#3d4b66" stroke-width="0.22">GMP</text>
<text x="22.6" y="669.4" font-size="11.4" text-anchor="middle" fill="#111" stroke="#111" stroke-width="0.22" transform="rotate(-90 22.6 669.4)">% Max</text>
<path d="M18.3 700.2 V720 H36.5" fill="none" stroke="#111" stroke-width="1.0"/>
<path d="M15.700000000000001 700.7 L18.3 696.2 L20.900000000000002 700.7Z" fill="#111"/>
<path d="M36.0 717.4 L40.5 720 L36.0 722.6Z" fill="#111"/>
<text x="47.5" y="726.3" font-size="11.3" fill="#111" stroke="#111" stroke-width="0.22">MSLN</text>
<text x="0.6" y="748" font-size="20.5" font-weight="bold" fill="#111" stroke="#111" stroke-width="0.5">C</text>
<line x1="60.2" y1="739.8" x2="60.2" y2="857.8" stroke="#222" stroke-width="1.1"/>
<text x="54.6" y="861.4" font-size="10.2" text-anchor="end" fill="#222" stroke="#222" stroke-width="0.22">0</text>
<text x="54.6" y="837.8" font-size="10.2" text-anchor="end" fill="#222" stroke="#222" stroke-width="0.22">20</text>
<text x="54.6" y="814.2" font-size="10.2" text-anchor="end" fill="#222" stroke="#222" stroke-width="0.22">40</text>
<text x="54.6" y="790.6" font-size="10.2" text-anchor="end" fill="#222" stroke="#222" stroke-width="0.22">60</text>
<text x="54.6" y="767.0" font-size="10.2" text-anchor="end" fill="#222" stroke="#222" stroke-width="0.22">80</text>
<text x="54.6" y="743.4" font-size="10.2" text-anchor="end" fill="#222" stroke="#222" stroke-width="0.22">100</text>
<path d="M56.400000000000006 857.8H60.2M56.400000000000006 834.2H60.2M56.400000000000006 810.6H60.2M56.400000000000006 787.0H60.2M56.400000000000006 763.4H60.2M56.400000000000006 739.8H60.2" stroke="#222" stroke-width="1.1"/>
<text x="35.0" y="797.2" font-size="12.8" text-anchor="middle" font-weight="bold" fill="#111" transform="rotate(-90 35.0 797.2)">% MSLN<tspan dy="-4.8" font-size="10.5">+</tspan></text>
<line x1="60.2" y1="857.8" x2="230" y2="857.8" stroke="#222" stroke-width="1.1"/>
<path d="M69.7 857.8v3M86.5 857.8v3M103.3 857.8v3M120.1 857.8v3M136.9 857.8v3M153.7 857.8v3M170.5 857.8v3M187.3 857.8v3M204.1 857.8v3M220.9 857.8v3" stroke="#222" stroke-width="1"/>
<rect x="62.5" y="774.846" width="14.3" height="82.95399999999995" fill="#df9ea3" stroke="#c26670" stroke-width="0.8"/>
<rect x="79.5" y="778.74" width="14.5" height="79.05999999999995" fill="#f59aa2" stroke="#e87a86" stroke-width="0.8"/>
<circle cx="64.5" cy="745.6" r="1.75" fill="#c8102e"/>
<circle cx="74.7" cy="744" r="1.75" fill="#c8102e"/>
<circle cx="64.5" cy="753.1" r="1.75" fill="#c8102e"/>
<circle cx="74.7" cy="752" r="1.75" fill="#c8102e"/>
<circle cx="64.5" cy="757.6" r="1.75" fill="#c8102e"/>
<circle cx="74.7" cy="759.5" r="1.75" fill="#c8102e"/>
<circle cx="69.7" cy="765" r="1.75" fill="#c8102e"/>
<circle cx="64.5" cy="769.4" r="1.75" fill="#c8102e"/>
<circle cx="74.7" cy="770.8" r="1.75" fill="#c8102e"/>
<circle cx="69.7" cy="779" r="1.75" fill="#c8102e"/>
<circle cx="69.7" cy="784.4" r="1.75" fill="#c8102e"/>
<circle cx="69.7" cy="807.5" r="1.75" fill="#c8102e"/>
<circle cx="69.7" cy="820.2" r="1.75" fill="#c8102e"/>
<circle cx="69.7" cy="836.7" r="1.75" fill="#c8102e"/>
<circle cx="84" cy="743.6" r="1.75" fill="#c8102e"/>
<circle cx="89" cy="742.2" r="1.75" fill="#c8102e"/>
<circle cx="81.5" cy="756.5" r="1.75" fill="#c8102e"/>
<circle cx="86.5" cy="756.5" r="1.75" fill="#c8102e"/>
<circle cx="91.7" cy="754.7" r="1.75" fill="#c8102e"/>
<circle cx="86.5" cy="767" r="1.75" fill="#c8102e"/>
<circle cx="81.5" cy="769.4" r="1.75" fill="#c8102e"/>
<circle cx="86.5" cy="770.8" r="1.75" fill="#c8102e"/>
<circle cx="91.7" cy="769.7" r="1.75" fill="#c8102e"/>
<circle cx="86.5" cy="786.8" r="1.75" fill="#c8102e"/>
<circle cx="86.5" cy="797.6" r="1.75" fill="#c8102e"/>
<circle cx="86.5" cy="812.7" r="1.75" fill="#c8102e"/>
<circle cx="86.5" cy="829.7" r="1.75" fill="#c8102e"/>
<circle cx="86.5" cy="843.5" r="1.75" fill="#c8102e"/>
<circle cx="99.3" cy="856.0" r="1.9" fill="#111"/>
<circle cx="103.3" cy="855.0" r="1.9" fill="#111"/>
<circle cx="107.3" cy="856.0" r="1.9" fill="#111"/>
<path d="M98.8 855.8h9" stroke="#111" stroke-width="0.8"/>
<circle cx="115.9" cy="857.3" r="1.4" fill="#3a4f9e"/>
<circle cx="118.7" cy="857.3" r="1.4" fill="#3a4f9e"/>
<circle cx="121.5" cy="857.3" r="1.4" fill="#3a4f9e"/>
<circle cx="124.3" cy="857.3" r="1.4" fill="#3a4f9e"/>
<path d="M115.6 857.3h9" stroke="#3a4f9e" stroke-width="0.8"/>
<circle cx="132.7" cy="857.3" r="1.4" fill="#7d58a8"/>
<circle cx="135.5" cy="857.3" r="1.4" fill="#7d58a8"/>
<circle cx="138.3" cy="857.3" r="1.4" fill="#7d58a8"/>
<circle cx="141.1" cy="857.3" r="1.4" fill="#7d58a8"/>
<path d="M132.4 857.3h9" stroke="#7d58a8" stroke-width="0.8"/>
<circle cx="149.5" cy="857.3" r="1.4" fill="#c4448f"/>
<circle cx="152.3" cy="857.3" r="1.4" fill="#c4448f"/>
<circle cx="155.1" cy="857.3" r="1.4" fill="#c4448f"/>
<circle cx="157.9" cy="857.3" r="1.4" fill="#c4448f"/>
<path d="M149.2 857.3h9" stroke="#c4448f" stroke-width="0.8"/>
<circle cx="167.0" cy="856.8" r="1.6" fill="#e07a35"/>
<circle cx="170.5" cy="856.2" r="1.6" fill="#e07a35"/>
<circle cx="174.0" cy="856.8" r="1.6" fill="#e07a35"/>
<path d="M166.0 857.3h9" stroke="#e07a35" stroke-width="0.8"/>
<circle cx="183.1" cy="857.3" r="1.4" fill="#22a35a"/>
<circle cx="185.9" cy="857.3" r="1.4" fill="#22a35a"/>
<circle cx="188.7" cy="857.3" r="1.4" fill="#22a35a"/>
<circle cx="191.5" cy="857.3" r="1.4" fill="#22a35a"/>
<path d="M182.8 857.3h9" stroke="#22a35a" stroke-width="0.8"/>
<circle cx="199.9" cy="857.3" r="1.4" fill="#efb820"/>
<circle cx="202.7" cy="857.3" r="1.4" fill="#efb820"/>
<circle cx="205.5" cy="857.3" r="1.4" fill="#efb820"/>
<circle cx="208.3" cy="857.3" r="1.4" fill="#efb820"/>
<path d="M199.6 857.3h9" stroke="#efb820" stroke-width="0.8"/>
<circle cx="216.7" cy="857.3" r="1.4" fill="#3d4b66"/>
<circle cx="219.5" cy="857.3" r="1.4" fill="#3d4b66"/>
<circle cx="222.3" cy="857.3" r="1.4" fill="#3d4b66"/>
<circle cx="225.1" cy="857.3" r="1.4" fill="#3d4b66"/>
<path d="M216.4 857.3h9" stroke="#3d4b66" stroke-width="0.8"/>
<text x="74.7" y="869.5" font-size="11.6" text-anchor="end" fill="#111" transform="rotate(-90 74.7 869.5)">Bulk</text>
<text x="91.1" y="869.5" font-size="10.6" text-anchor="end" fill="#111" transform="rotate(-90 91.1 869.5)">CD34<tspan dy="-4.0" font-size="8">+</tspan><tspan dy="4.0"> CD38</tspan><tspan dy="-4.0" font-size="8">&#8211;</tspan></text>
<text x="107.9" y="869.5" font-size="10.6" text-anchor="end" fill="#111" transform="rotate(-90 107.9 869.5)">CD34<tspan dy="-4.0" font-size="8">+</tspan></text>
<text x="125.1" y="869.5" font-size="11.6" text-anchor="end" fill="#111" transform="rotate(-90 125.1 869.5)">HSC</text>
<text x="141.9" y="869.5" font-size="11.6" text-anchor="end" fill="#111" transform="rotate(-90 141.9 869.5)">MPP</text>
<text x="158.7" y="869.5" font-size="11.6" text-anchor="end" fill="#111" transform="rotate(-90 158.7 869.5)">MLP</text>
<text x="175.5" y="869.5" font-size="11.6" text-anchor="end" fill="#111" transform="rotate(-90 175.5 869.5)">CLP</text>
<text x="192.3" y="869.5" font-size="11.6" text-anchor="end" fill="#111" transform="rotate(-90 192.3 869.5)">MEP</text>
<text x="209.1" y="869.5" font-size="11.6" text-anchor="end" fill="#111" transform="rotate(-90 209.1 869.5)">CMP</text>
<text x="225.9" y="869.5" font-size="11.6" text-anchor="end" fill="#111" transform="rotate(-90 225.9 869.5)">GMP</text>
<line x1="99.4" y1="903.6" x2="222.6" y2="903.6" stroke="#111" stroke-width="1.5"/>
<text x="166.1" y="917" font-size="12" text-anchor="middle" fill="#111" stroke="#111" stroke-width="0.22">Normal</text>
<line x1="62.6" y1="940.2" x2="93.6" y2="940.2" stroke="#111" stroke-width="1.5"/>
<text x="78.2" y="954" font-size="12" text-anchor="middle" fill="#111" stroke="#111" stroke-width="0.22">AML</text>
<text x="245.4" y="747.8" font-size="20.5" font-weight="bold" fill="#111" stroke="#111" stroke-width="0.5">D</text>
<line x1="317.6" y1="740.4" x2="317.6" y2="859.4" stroke="#222" stroke-width="1.1"/>
<text x="311.6" y="845.5" font-size="9.8" text-anchor="end" fill="#222" stroke="#222" stroke-width="0.22">1</text>
<text x="311.6" y="801.8" font-size="9.8" text-anchor="end" fill="#222" stroke="#222" stroke-width="0.22">10</text>
<text x="311.6" y="758.0" font-size="9.8" text-anchor="end" fill="#222" stroke="#222" stroke-width="0.22">100</text>
<path d="M313.8 842.0H317.6M313.8 798.2H317.6M313.8 754.5H317.6" stroke="#222" stroke-width="1.1"/>
<path d="M315.40000000000003 859.4H317.6M315.40000000000003 855.2H317.6M315.40000000000003 851.7H317.6M315.40000000000003 848.8H317.6M315.40000000000003 846.2H317.6M315.40000000000003 844.0H317.6M315.40000000000003 828.8H317.6M315.40000000000003 821.1H317.6M315.40000000000003 815.7H317.6M315.40000000000003 811.4H317.6M315.40000000000003 808.0H317.6M315.40000000000003 805.0H317.6M315.40000000000003 802.5H317.6M315.40000000000003 800.3H317.6M315.40000000000003 785.1H317.6M315.40000000000003 777.4H317.6M315.40000000000003 771.9H317.6M315.40000000000003 767.7H317.6M315.40000000000003 764.2H317.6M315.40000000000003 761.3H317.6M315.40000000000003 758.7H317.6M315.40000000000003 756.5H317.6M315.40000000000003 741.3H317.6" stroke="#333" stroke-width="0.7"/>
<line x1="317.6" y1="859.4" x2="486.5" y2="859.4" stroke="#222" stroke-width="1.1"/>
<path d="M327.7 859.4v3M344.6 859.4v3M361.5 859.4v3M378.4 859.4v3M395.3 859.4v3M412.2 859.4v3M429.1 859.4v3M446.0 859.4v3M462.9 859.4v3M479.8 859.4v3" stroke="#222" stroke-width="1"/>
<rect x="321.4" y="782.5" width="13.4" height="59.5" fill="#df9ea3" stroke="#c26670" stroke-width="0.8"/>
<rect x="338.2" y="776.1" width="13.7" height="65.89999999999998" fill="#f59aa2" stroke="#e87a86" stroke-width="0.8"/>
<line x1="317.6" y1="842" x2="486.5" y2="842" stroke="#111" stroke-width="1.5"/>
<circle cx="328.2" cy="748" r="1.75" fill="#c8102e"/>
<circle cx="328.2" cy="765" r="1.75" fill="#c8102e"/>
<circle cx="328.2" cy="773.5" r="1.75" fill="#c8102e"/>
<circle cx="328.2" cy="789.3" r="1.75" fill="#c8102e"/>
<circle cx="323.4" cy="793" r="1.75" fill="#c8102e"/>
<circle cx="328.2" cy="794.5" r="1.75" fill="#c8102e"/>
<circle cx="333" cy="792.5" r="1.75" fill="#c8102e"/>
<circle cx="325.8" cy="800" r="1.75" fill="#c8102e"/>
<circle cx="330.6" cy="801.3" r="1.75" fill="#c8102e"/>
<circle cx="328.2" cy="811.7" r="1.75" fill="#c8102e"/>
<circle cx="328.2" cy="817.5" r="1.75" fill="#c8102e"/>
<circle cx="328.2" cy="823" r="1.75" fill="#c8102e"/>
<circle cx="325.8" cy="829.1" r="1.75" fill="#c8102e"/>
<circle cx="330.6" cy="827.3" r="1.75" fill="#c8102e"/>
<circle cx="345" cy="741.9" r="1.75" fill="#c8102e"/>
<circle cx="345" cy="750" r="1.75" fill="#c8102e"/>
<circle cx="345" cy="762.6" r="1.75" fill="#c8102e"/>
<circle cx="345" cy="786.9" r="1.75" fill="#c8102e"/>
<circle cx="340.2" cy="794.9" r="1.75" fill="#c8102e"/>
<circle cx="349.9" cy="796.9" r="1.75" fill="#c8102e"/>
<circle cx="340.2" cy="799.9" r="1.75" fill="#c8102e"/>
<circle cx="349.9" cy="801.3" r="1.75" fill="#c8102e"/>
<circle cx="345" cy="809.3" r="1.75" fill="#c8102e"/>
<circle cx="345" cy="819.4" r="1.75" fill="#c8102e"/>
<circle cx="340.2" cy="821.2" r="1.75" fill="#c8102e"/>
<circle cx="349.9" cy="822.4" r="1.75" fill="#c8102e"/>
<circle cx="342.6" cy="832.4" r="1.75" fill="#c8102e"/>
<circle cx="347.5" cy="830.6" r="1.75" fill="#c8102e"/>
<path d="M357.0 843.7h9" stroke="#111" stroke-width="0.8"/>
<circle cx="358.0" cy="844" r="1.9" fill="#111"/>
<circle cx="361.5" cy="843.3" r="1.9" fill="#111"/>
<circle cx="365.0" cy="843.8" r="1.9" fill="#111"/>
<path d="M378.4 837.3V845M375.9 837.3h5M375.9 845h5" stroke="#3a4f9e" stroke-width="0.9" fill="none"/>
<path d="M373.9 842.2h9" stroke="#3a4f9e" stroke-width="0.8"/>
<circle cx="375.0" cy="845" r="1.7" fill="#3a4f9e"/>
<circle cx="378.4" cy="837.3" r="1.7" fill="#3a4f9e"/>
<circle cx="381.8" cy="844.2" r="1.7" fill="#3a4f9e"/>
<path d="M395.3 837.3V845M392.8 837.3h5M392.8 845h5" stroke="#7d58a8" stroke-width="0.9" fill="none"/>
<path d="M390.8 842.2h9" stroke="#7d58a8" stroke-width="0.8"/>
<circle cx="391.9" cy="845" r="1.7" fill="#7d58a8"/>
<circle cx="395.3" cy="837.3" r="1.7" fill="#7d58a8"/>
<circle cx="398.7" cy="844.2" r="1.7" fill="#7d58a8"/>
<path d="M412.2 843V848M409.7 843h5M409.7 848h5" stroke="#c4448f" stroke-width="0.9" fill="none"/>
<path d="M407.7 844.8h9" stroke="#c4448f" stroke-width="0.8"/>
<circle cx="408.8" cy="843.2" r="1.7" fill="#c4448f"/>
<circle cx="412.2" cy="848" r="1.7" fill="#c4448f"/>
<circle cx="415.6" cy="843.2" r="1.7" fill="#c4448f"/>
<path d="M424.6 841.0h9" stroke="#e07a35" stroke-width="0.8"/>
<circle cx="425.9" cy="841.2" r="1.7" fill="#e07a35"/>
<circle cx="429.1" cy="840.6" r="1.7" fill="#e07a35"/>
<circle cx="432.3" cy="841.2" r="1.7" fill="#e07a35"/>
<path d="M441.5 844.8h9" stroke="#22a35a" stroke-width="0.8"/>
<circle cx="442.5" cy="845.6" r="1.7" fill="#22a35a"/>
<circle cx="446.0" cy="844.6" r="1.7" fill="#22a35a"/>
<circle cx="449.5" cy="844.2" r="1.7" fill="#22a35a"/>
<path d="M462.9 843V856M460.4 843h5M460.4 856h5" stroke="#efb820" stroke-width="0.9" fill="none"/>
<path d="M458.4 847.3h9" stroke="#efb820" stroke-width="0.8"/>
<circle cx="459.5" cy="843" r="1.7" fill="#efb820"/>
<circle cx="462.9" cy="856" r="1.7" fill="#efb820"/>
<circle cx="466.3" cy="843" r="1.7" fill="#efb820"/>
<path d="M475.3 844.6h9" stroke="#3d4b66" stroke-width="0.8"/>
<circle cx="476.4" cy="844.6" r="1.7" fill="#3d4b66"/>
<circle cx="479.8" cy="844.6" r="1.7" fill="#3d4b66"/>
<circle cx="483.2" cy="844.6" r="1.7" fill="#3d4b66"/>
<text x="332.7" y="869.5" font-size="11.6" text-anchor="end" fill="#111" transform="rotate(-90 332.7 869.5)">Bulk</text>
<text x="349.2" y="869.5" font-size="10.6" text-anchor="end" fill="#111" transform="rotate(-90 349.2 869.5)">CD34<tspan dy="-4.0" font-size="8">+</tspan><tspan dy="4.0"> CD38</tspan><tspan dy="-4.0" font-size="8">&#8211;</tspan></text>
<text x="366.1" y="869.5" font-size="10.6" text-anchor="end" fill="#111" transform="rotate(-90 366.1 869.5)">CD34<tspan dy="-4.0" font-size="8">+</tspan></text>
<text x="383.4" y="869.5" font-size="11.6" text-anchor="end" fill="#111" transform="rotate(-90 383.4 869.5)">HSC</text>
<text x="400.3" y="869.5" font-size="11.6" text-anchor="end" fill="#111" transform="rotate(-90 400.3 869.5)">MPP</text>
<text x="417.2" y="869.5" font-size="11.6" text-anchor="end" fill="#111" transform="rotate(-90 417.2 869.5)">MLP</text>
<text x="434.1" y="869.5" font-size="11.6" text-anchor="end" fill="#111" transform="rotate(-90 434.1 869.5)">CLP</text>
<text x="451.0" y="869.5" font-size="11.6" text-anchor="end" fill="#111" transform="rotate(-90 451.0 869.5)">MEP</text>
<text x="467.9" y="869.5" font-size="11.6" text-anchor="end" fill="#111" transform="rotate(-90 467.9 869.5)">CMP</text>
<text x="484.8" y="869.5" font-size="11.6" text-anchor="end" fill="#111" transform="rotate(-90 484.8 869.5)">GMP</text>
<line x1="357.7" y1="901.6" x2="480.9" y2="901.6" stroke="#111" stroke-width="1.5"/>
<text x="425" y="916.2" font-size="12" text-anchor="middle" fill="#111" stroke="#111" stroke-width="0.22">Normal</text>
<line x1="322.3" y1="940.2" x2="352.1" y2="940.2" stroke="#111" stroke-width="1.5"/>
<text x="337.4" y="954.4" font-size="12" text-anchor="middle" fill="#111" stroke="#111" stroke-width="0.22">AML</text>
<text x="267.6" y="794" font-size="12.3" text-anchor="middle" font-weight="bold" fill="#111" transform="rotate(-90 267.6 794)">MSLN MFI</text>
<text x="282.6" y="793" font-size="12.4" text-anchor="middle" fill="#222" stroke="#222" stroke-width="0.22" transform="rotate(-90 282.6 793)">(fold-change relative</text>
<text x="297.8" y="792" font-size="12.4" text-anchor="middle" fill="#222" stroke="#222" stroke-width="0.22" transform="rotate(-90 297.8 792)">to control)</text>
</svg>
</body></html>
